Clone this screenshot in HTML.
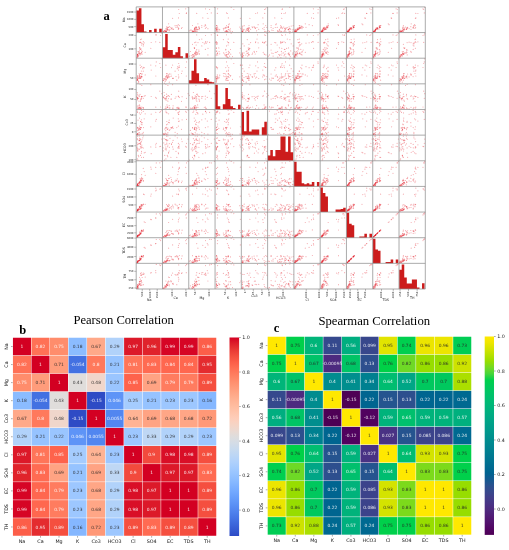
<!DOCTYPE html>
<html lang="en"><head><meta charset="utf-8"><title>Correlation figure</title>
<style>html,body{margin:0;padding:0;background:#fff;width:509px;height:550px;overflow:hidden}svg{display:block}</style>
</head><body>
<svg width="509" height="550" viewBox="0 0 509 550">
<rect width="509" height="550" fill="#fff"/>
<g id="scatter">
<g stroke="#e2121e" stroke-opacity="0.34" stroke-width="1.2" stroke-linecap="round" fill="none">
<path d="M169.2 30.8h0M195.6 30.8h0M219.1 30.8h0M256.6 30.8h0M277.6 30.8h0M296.5 30.8h0M322.1 30.8h0M349.0 30.8h0M375.2 30.8h0M403.5 30.8h0M138.0 51.6h0M195.6 51.6h0M219.1 51.6h0M256.6 51.6h0M277.6 51.6h0M296.5 51.6h0M322.1 51.6h0M349.0 51.6h0M375.2 51.6h0M403.5 51.6h0M138.0 77.2h0M169.2 77.2h0M219.1 77.2h0M256.6 77.2h0M277.6 77.2h0M296.5 77.2h0M322.1 77.2h0M349.0 77.2h0M375.2 77.2h0M403.5 77.2h0M138.0 105.6h0M169.2 105.6h0M195.6 105.6h0M256.6 105.6h0M277.6 105.6h0M296.5 105.6h0M322.1 105.6h0M349.0 105.6h0M375.2 105.6h0M403.5 105.6h0M138.0 120.2h0M169.2 120.2h0M195.6 120.2h0M219.1 120.2h0M277.6 120.2h0M296.5 120.2h0M322.1 120.2h0M349.0 120.2h0M375.2 120.2h0M403.5 120.2h0M138.0 151.0h0M169.2 151.0h0M195.6 151.0h0M219.1 151.0h0M256.6 151.0h0M296.5 151.0h0M322.1 151.0h0M349.0 151.0h0M375.2 151.0h0M403.5 151.0h0M138.0 183.8h0M169.2 183.8h0M195.6 183.8h0M219.1 183.8h0M256.6 183.8h0M277.6 183.8h0M322.1 183.8h0M349.0 183.8h0M375.2 183.8h0M403.5 183.8h0M138.0 210.2h0M169.2 210.2h0M195.6 210.2h0M219.1 210.2h0M256.6 210.2h0M277.6 210.2h0M296.5 210.2h0M349.0 210.2h0M375.2 210.2h0M403.5 210.2h0M138.0 235.3h0M169.2 235.3h0M195.6 235.3h0M219.1 235.3h0M256.6 235.3h0M277.6 235.3h0M296.5 235.3h0M322.1 235.3h0M375.2 235.3h0M403.5 235.3h0M138.0 260.9h0M169.2 260.9h0M195.6 260.9h0M219.1 260.9h0M256.6 260.9h0M277.6 260.9h0M296.5 260.9h0M322.1 260.9h0M349.0 260.9h0M403.5 260.9h0M138.0 284.6h0M169.2 284.6h0M195.6 284.6h0M219.1 284.6h0M256.6 284.6h0M277.6 284.6h0M296.5 284.6h0M322.1 284.6h0M349.0 284.6h0M375.2 284.6h0"/>
<path d="M176.8 25.5h0M192.5 25.5h0M216.6 25.5h0M249.0 25.5h0M271.1 25.5h0M299.9 25.5h0M338.5 25.5h0M354.3 25.5h0M380.6 25.5h0M403.4 25.5h0M143.5 44.3h0M192.5 44.3h0M216.6 44.3h0M249.0 44.3h0M271.1 44.3h0M299.9 44.3h0M338.5 44.3h0M354.3 44.3h0M380.6 44.3h0M403.4 44.3h0M143.5 80.2h0M176.8 80.2h0M216.6 80.2h0M249.0 80.2h0M271.1 80.2h0M299.9 80.2h0M338.5 80.2h0M354.3 80.2h0M380.6 80.2h0M403.4 80.2h0M143.5 107.9h0M176.8 107.9h0M192.5 107.9h0M249.0 107.9h0M271.1 107.9h0M299.9 107.9h0M338.5 107.9h0M354.3 107.9h0M380.6 107.9h0M403.4 107.9h0M143.5 127.6h0M176.8 127.6h0M192.5 127.6h0M216.6 127.6h0M271.1 127.6h0M299.9 127.6h0M338.5 127.6h0M354.3 127.6h0M380.6 127.6h0M403.4 127.6h0M143.5 157.4h0M176.8 157.4h0M192.5 157.4h0M216.6 157.4h0M249.0 157.4h0M299.9 157.4h0M338.5 157.4h0M354.3 157.4h0M380.6 157.4h0M403.4 157.4h0M143.5 180.6h0M176.8 180.6h0M192.5 180.6h0M216.6 180.6h0M249.0 180.6h0M271.1 180.6h0M338.5 180.6h0M354.3 180.6h0M380.6 180.6h0M403.4 180.6h0M143.5 194.2h0M176.8 194.2h0M192.5 194.2h0M216.6 194.2h0M249.0 194.2h0M271.1 194.2h0M299.9 194.2h0M354.3 194.2h0M380.6 194.2h0M403.4 194.2h0M143.5 230.0h0M176.8 230.0h0M192.5 230.0h0M216.6 230.0h0M249.0 230.0h0M271.1 230.0h0M299.9 230.0h0M338.5 230.0h0M380.6 230.0h0M403.4 230.0h0M143.5 255.7h0M176.8 255.7h0M192.5 255.7h0M216.6 255.7h0M249.0 255.7h0M271.1 255.7h0M299.9 255.7h0M338.5 255.7h0M354.3 255.7h0M403.4 255.7h0M143.5 284.7h0M176.8 284.7h0M192.5 284.7h0M216.6 284.7h0M249.0 284.7h0M271.1 284.7h0M299.9 284.7h0M338.5 284.7h0M354.3 284.7h0M380.6 284.7h0"/>
<path d="M178.5 17.9h0M202.8 17.9h0M228.4 17.9h0M262.8 17.9h0M274.8 17.9h0M311.5 17.9h0M338.6 17.9h0M364.9 17.9h0M391.2 17.9h0M415.9 17.9h0M151.2 42.5h0M202.8 42.5h0M228.4 42.5h0M262.8 42.5h0M274.8 42.5h0M311.5 42.5h0M338.6 42.5h0M364.9 42.5h0M391.2 42.5h0M415.9 42.5h0M151.2 70.1h0M178.5 70.1h0M228.4 70.1h0M262.8 70.1h0M274.8 70.1h0M311.5 70.1h0M338.6 70.1h0M364.9 70.1h0M391.2 70.1h0M415.9 70.1h0M151.2 96.5h0M178.5 96.5h0M202.8 96.5h0M262.8 96.5h0M274.8 96.5h0M311.5 96.5h0M338.6 96.5h0M364.9 96.5h0M391.2 96.5h0M415.9 96.5h0M151.2 114.2h0M178.5 114.2h0M202.8 114.2h0M228.4 114.2h0M274.8 114.2h0M311.5 114.2h0M338.6 114.2h0M364.9 114.2h0M391.2 114.2h0M415.9 114.2h0M151.2 153.7h0M178.5 153.7h0M202.8 153.7h0M228.4 153.7h0M262.8 153.7h0M311.5 153.7h0M338.6 153.7h0M364.9 153.7h0M391.2 153.7h0M415.9 153.7h0M151.2 169.2h0M178.5 169.2h0M202.8 169.2h0M228.4 169.2h0M262.8 169.2h0M274.8 169.2h0M338.6 169.2h0M364.9 169.2h0M391.2 169.2h0M415.9 169.2h0M151.2 194.1h0M178.5 194.1h0M202.8 194.1h0M228.4 194.1h0M262.8 194.1h0M274.8 194.1h0M311.5 194.1h0M364.9 194.1h0M391.2 194.1h0M415.9 194.1h0M151.2 219.7h0M178.5 219.7h0M202.8 219.7h0M228.4 219.7h0M262.8 219.7h0M274.8 219.7h0M311.5 219.7h0M338.6 219.7h0M391.2 219.7h0M415.9 219.7h0M151.2 245.3h0M178.5 245.3h0M202.8 245.3h0M228.4 245.3h0M262.8 245.3h0M274.8 245.3h0M311.5 245.3h0M338.6 245.3h0M364.9 245.3h0M415.9 245.3h0M151.2 272.5h0M178.5 272.5h0M202.8 272.5h0M228.4 272.5h0M262.8 272.5h0M274.8 272.5h0M311.5 272.5h0M338.6 272.5h0M364.9 272.5h0M391.2 272.5h0"/>
<path d="M173.2 29.3h0M194.2 29.3h0M216.4 29.3h0M258.7 29.3h0M279.4 29.3h0M298.0 29.3h0M324.6 29.3h0M350.5 29.3h0M376.8 29.3h0M403.7 29.3h0M139.5 47.8h0M194.2 47.8h0M216.4 47.8h0M258.7 47.8h0M279.4 47.8h0M298.0 47.8h0M324.6 47.8h0M350.5 47.8h0M376.8 47.8h0M403.7 47.8h0M139.5 78.5h0M173.2 78.5h0M216.4 78.5h0M258.7 78.5h0M279.4 78.5h0M298.0 78.5h0M324.6 78.5h0M350.5 78.5h0M376.8 78.5h0M403.7 78.5h0M139.5 108.1h0M173.2 108.1h0M194.2 108.1h0M258.7 108.1h0M279.4 108.1h0M298.0 108.1h0M324.6 108.1h0M350.5 108.1h0M376.8 108.1h0M403.7 108.1h0M139.5 118.1h0M173.2 118.1h0M194.2 118.1h0M216.4 118.1h0M279.4 118.1h0M298.0 118.1h0M324.6 118.1h0M350.5 118.1h0M376.8 118.1h0M403.7 118.1h0M139.5 149.2h0M173.2 149.2h0M194.2 149.2h0M216.4 149.2h0M258.7 149.2h0M298.0 149.2h0M324.6 149.2h0M350.5 149.2h0M376.8 149.2h0M403.7 149.2h0M139.5 182.4h0M173.2 182.4h0M194.2 182.4h0M216.4 182.4h0M258.7 182.4h0M279.4 182.4h0M324.6 182.4h0M350.5 182.4h0M376.8 182.4h0M403.7 182.4h0M139.5 207.8h0M173.2 207.8h0M194.2 207.8h0M216.4 207.8h0M258.7 207.8h0M279.4 207.8h0M298.0 207.8h0M350.5 207.8h0M376.8 207.8h0M403.7 207.8h0M139.5 233.8h0M173.2 233.8h0M194.2 233.8h0M216.4 233.8h0M258.7 233.8h0M279.4 233.8h0M298.0 233.8h0M324.6 233.8h0M376.8 233.8h0M403.7 233.8h0M139.5 259.4h0M173.2 259.4h0M194.2 259.4h0M216.4 259.4h0M258.7 259.4h0M279.4 259.4h0M298.0 259.4h0M324.6 259.4h0M350.5 259.4h0M403.7 259.4h0M139.5 284.4h0M173.2 284.4h0M194.2 284.4h0M216.4 284.4h0M258.7 284.4h0M279.4 284.4h0M298.0 284.4h0M324.6 284.4h0M350.5 284.4h0M376.8 284.4h0"/>
<path d="M166.5 26.8h0M196.1 26.8h0M228.1 26.8h0M252.1 26.8h0M289.1 26.8h0M301.2 26.8h0M327.9 26.8h0M353.1 26.8h0M379.4 26.8h0M403.2 26.8h0M142.0 54.3h0M196.1 54.3h0M228.1 54.3h0M252.1 54.3h0M289.1 54.3h0M301.2 54.3h0M327.9 54.3h0M353.1 54.3h0M379.4 54.3h0M403.2 54.3h0M142.0 76.7h0M166.5 76.7h0M228.1 76.7h0M252.1 76.7h0M289.1 76.7h0M301.2 76.7h0M327.9 76.7h0M353.1 76.7h0M379.4 76.7h0M403.2 76.7h0M142.0 96.7h0M166.5 96.7h0M196.1 96.7h0M252.1 96.7h0M289.1 96.7h0M301.2 96.7h0M327.9 96.7h0M353.1 96.7h0M379.4 96.7h0M403.2 96.7h0M142.0 124.7h0M166.5 124.7h0M196.1 124.7h0M228.1 124.7h0M289.1 124.7h0M301.2 124.7h0M327.9 124.7h0M353.1 124.7h0M379.4 124.7h0M403.2 124.7h0M142.0 139.8h0M166.5 139.8h0M196.1 139.8h0M228.1 139.8h0M252.1 139.8h0M301.2 139.8h0M327.9 139.8h0M353.1 139.8h0M379.4 139.8h0M403.2 139.8h0M142.0 179.3h0M166.5 179.3h0M196.1 179.3h0M228.1 179.3h0M252.1 179.3h0M289.1 179.3h0M327.9 179.3h0M353.1 179.3h0M379.4 179.3h0M403.2 179.3h0M142.0 204.6h0M166.5 204.6h0M196.1 204.6h0M228.1 204.6h0M252.1 204.6h0M289.1 204.6h0M301.2 204.6h0M353.1 204.6h0M379.4 204.6h0M403.2 204.6h0M142.0 231.2h0M166.5 231.2h0M196.1 231.2h0M228.1 231.2h0M252.1 231.2h0M289.1 231.2h0M301.2 231.2h0M327.9 231.2h0M379.4 231.2h0M403.2 231.2h0M142.0 256.9h0M166.5 256.9h0M196.1 256.9h0M228.1 256.9h0M252.1 256.9h0M289.1 256.9h0M301.2 256.9h0M327.9 256.9h0M353.1 256.9h0M403.2 256.9h0M142.0 284.9h0M166.5 284.9h0M196.1 284.9h0M228.1 284.9h0M252.1 284.9h0M289.1 284.9h0M301.2 284.9h0M327.9 284.9h0M353.1 284.9h0M379.4 284.9h0"/>
<path d="M168.5 27.5h0M196.7 27.5h0M226.2 27.5h0M254.4 27.5h0M275.3 27.5h0M301.9 27.5h0M325.8 27.5h0M351.6 27.5h0M377.9 27.5h0M407.0 27.5h0M141.4 52.3h0M196.7 52.3h0M226.2 52.3h0M254.4 52.3h0M275.3 52.3h0M301.9 52.3h0M325.8 52.3h0M351.6 52.3h0M377.9 52.3h0M407.0 52.3h0M141.4 76.1h0M168.5 76.1h0M226.2 76.1h0M254.4 76.1h0M275.3 76.1h0M301.9 76.1h0M325.8 76.1h0M351.6 76.1h0M377.9 76.1h0M407.0 76.1h0M141.4 98.6h0M168.5 98.6h0M196.7 98.6h0M254.4 98.6h0M275.3 98.6h0M301.9 98.6h0M325.8 98.6h0M351.6 98.6h0M377.9 98.6h0M407.0 98.6h0M141.4 122.4h0M168.5 122.4h0M196.7 122.4h0M226.2 122.4h0M275.3 122.4h0M301.9 122.4h0M325.8 122.4h0M351.6 122.4h0M377.9 122.4h0M407.0 122.4h0M141.4 153.2h0M168.5 153.2h0M196.7 153.2h0M226.2 153.2h0M254.4 153.2h0M301.9 153.2h0M325.8 153.2h0M351.6 153.2h0M377.9 153.2h0M407.0 153.2h0M141.4 178.6h0M168.5 178.6h0M196.7 178.6h0M226.2 178.6h0M254.4 178.6h0M275.3 178.6h0M325.8 178.6h0M351.6 178.6h0M377.9 178.6h0M407.0 178.6h0M141.4 206.5h0M168.5 206.5h0M196.7 206.5h0M226.2 206.5h0M254.4 206.5h0M275.3 206.5h0M301.9 206.5h0M351.6 206.5h0M377.9 206.5h0M407.0 206.5h0M141.4 232.6h0M168.5 232.6h0M196.7 232.6h0M226.2 232.6h0M254.4 232.6h0M275.3 232.6h0M301.9 232.6h0M325.8 232.6h0M377.9 232.6h0M407.0 232.6h0M141.4 258.3h0M168.5 258.3h0M196.7 258.3h0M226.2 258.3h0M254.4 258.3h0M275.3 258.3h0M301.9 258.3h0M325.8 258.3h0M351.6 258.3h0M407.0 258.3h0M141.4 281.2h0M168.5 281.2h0M196.7 281.2h0M226.2 281.2h0M254.4 281.2h0M275.3 281.2h0M301.9 281.2h0M325.8 281.2h0M351.6 281.2h0M377.9 281.2h0"/>
<path d="M181.5 28.4h0M199.4 28.4h0M223.4 28.4h0M247.3 28.4h0M289.9 28.4h0M297.8 28.4h0M325.7 28.4h0M351.2 28.4h0M377.5 28.4h0M415.0 28.4h0M140.5 39.6h0M199.4 39.6h0M223.4 39.6h0M247.3 39.6h0M289.9 39.6h0M297.8 39.6h0M325.7 39.6h0M351.2 39.6h0M377.5 39.6h0M415.0 39.6h0M140.5 73.5h0M181.5 73.5h0M223.4 73.5h0M247.3 73.5h0M289.9 73.5h0M297.8 73.5h0M325.7 73.5h0M351.2 73.5h0M377.5 73.5h0M415.0 73.5h0M140.5 101.3h0M181.5 101.3h0M199.4 101.3h0M247.3 101.3h0M289.9 101.3h0M297.8 101.3h0M325.7 101.3h0M351.2 101.3h0M377.5 101.3h0M415.0 101.3h0M140.5 129.3h0M181.5 129.3h0M199.4 129.3h0M223.4 129.3h0M289.9 129.3h0M297.8 129.3h0M325.7 129.3h0M351.2 129.3h0M377.5 129.3h0M415.0 129.3h0M140.5 139.0h0M181.5 139.0h0M199.4 139.0h0M223.4 139.0h0M247.3 139.0h0M297.8 139.0h0M325.7 139.0h0M351.2 139.0h0M377.5 139.0h0M415.0 139.0h0M140.5 182.6h0M181.5 182.6h0M199.4 182.6h0M223.4 182.6h0M247.3 182.6h0M289.9 182.6h0M325.7 182.6h0M351.2 182.6h0M377.5 182.6h0M415.0 182.6h0M140.5 206.7h0M181.5 206.7h0M199.4 206.7h0M223.4 206.7h0M247.3 206.7h0M289.9 206.7h0M297.8 206.7h0M351.2 206.7h0M377.5 206.7h0M415.0 206.7h0M140.5 233.0h0M181.5 233.0h0M199.4 233.0h0M223.4 233.0h0M247.3 233.0h0M289.9 233.0h0M297.8 233.0h0M325.7 233.0h0M377.5 233.0h0M415.0 233.0h0M140.5 258.7h0M181.5 258.7h0M199.4 258.7h0M223.4 258.7h0M247.3 258.7h0M289.9 258.7h0M297.8 258.7h0M325.7 258.7h0M351.2 258.7h0M415.0 258.7h0M140.5 273.4h0M181.5 273.4h0M199.4 273.4h0M223.4 273.4h0M247.3 273.4h0M289.9 273.4h0M297.8 273.4h0M325.7 273.4h0M351.2 273.4h0M377.5 273.4h0"/>
<path d="M169.4 26.7h0M198.9 26.7h0M228.4 26.7h0M254.1 26.7h0M281.4 26.7h0M302.2 26.7h0M327.2 26.7h0M353.9 26.7h0M380.1 26.7h0M410.8 26.7h0M142.2 51.4h0M198.9 51.4h0M228.4 51.4h0M254.1 51.4h0M281.4 51.4h0M302.2 51.4h0M327.2 51.4h0M353.9 51.4h0M380.1 51.4h0M410.8 51.4h0M142.2 73.9h0M169.4 73.9h0M228.4 73.9h0M254.1 73.9h0M281.4 73.9h0M302.2 73.9h0M327.2 73.9h0M353.9 73.9h0M380.1 73.9h0M410.8 73.9h0M142.2 96.5h0M169.4 96.5h0M198.9 96.5h0M254.1 96.5h0M281.4 96.5h0M302.2 96.5h0M327.2 96.5h0M353.9 96.5h0M380.1 96.5h0M410.8 96.5h0M142.2 122.7h0M169.4 122.7h0M198.9 122.7h0M228.4 122.7h0M281.4 122.7h0M302.2 122.7h0M327.2 122.7h0M353.9 122.7h0M380.1 122.7h0M410.8 122.7h0M142.2 147.3h0M169.4 147.3h0M198.9 147.3h0M228.4 147.3h0M254.1 147.3h0M302.2 147.3h0M327.2 147.3h0M353.9 147.3h0M380.1 147.3h0M410.8 147.3h0M142.2 178.3h0M169.4 178.3h0M198.9 178.3h0M228.4 178.3h0M254.1 178.3h0M281.4 178.3h0M327.2 178.3h0M353.9 178.3h0M380.1 178.3h0M410.8 178.3h0M142.2 205.2h0M169.4 205.2h0M198.9 205.2h0M228.4 205.2h0M254.1 205.2h0M281.4 205.2h0M302.2 205.2h0M353.9 205.2h0M380.1 205.2h0M410.8 205.2h0M142.2 230.5h0M169.4 230.5h0M198.9 230.5h0M228.4 230.5h0M254.1 230.5h0M281.4 230.5h0M302.2 230.5h0M327.2 230.5h0M380.1 230.5h0M410.8 230.5h0M142.2 256.1h0M169.4 256.1h0M198.9 256.1h0M228.4 256.1h0M254.1 256.1h0M281.4 256.1h0M302.2 256.1h0M327.2 256.1h0M353.9 256.1h0M410.8 256.1h0M142.2 277.5h0M169.4 277.5h0M198.9 277.5h0M228.4 277.5h0M254.1 277.5h0M281.4 277.5h0M302.2 277.5h0M327.2 277.5h0M353.9 277.5h0M380.1 277.5h0"/>
<path d="M178.7 9.5h0M209.6 9.5h0M233.8 9.5h0M264.6 9.5h0M282.1 9.5h0M318.1 9.5h0M343.7 9.5h0M371.1 9.5h0M397.4 9.5h0M423.7 9.5h0M159.8 42.4h0M209.6 42.4h0M233.8 42.4h0M264.6 42.4h0M282.1 42.4h0M318.1 42.4h0M343.7 42.4h0M371.1 42.4h0M397.4 42.4h0M423.7 42.4h0M159.8 63.5h0M178.7 63.5h0M233.8 63.5h0M264.6 63.5h0M282.1 63.5h0M318.1 63.5h0M343.7 63.5h0M371.1 63.5h0M397.4 63.5h0M423.7 63.5h0M159.8 91.2h0M178.7 91.2h0M209.6 91.2h0M264.6 91.2h0M282.1 91.2h0M318.1 91.2h0M343.7 91.2h0M371.1 91.2h0M397.4 91.2h0M423.7 91.2h0M159.8 112.4h0M178.7 112.4h0M209.6 112.4h0M233.8 112.4h0M282.1 112.4h0M318.1 112.4h0M343.7 112.4h0M371.1 112.4h0M397.4 112.4h0M423.7 112.4h0M159.8 146.6h0M178.7 146.6h0M209.6 146.6h0M233.8 146.6h0M264.6 146.6h0M318.1 146.6h0M343.7 146.6h0M371.1 146.6h0M397.4 146.6h0M423.7 146.6h0M159.8 162.8h0M178.7 162.8h0M209.6 162.8h0M233.8 162.8h0M264.6 162.8h0M282.1 162.8h0M343.7 162.8h0M371.1 162.8h0M397.4 162.8h0M423.7 162.8h0M159.8 189.1h0M178.7 189.1h0M209.6 189.1h0M233.8 189.1h0M264.6 189.1h0M282.1 189.1h0M318.1 189.1h0M371.1 189.1h0M397.4 189.1h0M423.7 189.1h0M159.8 213.6h0M178.7 213.6h0M209.6 213.6h0M233.8 213.6h0M264.6 213.6h0M282.1 213.6h0M318.1 213.6h0M343.7 213.6h0M397.4 213.6h0M423.7 213.6h0M159.8 239.3h0M178.7 239.3h0M209.6 239.3h0M233.8 239.3h0M264.6 239.3h0M282.1 239.3h0M318.1 239.3h0M343.7 239.3h0M371.1 239.3h0M423.7 239.3h0M159.8 264.9h0M178.7 264.9h0M209.6 264.9h0M233.8 264.9h0M264.6 264.9h0M282.1 264.9h0M318.1 264.9h0M343.7 264.9h0M371.1 264.9h0M397.4 264.9h0"/>
<path d="M178.4 29.3h0M198.0 29.3h0M217.3 29.3h0M250.6 29.3h0M285.4 29.3h0M298.8 29.3h0M324.8 29.3h0M351.5 29.3h0M377.8 29.3h0M411.0 29.3h0M139.5 42.6h0M198.0 42.6h0M217.3 42.6h0M250.6 42.6h0M285.4 42.6h0M298.8 42.6h0M324.8 42.6h0M351.5 42.6h0M377.8 42.6h0M411.0 42.6h0M139.5 74.8h0M178.4 74.8h0M217.3 74.8h0M250.6 74.8h0M285.4 74.8h0M298.8 74.8h0M324.8 74.8h0M351.5 74.8h0M377.8 74.8h0M411.0 74.8h0M139.5 107.3h0M178.4 107.3h0M198.0 107.3h0M250.6 107.3h0M285.4 107.3h0M298.8 107.3h0M324.8 107.3h0M351.5 107.3h0M377.8 107.3h0M411.0 107.3h0M139.5 126.1h0M178.4 126.1h0M198.0 126.1h0M217.3 126.1h0M285.4 126.1h0M298.8 126.1h0M324.8 126.1h0M351.5 126.1h0M377.8 126.1h0M411.0 126.1h0M139.5 143.4h0M178.4 143.4h0M198.0 143.4h0M217.3 143.4h0M250.6 143.4h0M298.8 143.4h0M324.8 143.4h0M351.5 143.4h0M377.8 143.4h0M411.0 143.4h0M139.5 181.6h0M178.4 181.6h0M198.0 181.6h0M217.3 181.6h0M250.6 181.6h0M285.4 181.6h0M324.8 181.6h0M351.5 181.6h0M377.8 181.6h0M411.0 181.6h0M139.5 207.5h0M178.4 207.5h0M198.0 207.5h0M217.3 207.5h0M250.6 207.5h0M285.4 207.5h0M298.8 207.5h0M351.5 207.5h0M377.8 207.5h0M411.0 207.5h0M139.5 232.8h0M178.4 232.8h0M198.0 232.8h0M217.3 232.8h0M250.6 232.8h0M285.4 232.8h0M298.8 232.8h0M324.8 232.8h0M377.8 232.8h0M411.0 232.8h0M139.5 258.4h0M178.4 258.4h0M198.0 258.4h0M217.3 258.4h0M250.6 258.4h0M285.4 258.4h0M298.8 258.4h0M324.8 258.4h0M351.5 258.4h0M411.0 258.4h0M139.5 277.3h0M178.4 277.3h0M198.0 277.3h0M217.3 277.3h0M250.6 277.3h0M285.4 277.3h0M298.8 277.3h0M324.8 277.3h0M351.5 277.3h0M377.8 277.3h0"/>
<path d="M173.1 29.2h0M194.6 29.2h0M218.8 29.2h0M248.3 29.2h0M288.5 29.2h0M296.7 29.2h0M326.1 29.2h0M349.8 29.2h0M376.1 29.2h0M404.8 29.2h0M139.7 47.9h0M194.6 47.9h0M218.8 47.9h0M248.3 47.9h0M288.5 47.9h0M296.7 47.9h0M326.1 47.9h0M349.8 47.9h0M376.1 47.9h0M404.8 47.9h0M139.7 78.2h0M173.1 78.2h0M218.8 78.2h0M248.3 78.2h0M288.5 78.2h0M296.7 78.2h0M326.1 78.2h0M349.8 78.2h0M376.1 78.2h0M404.8 78.2h0M139.7 105.8h0M173.1 105.8h0M194.6 105.8h0M248.3 105.8h0M288.5 105.8h0M296.7 105.8h0M326.1 105.8h0M349.8 105.8h0M376.1 105.8h0M404.8 105.8h0M139.7 128.4h0M173.1 128.4h0M194.6 128.4h0M218.8 128.4h0M288.5 128.4h0M296.7 128.4h0M326.1 128.4h0M349.8 128.4h0M376.1 128.4h0M404.8 128.4h0M139.7 140.4h0M173.1 140.4h0M194.6 140.4h0M218.8 140.4h0M248.3 140.4h0M296.7 140.4h0M326.1 140.4h0M349.8 140.4h0M376.1 140.4h0M404.8 140.4h0M139.7 183.7h0M173.1 183.7h0M194.6 183.7h0M218.8 183.7h0M248.3 183.7h0M288.5 183.7h0M326.1 183.7h0M349.8 183.7h0M376.1 183.7h0M404.8 183.7h0M139.7 206.3h0M173.1 206.3h0M194.6 206.3h0M218.8 206.3h0M248.3 206.3h0M288.5 206.3h0M296.7 206.3h0M349.8 206.3h0M376.1 206.3h0M404.8 206.3h0M139.7 234.4h0M173.1 234.4h0M194.6 234.4h0M218.8 234.4h0M248.3 234.4h0M288.5 234.4h0M296.7 234.4h0M326.1 234.4h0M376.1 234.4h0M404.8 234.4h0M139.7 260.1h0M173.1 260.1h0M194.6 260.1h0M218.8 260.1h0M248.3 260.1h0M288.5 260.1h0M296.7 260.1h0M326.1 260.1h0M349.8 260.1h0M404.8 260.1h0M139.7 283.3h0M173.1 283.3h0M194.6 283.3h0M218.8 283.3h0M248.3 283.3h0M288.5 283.3h0M296.7 283.3h0M326.1 283.3h0M349.8 283.3h0M376.1 283.3h0"/>
<path d="M169.3 30.1h0M190.4 30.1h0M216.4 30.1h0M246.2 30.1h0M285.3 30.1h0M294.9 30.1h0M324.1 30.1h0M349.2 30.1h0M375.5 30.1h0M402.3 30.1h0M138.7 51.5h0M190.4 51.5h0M216.4 51.5h0M246.2 51.5h0M285.3 51.5h0M294.9 51.5h0M324.1 51.5h0M349.2 51.5h0M375.5 51.5h0M402.3 51.5h0M138.7 82.2h0M169.3 82.2h0M216.4 82.2h0M246.2 82.2h0M285.3 82.2h0M294.9 82.2h0M324.1 82.2h0M349.2 82.2h0M375.5 82.2h0M402.3 82.2h0M138.7 108.1h0M169.3 108.1h0M190.4 108.1h0M246.2 108.1h0M285.3 108.1h0M294.9 108.1h0M324.1 108.1h0M349.2 108.1h0M375.5 108.1h0M402.3 108.1h0M138.7 130.4h0M169.3 130.4h0M190.4 130.4h0M216.4 130.4h0M285.3 130.4h0M294.9 130.4h0M324.1 130.4h0M349.2 130.4h0M375.5 130.4h0M402.3 130.4h0M138.7 143.6h0M169.3 143.6h0M190.4 143.6h0M216.4 143.6h0M246.2 143.6h0M294.9 143.6h0M324.1 143.6h0M349.2 143.6h0M375.5 143.6h0M402.3 143.6h0M138.7 185.5h0M169.3 185.5h0M190.4 185.5h0M216.4 185.5h0M246.2 185.5h0M285.3 185.5h0M324.1 185.5h0M349.2 185.5h0M375.5 185.5h0M402.3 185.5h0M138.7 208.3h0M169.3 208.3h0M190.4 208.3h0M216.4 208.3h0M246.2 208.3h0M285.3 208.3h0M294.9 208.3h0M349.2 208.3h0M375.5 208.3h0M402.3 208.3h0M138.7 235.0h0M169.3 235.0h0M190.4 235.0h0M216.4 235.0h0M246.2 235.0h0M285.3 235.0h0M294.9 235.0h0M324.1 235.0h0M375.5 235.0h0M402.3 235.0h0M138.7 260.6h0M169.3 260.6h0M190.4 260.6h0M216.4 260.6h0M246.2 260.6h0M285.3 260.6h0M294.9 260.6h0M324.1 260.6h0M349.2 260.6h0M402.3 260.6h0M138.7 285.8h0M169.3 285.8h0M190.4 285.8h0M216.4 285.8h0M246.2 285.8h0M285.3 285.8h0M294.9 285.8h0M324.1 285.8h0M349.2 285.8h0M375.5 285.8h0"/>
<path d="M172.5 28.0h0M194.5 28.0h0M216.4 28.0h0M249.3 28.0h0M286.6 28.0h0M298.1 28.0h0M327.3 28.0h0M350.8 28.0h0M377.0 28.0h0M404.5 28.0h0M140.8 48.4h0M194.5 48.4h0M216.4 48.4h0M249.3 48.4h0M286.6 48.4h0M298.1 48.4h0M327.3 48.4h0M350.8 48.4h0M377.0 48.4h0M404.5 48.4h0M140.8 78.3h0M172.5 78.3h0M216.4 78.3h0M249.3 78.3h0M286.6 78.3h0M298.1 78.3h0M327.3 78.3h0M350.8 78.3h0M377.0 78.3h0M404.5 78.3h0M140.8 108.2h0M172.5 108.2h0M194.5 108.2h0M249.3 108.2h0M286.6 108.2h0M298.1 108.2h0M327.3 108.2h0M350.8 108.2h0M377.0 108.2h0M404.5 108.2h0M140.8 127.3h0M172.5 127.3h0M194.5 127.3h0M216.4 127.3h0M286.6 127.3h0M298.1 127.3h0M327.3 127.3h0M350.8 127.3h0M377.0 127.3h0M404.5 127.3h0M140.8 142.3h0M172.5 142.3h0M194.5 142.3h0M216.4 142.3h0M249.3 142.3h0M298.1 142.3h0M327.3 142.3h0M350.8 142.3h0M377.0 142.3h0M404.5 142.3h0M140.8 182.3h0M172.5 182.3h0M194.5 182.3h0M216.4 182.3h0M249.3 182.3h0M286.6 182.3h0M327.3 182.3h0M350.8 182.3h0M377.0 182.3h0M404.5 182.3h0M140.8 205.1h0M172.5 205.1h0M194.5 205.1h0M216.4 205.1h0M249.3 205.1h0M286.6 205.1h0M298.1 205.1h0M350.8 205.1h0M377.0 205.1h0M404.5 205.1h0M140.8 233.5h0M172.5 233.5h0M194.5 233.5h0M216.4 233.5h0M249.3 233.5h0M286.6 233.5h0M298.1 233.5h0M327.3 233.5h0M377.0 233.5h0M404.5 233.5h0M140.8 259.2h0M172.5 259.2h0M194.5 259.2h0M216.4 259.2h0M249.3 259.2h0M286.6 259.2h0M298.1 259.2h0M327.3 259.2h0M350.8 259.2h0M404.5 259.2h0M140.8 283.6h0M172.5 283.6h0M194.5 283.6h0M216.4 283.6h0M249.3 283.6h0M286.6 283.6h0M298.1 283.6h0M327.3 283.6h0M350.8 283.6h0M377.0 283.6h0"/>
<path d="M167.7 27.6h0M195.6 27.6h0M217.6 27.6h0M252.6 27.6h0M282.0 27.6h0M299.8 27.6h0M326.5 27.6h0M351.0 27.6h0M377.3 27.6h0M402.8 27.6h0M141.2 53.1h0M195.6 53.1h0M217.6 53.1h0M252.6 53.1h0M282.0 53.1h0M299.8 53.1h0M326.5 53.1h0M351.0 53.1h0M377.3 53.1h0M402.8 53.1h0M141.2 77.2h0M167.7 77.2h0M217.6 77.2h0M252.6 77.2h0M282.0 77.2h0M299.8 77.2h0M326.5 77.2h0M351.0 77.2h0M377.3 77.2h0M402.8 77.2h0M141.2 107.0h0M167.7 107.0h0M195.6 107.0h0M252.6 107.0h0M282.0 107.0h0M299.8 107.0h0M326.5 107.0h0M351.0 107.0h0M377.3 107.0h0M402.8 107.0h0M141.2 124.1h0M167.7 124.1h0M195.6 124.1h0M217.6 124.1h0M282.0 124.1h0M299.8 124.1h0M326.5 124.1h0M351.0 124.1h0M377.3 124.1h0M402.8 124.1h0M141.2 146.7h0M167.7 146.7h0M195.6 146.7h0M217.6 146.7h0M252.6 146.7h0M299.8 146.7h0M326.5 146.7h0M351.0 146.7h0M377.3 146.7h0M402.8 146.7h0M141.2 180.7h0M167.7 180.7h0M195.6 180.7h0M217.6 180.7h0M252.6 180.7h0M282.0 180.7h0M326.5 180.7h0M351.0 180.7h0M377.3 180.7h0M402.8 180.7h0M141.2 205.8h0M167.7 205.8h0M195.6 205.8h0M217.6 205.8h0M252.6 205.8h0M282.0 205.8h0M299.8 205.8h0M351.0 205.8h0M377.3 205.8h0M402.8 205.8h0M141.2 233.3h0M167.7 233.3h0M195.6 233.3h0M217.6 233.3h0M252.6 233.3h0M282.0 233.3h0M299.8 233.3h0M326.5 233.3h0M377.3 233.3h0M402.8 233.3h0M141.2 258.9h0M167.7 258.9h0M195.6 258.9h0M217.6 258.9h0M252.6 258.9h0M282.0 258.9h0M299.8 258.9h0M326.5 258.9h0M351.0 258.9h0M402.8 258.9h0M141.2 285.4h0M167.7 285.4h0M195.6 285.4h0M217.6 285.4h0M252.6 285.4h0M282.0 285.4h0M299.8 285.4h0M326.5 285.4h0M351.0 285.4h0M377.3 285.4h0"/>
<path d="M178.8 28.6h0M195.8 28.6h0M215.7 28.6h0M262.7 28.6h0M282.4 28.6h0M299.6 28.6h0M324.7 28.6h0M351.1 28.6h0M377.4 28.6h0M409.1 28.6h0M140.3 42.2h0M195.8 42.2h0M215.7 42.2h0M262.7 42.2h0M282.4 42.2h0M299.6 42.2h0M324.7 42.2h0M351.1 42.2h0M377.4 42.2h0M409.1 42.2h0M140.3 76.9h0M178.8 76.9h0M215.7 76.9h0M262.7 76.9h0M282.4 76.9h0M299.6 76.9h0M324.7 76.9h0M351.1 76.9h0M377.4 76.9h0M409.1 76.9h0M140.3 108.9h0M178.8 108.9h0M195.8 108.9h0M262.7 108.9h0M282.4 108.9h0M299.6 108.9h0M324.7 108.9h0M351.1 108.9h0M377.4 108.9h0M409.1 108.9h0M140.3 114.3h0M178.8 114.3h0M195.8 114.3h0M215.7 114.3h0M282.4 114.3h0M299.6 114.3h0M324.7 114.3h0M351.1 114.3h0M377.4 114.3h0M409.1 114.3h0M140.3 146.3h0M178.8 146.3h0M195.8 146.3h0M215.7 146.3h0M262.7 146.3h0M299.6 146.3h0M324.7 146.3h0M351.1 146.3h0M377.4 146.3h0M409.1 146.3h0M140.3 180.9h0M178.8 180.9h0M195.8 180.9h0M215.7 180.9h0M262.7 180.9h0M282.4 180.9h0M324.7 180.9h0M351.1 180.9h0M377.4 180.9h0M409.1 180.9h0M140.3 207.7h0M178.8 207.7h0M195.8 207.7h0M215.7 207.7h0M262.7 207.7h0M282.4 207.7h0M299.6 207.7h0M351.1 207.7h0M377.4 207.7h0M409.1 207.7h0M140.3 233.2h0M178.8 233.2h0M195.8 233.2h0M215.7 233.2h0M262.7 233.2h0M282.4 233.2h0M299.6 233.2h0M324.7 233.2h0M377.4 233.2h0M409.1 233.2h0M140.3 258.8h0M178.8 258.8h0M195.8 258.8h0M215.7 258.8h0M262.7 258.8h0M282.4 258.8h0M299.6 258.8h0M324.7 258.8h0M351.1 258.8h0M409.1 258.8h0M140.3 279.2h0M178.8 279.2h0M195.8 279.2h0M215.7 279.2h0M262.7 279.2h0M282.4 279.2h0M299.6 279.2h0M324.7 279.2h0M351.1 279.2h0M377.4 279.2h0"/>
<path d="M186.3 13.4h0M196.7 13.4h0M217.4 13.4h0M264.7 13.4h0M281.5 13.4h0M307.3 13.4h0M344.6 13.4h0M366.7 13.4h0M393.0 13.4h0M415.8 13.4h0M155.8 34.9h0M196.7 34.9h0M217.4 34.9h0M264.7 34.9h0M281.5 34.9h0M307.3 34.9h0M344.6 34.9h0M366.7 34.9h0M393.0 34.9h0M415.8 34.9h0M155.8 76.0h0M186.3 76.0h0M217.4 76.0h0M264.7 76.0h0M281.5 76.0h0M307.3 76.0h0M344.6 76.0h0M366.7 76.0h0M393.0 76.0h0M415.8 76.0h0M155.8 107.2h0M186.3 107.2h0M196.7 107.2h0M264.7 107.2h0M281.5 107.2h0M307.3 107.2h0M344.6 107.2h0M366.7 107.2h0M393.0 107.2h0M415.8 107.2h0M155.8 112.3h0M186.3 112.3h0M196.7 112.3h0M217.4 112.3h0M281.5 112.3h0M307.3 112.3h0M344.6 112.3h0M366.7 112.3h0M393.0 112.3h0M415.8 112.3h0M155.8 147.2h0M186.3 147.2h0M196.7 147.2h0M217.4 147.2h0M264.7 147.2h0M307.3 147.2h0M344.6 147.2h0M366.7 147.2h0M393.0 147.2h0M415.8 147.2h0M155.8 173.3h0M186.3 173.3h0M196.7 173.3h0M217.4 173.3h0M264.7 173.3h0M281.5 173.3h0M344.6 173.3h0M366.7 173.3h0M393.0 173.3h0M415.8 173.3h0M155.8 188.2h0M186.3 188.2h0M196.7 188.2h0M217.4 188.2h0M264.7 188.2h0M281.5 188.2h0M307.3 188.2h0M366.7 188.2h0M393.0 188.2h0M415.8 188.2h0M155.8 217.9h0M186.3 217.9h0M196.7 217.9h0M217.4 217.9h0M264.7 217.9h0M281.5 217.9h0M307.3 217.9h0M344.6 217.9h0M393.0 217.9h0M415.8 217.9h0M155.8 243.6h0M186.3 243.6h0M196.7 243.6h0M217.4 243.6h0M264.7 243.6h0M281.5 243.6h0M307.3 243.6h0M344.6 243.6h0M366.7 243.6h0M415.8 243.6h0M155.8 272.7h0M186.3 272.7h0M196.7 272.7h0M217.4 272.7h0M264.7 272.7h0M281.5 272.7h0M307.3 272.7h0M344.6 272.7h0M366.7 272.7h0M393.0 272.7h0"/>
<path d="M165.0 31.3h0M192.9 31.3h0M225.8 31.3h0M242.8 31.3h0M284.0 31.3h0M294.9 31.3h0M322.0 31.3h0M347.6 31.3h0M373.9 31.3h0M401.3 31.3h0M137.5 55.8h0M192.9 55.8h0M225.8 55.8h0M242.8 55.8h0M284.0 55.8h0M294.9 55.8h0M322.0 55.8h0M347.6 55.8h0M373.9 55.8h0M401.3 55.8h0M137.5 79.8h0M165.0 79.8h0M225.8 79.8h0M242.8 79.8h0M284.0 79.8h0M294.9 79.8h0M322.0 79.8h0M347.6 79.8h0M373.9 79.8h0M401.3 79.8h0M137.5 99.0h0M165.0 99.0h0M192.9 99.0h0M242.8 99.0h0M284.0 99.0h0M294.9 99.0h0M322.0 99.0h0M347.6 99.0h0M373.9 99.0h0M401.3 99.0h0M137.5 133.7h0M165.0 133.7h0M192.9 133.7h0M225.8 133.7h0M284.0 133.7h0M294.9 133.7h0M322.0 133.7h0M347.6 133.7h0M373.9 133.7h0M401.3 133.7h0M137.5 144.8h0M165.0 144.8h0M192.9 144.8h0M225.8 144.8h0M242.8 144.8h0M294.9 144.8h0M322.0 144.8h0M347.6 144.8h0M373.9 144.8h0M401.3 144.8h0M137.5 185.4h0M165.0 185.4h0M192.9 185.4h0M225.8 185.4h0M242.8 185.4h0M284.0 185.4h0M322.0 185.4h0M347.6 185.4h0M373.9 185.4h0M401.3 185.4h0M137.5 210.3h0M165.0 210.3h0M192.9 210.3h0M225.8 210.3h0M242.8 210.3h0M284.0 210.3h0M294.9 210.3h0M347.6 210.3h0M373.9 210.3h0M401.3 210.3h0M137.5 236.6h0M165.0 236.6h0M192.9 236.6h0M225.8 236.6h0M242.8 236.6h0M284.0 236.6h0M294.9 236.6h0M322.0 236.6h0M373.9 236.6h0M401.3 236.6h0M137.5 262.3h0M165.0 262.3h0M192.9 262.3h0M225.8 262.3h0M242.8 262.3h0M284.0 262.3h0M294.9 262.3h0M322.0 262.3h0M347.6 262.3h0M401.3 262.3h0M137.5 286.7h0M165.0 286.7h0M192.9 286.7h0M225.8 286.7h0M242.8 286.7h0M284.0 286.7h0M294.9 286.7h0M322.0 286.7h0M347.6 286.7h0M373.9 286.7h0"/>
<path d="M165.7 31.4h0M196.1 31.4h0M225.0 31.4h0M245.8 31.4h0M289.2 31.4h0M295.8 31.4h0M321.5 31.4h0M347.8 31.4h0M374.0 31.4h0M401.9 31.4h0M137.4 55.0h0M196.1 55.0h0M225.0 55.0h0M245.8 55.0h0M289.2 55.0h0M295.8 55.0h0M321.5 55.0h0M347.8 55.0h0M374.0 55.0h0M401.9 55.0h0M137.4 76.6h0M165.7 76.6h0M225.0 76.6h0M245.8 76.6h0M289.2 76.6h0M295.8 76.6h0M321.5 76.6h0M347.8 76.6h0M374.0 76.6h0M401.9 76.6h0M137.4 99.8h0M165.7 99.8h0M196.1 99.8h0M245.8 99.8h0M289.2 99.8h0M295.8 99.8h0M321.5 99.8h0M347.8 99.8h0M374.0 99.8h0M401.9 99.8h0M137.4 130.7h0M165.7 130.7h0M196.1 130.7h0M225.0 130.7h0M289.2 130.7h0M295.8 130.7h0M321.5 130.7h0M347.8 130.7h0M374.0 130.7h0M401.9 130.7h0M137.4 139.7h0M165.7 139.7h0M196.1 139.7h0M225.0 139.7h0M245.8 139.7h0M295.8 139.7h0M321.5 139.7h0M347.8 139.7h0M374.0 139.7h0M401.9 139.7h0M137.4 184.5h0M165.7 184.5h0M196.1 184.5h0M225.0 184.5h0M245.8 184.5h0M289.2 184.5h0M321.5 184.5h0M347.8 184.5h0M374.0 184.5h0M401.9 184.5h0M137.4 210.7h0M165.7 210.7h0M196.1 210.7h0M225.0 210.7h0M245.8 210.7h0M289.2 210.7h0M295.8 210.7h0M347.8 210.7h0M374.0 210.7h0M401.9 210.7h0M137.4 236.4h0M165.7 236.4h0M196.1 236.4h0M225.0 236.4h0M245.8 236.4h0M289.2 236.4h0M295.8 236.4h0M321.5 236.4h0M374.0 236.4h0M401.9 236.4h0M137.4 262.1h0M165.7 262.1h0M196.1 262.1h0M225.0 262.1h0M245.8 262.1h0M289.2 262.1h0M295.8 262.1h0M321.5 262.1h0M347.8 262.1h0M401.9 262.1h0M137.4 286.1h0M165.7 286.1h0M196.1 286.1h0M225.0 286.1h0M245.8 286.1h0M289.2 286.1h0M295.8 286.1h0M321.5 286.1h0M347.8 286.1h0M374.0 286.1h0"/>
<path d="M165.9 31.4h0M193.7 31.4h0M217.7 31.4h0M265.9 31.4h0M269.5 31.4h0M296.1 31.4h0M322.6 31.4h0M348.6 31.4h0M374.8 31.4h0M400.6 31.4h0M137.4 54.9h0M193.7 54.9h0M217.7 54.9h0M265.9 54.9h0M269.5 54.9h0M296.1 54.9h0M322.6 54.9h0M348.6 54.9h0M374.8 54.9h0M400.6 54.9h0M137.4 79.0h0M165.9 79.0h0M217.7 79.0h0M265.9 79.0h0M269.5 79.0h0M296.1 79.0h0M322.6 79.0h0M348.6 79.0h0M374.8 79.0h0M400.6 79.0h0M137.4 106.9h0M165.9 106.9h0M193.7 106.9h0M265.9 106.9h0M269.5 106.9h0M296.1 106.9h0M322.6 106.9h0M348.6 106.9h0M374.8 106.9h0M400.6 106.9h0M137.4 111.1h0M165.9 111.1h0M193.7 111.1h0M217.7 111.1h0M269.5 111.1h0M296.1 111.1h0M322.6 111.1h0M348.6 111.1h0M374.8 111.1h0M400.6 111.1h0M137.4 158.9h0M165.9 158.9h0M193.7 158.9h0M217.7 158.9h0M265.9 158.9h0M296.1 158.9h0M322.6 158.9h0M348.6 158.9h0M374.8 158.9h0M400.6 158.9h0M137.4 184.3h0M165.9 184.3h0M193.7 184.3h0M217.7 184.3h0M265.9 184.3h0M269.5 184.3h0M322.6 184.3h0M348.6 184.3h0M374.8 184.3h0M400.6 184.3h0M137.4 209.7h0M165.9 209.7h0M193.7 209.7h0M217.7 209.7h0M265.9 209.7h0M269.5 209.7h0M296.1 209.7h0M348.6 209.7h0M374.8 209.7h0M400.6 209.7h0M137.4 235.7h0M165.9 235.7h0M193.7 235.7h0M217.7 235.7h0M265.9 235.7h0M269.5 235.7h0M296.1 235.7h0M322.6 235.7h0M374.8 235.7h0M400.6 235.7h0M137.4 261.3h0M165.9 261.3h0M193.7 261.3h0M217.7 261.3h0M265.9 261.3h0M269.5 261.3h0M296.1 261.3h0M322.6 261.3h0M348.6 261.3h0M400.6 261.3h0M137.4 287.5h0M165.9 287.5h0M193.7 287.5h0M217.7 287.5h0M265.9 287.5h0M269.5 287.5h0M296.1 287.5h0M322.6 287.5h0M348.6 287.5h0M374.8 287.5h0"/>
<path d="M185.7 8.8h0M205.5 8.8h0M217.6 8.8h0M265.7 8.8h0M282.4 8.8h0M313.4 8.8h0M344.1 8.8h0M369.8 8.8h0M396.1 8.8h0M423.0 8.8h0M160.6 35.5h0M205.5 35.5h0M217.6 35.5h0M265.7 35.5h0M282.4 35.5h0M313.4 35.5h0M344.1 35.5h0M369.8 35.5h0M396.1 35.5h0M423.0 35.5h0M160.6 67.5h0M185.7 67.5h0M217.6 67.5h0M265.7 67.5h0M282.4 67.5h0M313.4 67.5h0M344.1 67.5h0M369.8 67.5h0M396.1 67.5h0M423.0 67.5h0M160.6 107.0h0M185.7 107.0h0M205.5 107.0h0M265.7 107.0h0M282.4 107.0h0M313.4 107.0h0M344.1 107.0h0M369.8 107.0h0M396.1 107.0h0M423.0 107.0h0M160.6 111.3h0M185.7 111.3h0M205.5 111.3h0M217.6 111.3h0M282.4 111.3h0M313.4 111.3h0M344.1 111.3h0M369.8 111.3h0M396.1 111.3h0M423.0 111.3h0M160.6 146.3h0M185.7 146.3h0M205.5 146.3h0M217.6 146.3h0M265.7 146.3h0M313.4 146.3h0M344.1 146.3h0M369.8 146.3h0M396.1 146.3h0M423.0 146.3h0M160.6 167.3h0M185.7 167.3h0M205.5 167.3h0M217.6 167.3h0M265.7 167.3h0M282.4 167.3h0M344.1 167.3h0M369.8 167.3h0M396.1 167.3h0M423.0 167.3h0M160.6 188.8h0M185.7 188.8h0M205.5 188.8h0M217.6 188.8h0M265.7 188.8h0M282.4 188.8h0M313.4 188.8h0M369.8 188.8h0M396.1 188.8h0M423.0 188.8h0M160.6 214.9h0M185.7 214.9h0M205.5 214.9h0M217.6 214.9h0M265.7 214.9h0M282.4 214.9h0M313.4 214.9h0M344.1 214.9h0M396.1 214.9h0M423.0 214.9h0M160.6 240.6h0M185.7 240.6h0M205.5 240.6h0M217.6 240.6h0M265.7 240.6h0M282.4 240.6h0M313.4 240.6h0M344.1 240.6h0M369.8 240.6h0M423.0 240.6h0M160.6 265.6h0M185.7 265.6h0M205.5 265.6h0M217.6 265.6h0M265.7 265.6h0M282.4 265.6h0M313.4 265.6h0M344.1 265.6h0M369.8 265.6h0M396.1 265.6h0"/>
<path d="M167.3 28.3h0M194.6 28.3h0M217.1 28.3h0M247.2 28.3h0M273.1 28.3h0M299.6 28.3h0M323.8 28.3h0M350.7 28.3h0M377.0 28.3h0M402.5 28.3h0M140.5 53.5h0M194.6 53.5h0M217.1 53.5h0M247.2 53.5h0M273.1 53.5h0M299.6 53.5h0M323.8 53.5h0M350.7 53.5h0M377.0 53.5h0M402.5 53.5h0M140.5 78.1h0M167.3 78.1h0M217.1 78.1h0M247.2 78.1h0M273.1 78.1h0M299.6 78.1h0M323.8 78.1h0M350.7 78.1h0M377.0 78.1h0M402.5 78.1h0M140.5 107.4h0M167.3 107.4h0M194.6 107.4h0M247.2 107.4h0M273.1 107.4h0M299.6 107.4h0M323.8 107.4h0M350.7 107.4h0M377.0 107.4h0M402.5 107.4h0M140.5 129.4h0M167.3 129.4h0M194.6 129.4h0M217.1 129.4h0M273.1 129.4h0M299.6 129.4h0M323.8 129.4h0M350.7 129.4h0M377.0 129.4h0M402.5 129.4h0M140.5 155.4h0M167.3 155.4h0M194.6 155.4h0M217.1 155.4h0M247.2 155.4h0M299.6 155.4h0M323.8 155.4h0M350.7 155.4h0M377.0 155.4h0M402.5 155.4h0M140.5 180.8h0M167.3 180.8h0M194.6 180.8h0M217.1 180.8h0M247.2 180.8h0M273.1 180.8h0M323.8 180.8h0M350.7 180.8h0M377.0 180.8h0M402.5 180.8h0M140.5 208.5h0M167.3 208.5h0M194.6 208.5h0M217.1 208.5h0M247.2 208.5h0M273.1 208.5h0M299.6 208.5h0M350.7 208.5h0M377.0 208.5h0M402.5 208.5h0M140.5 233.6h0M167.3 233.6h0M194.6 233.6h0M217.1 233.6h0M247.2 233.6h0M273.1 233.6h0M299.6 233.6h0M323.8 233.6h0M377.0 233.6h0M402.5 233.6h0M140.5 259.2h0M167.3 259.2h0M194.6 259.2h0M217.1 259.2h0M247.2 259.2h0M273.1 259.2h0M299.6 259.2h0M323.8 259.2h0M350.7 259.2h0M402.5 259.2h0M140.5 285.6h0M167.3 285.6h0M194.6 285.6h0M217.1 285.6h0M247.2 285.6h0M273.1 285.6h0M299.6 285.6h0M323.8 285.6h0M350.7 285.6h0M377.0 285.6h0"/>
<path d="M164.7 30.5h0M194.2 30.5h0M226.4 30.5h0M247.6 30.5h0M273.1 30.5h0M297.0 30.5h0M322.7 30.5h0M348.9 30.5h0M375.2 30.5h0M402.3 30.5h0M138.3 56.1h0M194.2 56.1h0M226.4 56.1h0M247.6 56.1h0M273.1 56.1h0M297.0 56.1h0M322.7 56.1h0M348.9 56.1h0M375.2 56.1h0M402.3 56.1h0M138.3 78.5h0M164.7 78.5h0M226.4 78.5h0M247.6 78.5h0M273.1 78.5h0M297.0 78.5h0M322.7 78.5h0M348.9 78.5h0M375.2 78.5h0M402.3 78.5h0M138.3 98.4h0M164.7 98.4h0M194.2 98.4h0M247.6 98.4h0M273.1 98.4h0M297.0 98.4h0M322.7 98.4h0M348.9 98.4h0M375.2 98.4h0M402.3 98.4h0M138.3 129.0h0M164.7 129.0h0M194.2 129.0h0M226.4 129.0h0M273.1 129.0h0M297.0 129.0h0M322.7 129.0h0M348.9 129.0h0M375.2 129.0h0M402.3 129.0h0M138.3 155.4h0M164.7 155.4h0M194.2 155.4h0M226.4 155.4h0M247.6 155.4h0M297.0 155.4h0M322.7 155.4h0M348.9 155.4h0M375.2 155.4h0M402.3 155.4h0M138.3 183.4h0M164.7 183.4h0M194.2 183.4h0M226.4 183.4h0M247.6 183.4h0M273.1 183.4h0M322.7 183.4h0M348.9 183.4h0M375.2 183.4h0M402.3 183.4h0M138.3 209.6h0M164.7 209.6h0M194.2 209.6h0M226.4 209.6h0M247.6 209.6h0M273.1 209.6h0M297.0 209.6h0M348.9 209.6h0M375.2 209.6h0M402.3 209.6h0M138.3 235.3h0M164.7 235.3h0M194.2 235.3h0M226.4 235.3h0M247.6 235.3h0M273.1 235.3h0M297.0 235.3h0M322.7 235.3h0M375.2 235.3h0M402.3 235.3h0M138.3 261.0h0M164.7 261.0h0M194.2 261.0h0M226.4 261.0h0M247.6 261.0h0M273.1 261.0h0M297.0 261.0h0M322.7 261.0h0M348.9 261.0h0M402.3 261.0h0M138.3 285.8h0M164.7 285.8h0M194.2 285.8h0M226.4 285.8h0M247.6 285.8h0M273.1 285.8h0M297.0 285.8h0M322.7 285.8h0M348.9 285.8h0M375.2 285.8h0"/>
<path d="M164.5 30.8h0M189.4 30.8h0M229.6 30.8h0M242.0 30.8h0M268.3 30.8h0M295.0 30.8h0M322.2 30.8h0M348.7 30.8h0M374.9 30.8h0M400.0 30.8h0M138.0 56.2h0M189.4 56.2h0M229.6 56.2h0M242.0 56.2h0M268.3 56.2h0M295.0 56.2h0M322.2 56.2h0M348.7 56.2h0M374.9 56.2h0M400.0 56.2h0M138.0 83.2h0M164.5 83.2h0M229.6 83.2h0M242.0 83.2h0M268.3 83.2h0M295.0 83.2h0M322.2 83.2h0M348.7 83.2h0M374.9 83.2h0M400.0 83.2h0M138.0 95.3h0M164.5 95.3h0M189.4 95.3h0M242.0 95.3h0M268.3 95.3h0M295.0 95.3h0M322.2 95.3h0M348.7 95.3h0M374.9 95.3h0M400.0 95.3h0M138.0 134.4h0M164.5 134.4h0M189.4 134.4h0M229.6 134.4h0M268.3 134.4h0M295.0 134.4h0M322.2 134.4h0M348.7 134.4h0M374.9 134.4h0M400.0 134.4h0M138.0 160.1h0M164.5 160.1h0M189.4 160.1h0M229.6 160.1h0M242.0 160.1h0M295.0 160.1h0M322.2 160.1h0M348.7 160.1h0M374.9 160.1h0M400.0 160.1h0M138.0 185.3h0M164.5 185.3h0M189.4 185.3h0M229.6 185.3h0M242.0 185.3h0M268.3 185.3h0M322.2 185.3h0M348.7 185.3h0M374.9 185.3h0M400.0 185.3h0M138.0 210.1h0M164.5 210.1h0M189.4 210.1h0M229.6 210.1h0M242.0 210.1h0M268.3 210.1h0M295.0 210.1h0M348.7 210.1h0M374.9 210.1h0M400.0 210.1h0M138.0 235.6h0M164.5 235.6h0M189.4 235.6h0M229.6 235.6h0M242.0 235.6h0M268.3 235.6h0M295.0 235.6h0M322.2 235.6h0M374.9 235.6h0M400.0 235.6h0M138.0 261.2h0M164.5 261.2h0M189.4 261.2h0M229.6 261.2h0M242.0 261.2h0M268.3 261.2h0M295.0 261.2h0M322.2 261.2h0M348.7 261.2h0M400.0 261.2h0M138.0 288.1h0M164.5 288.1h0M189.4 288.1h0M229.6 288.1h0M242.0 288.1h0M268.3 288.1h0M295.0 288.1h0M322.2 288.1h0M348.7 288.1h0M374.9 288.1h0"/>
<path d="M167.9 29.8h0M196.8 29.8h0M223.6 29.8h0M248.4 29.8h0M288.9 29.8h0M297.5 29.8h0M323.4 29.8h0M349.3 29.8h0M375.6 29.8h0M404.4 29.8h0M139.0 52.9h0M196.8 52.9h0M223.6 52.9h0M248.4 52.9h0M288.9 52.9h0M297.5 52.9h0M323.4 52.9h0M349.3 52.9h0M375.6 52.9h0M404.4 52.9h0M139.0 76.0h0M167.9 76.0h0M223.6 76.0h0M248.4 76.0h0M288.9 76.0h0M297.5 76.0h0M323.4 76.0h0M349.3 76.0h0M375.6 76.0h0M404.4 76.0h0M139.0 101.2h0M167.9 101.2h0M196.8 101.2h0M248.4 101.2h0M288.9 101.2h0M297.5 101.2h0M323.4 101.2h0M349.3 101.2h0M375.6 101.2h0M404.4 101.2h0M139.0 128.2h0M167.9 128.2h0M196.8 128.2h0M223.6 128.2h0M288.9 128.2h0M297.5 128.2h0M323.4 128.2h0M349.3 128.2h0M375.6 128.2h0M404.4 128.2h0M139.0 140.0h0M167.9 140.0h0M196.8 140.0h0M223.6 140.0h0M248.4 140.0h0M297.5 140.0h0M323.4 140.0h0M349.3 140.0h0M375.6 140.0h0M404.4 140.0h0M139.0 182.9h0M167.9 182.9h0M196.8 182.9h0M223.6 182.9h0M248.4 182.9h0M288.9 182.9h0M323.4 182.9h0M349.3 182.9h0M375.6 182.9h0M404.4 182.9h0M139.0 208.9h0M167.9 208.9h0M196.8 208.9h0M223.6 208.9h0M248.4 208.9h0M288.9 208.9h0M297.5 208.9h0M349.3 208.9h0M375.6 208.9h0M404.4 208.9h0M139.0 234.9h0M167.9 234.9h0M196.8 234.9h0M223.6 234.9h0M248.4 234.9h0M288.9 234.9h0M297.5 234.9h0M323.4 234.9h0M375.6 234.9h0M404.4 234.9h0M139.0 260.6h0M167.9 260.6h0M196.8 260.6h0M223.6 260.6h0M248.4 260.6h0M288.9 260.6h0M297.5 260.6h0M323.4 260.6h0M349.3 260.6h0M404.4 260.6h0M139.0 283.7h0M167.9 283.7h0M196.8 283.7h0M223.6 283.7h0M248.4 283.7h0M288.9 283.7h0M297.5 283.7h0M323.4 283.7h0M349.3 283.7h0M375.6 283.7h0"/>
<path d="M175.1 25.7h0M201.8 25.7h0M226.5 25.7h0M244.2 25.7h0M293.2 25.7h0M299.3 25.7h0M328.2 25.7h0M353.3 25.7h0M379.6 25.7h0M413.9 25.7h0M143.3 45.9h0M201.8 45.9h0M226.5 45.9h0M244.2 45.9h0M293.2 45.9h0M299.3 45.9h0M328.2 45.9h0M353.3 45.9h0M379.6 45.9h0M413.9 45.9h0M143.3 71.2h0M175.1 71.2h0M226.5 71.2h0M244.2 71.2h0M293.2 71.2h0M299.3 71.2h0M328.2 71.2h0M353.3 71.2h0M379.6 71.2h0M413.9 71.2h0M143.3 98.3h0M175.1 98.3h0M201.8 98.3h0M244.2 98.3h0M293.2 98.3h0M299.3 98.3h0M328.2 98.3h0M353.3 98.3h0M379.6 98.3h0M413.9 98.3h0M143.3 132.3h0M175.1 132.3h0M201.8 132.3h0M226.5 132.3h0M293.2 132.3h0M299.3 132.3h0M328.2 132.3h0M353.3 132.3h0M379.6 132.3h0M413.9 132.3h0M143.3 135.8h0M175.1 135.8h0M201.8 135.8h0M226.5 135.8h0M244.2 135.8h0M299.3 135.8h0M328.2 135.8h0M353.3 135.8h0M379.6 135.8h0M413.9 135.8h0M143.3 181.2h0M175.1 181.2h0M201.8 181.2h0M226.5 181.2h0M244.2 181.2h0M293.2 181.2h0M328.2 181.2h0M353.3 181.2h0M379.6 181.2h0M413.9 181.2h0M143.3 204.2h0M175.1 204.2h0M201.8 204.2h0M226.5 204.2h0M244.2 204.2h0M293.2 204.2h0M299.3 204.2h0M353.3 204.2h0M379.6 204.2h0M413.9 204.2h0M143.3 231.0h0M175.1 231.0h0M201.8 231.0h0M226.5 231.0h0M244.2 231.0h0M293.2 231.0h0M299.3 231.0h0M328.2 231.0h0M379.6 231.0h0M413.9 231.0h0M143.3 256.7h0M175.1 256.7h0M201.8 256.7h0M226.5 256.7h0M244.2 256.7h0M293.2 256.7h0M299.3 256.7h0M328.2 256.7h0M353.3 256.7h0M413.9 256.7h0M143.3 274.5h0M175.1 274.5h0M201.8 274.5h0M226.5 274.5h0M244.2 274.5h0M293.2 274.5h0M299.3 274.5h0M328.2 274.5h0M353.3 274.5h0M379.6 274.5h0"/>
<path d="M167.0 29.7h0M199.1 29.7h0M228.3 29.7h0M242.2 29.7h0M288.1 29.7h0M298.0 29.7h0M322.8 29.7h0M349.4 29.7h0M375.7 29.7h0M404.0 29.7h0M139.1 53.8h0M199.1 53.8h0M228.3 53.8h0M242.2 53.8h0M288.1 53.8h0M298.0 53.8h0M322.8 53.8h0M349.4 53.8h0M375.7 53.8h0M404.0 53.8h0M139.1 73.7h0M167.0 73.7h0M228.3 73.7h0M242.2 73.7h0M288.1 73.7h0M298.0 73.7h0M322.8 73.7h0M349.4 73.7h0M375.7 73.7h0M404.0 73.7h0M139.1 96.6h0M167.0 96.6h0M199.1 96.6h0M242.2 96.6h0M288.1 96.6h0M298.0 96.6h0M322.8 96.6h0M349.4 96.6h0M375.7 96.6h0M404.0 96.6h0M139.1 134.3h0M167.0 134.3h0M199.1 134.3h0M228.3 134.3h0M288.1 134.3h0M298.0 134.3h0M322.8 134.3h0M349.4 134.3h0M375.7 134.3h0M404.0 134.3h0M139.1 140.8h0M167.0 140.8h0M199.1 140.8h0M228.3 140.8h0M242.2 140.8h0M298.0 140.8h0M322.8 140.8h0M349.4 140.8h0M375.7 140.8h0M404.0 140.8h0M139.1 182.4h0M167.0 182.4h0M199.1 182.4h0M228.3 182.4h0M242.2 182.4h0M288.1 182.4h0M322.8 182.4h0M349.4 182.4h0M375.7 182.4h0M404.0 182.4h0M139.1 209.5h0M167.0 209.5h0M199.1 209.5h0M228.3 209.5h0M242.2 209.5h0M288.1 209.5h0M298.0 209.5h0M349.4 209.5h0M375.7 209.5h0M404.0 209.5h0M139.1 234.8h0M167.0 234.8h0M199.1 234.8h0M228.3 234.8h0M242.2 234.8h0M288.1 234.8h0M298.0 234.8h0M322.8 234.8h0M375.7 234.8h0M404.0 234.8h0M139.1 260.5h0M167.0 260.5h0M199.1 260.5h0M228.3 260.5h0M242.2 260.5h0M288.1 260.5h0M298.0 260.5h0M322.8 260.5h0M349.4 260.5h0M404.0 260.5h0M139.1 284.1h0M167.0 284.1h0M199.1 284.1h0M228.3 284.1h0M242.2 284.1h0M288.1 284.1h0M298.0 284.1h0M322.8 284.1h0M349.4 284.1h0M375.7 284.1h0"/>
<path d="M167.0 29.5h0M197.6 29.5h0M219.7 29.5h0M264.1 29.5h0M288.4 29.5h0M297.6 29.5h0M323.0 29.5h0M349.3 29.5h0M375.6 29.5h0M403.5 29.5h0M139.4 53.8h0M197.6 53.8h0M219.7 53.8h0M264.1 53.8h0M288.4 53.8h0M297.6 53.8h0M323.0 53.8h0M349.3 53.8h0M375.6 53.8h0M403.5 53.8h0M139.4 75.2h0M167.0 75.2h0M219.7 75.2h0M264.1 75.2h0M288.4 75.2h0M297.6 75.2h0M323.0 75.2h0M349.3 75.2h0M375.6 75.2h0M403.5 75.2h0M139.4 104.9h0M167.0 104.9h0M197.6 104.9h0M264.1 104.9h0M288.4 104.9h0M297.6 104.9h0M323.0 104.9h0M349.3 104.9h0M375.6 104.9h0M403.5 104.9h0M139.4 112.9h0M167.0 112.9h0M197.6 112.9h0M219.7 112.9h0M288.4 112.9h0M297.6 112.9h0M323.0 112.9h0M349.3 112.9h0M375.6 112.9h0M403.5 112.9h0M139.4 140.5h0M167.0 140.5h0M197.6 140.5h0M219.7 140.5h0M264.1 140.5h0M297.6 140.5h0M323.0 140.5h0M349.3 140.5h0M375.6 140.5h0M403.5 140.5h0M139.4 182.8h0M167.0 182.8h0M197.6 182.8h0M219.7 182.8h0M264.1 182.8h0M288.4 182.8h0M323.0 182.8h0M349.3 182.8h0M375.6 182.8h0M403.5 182.8h0M139.4 209.3h0M167.0 209.3h0M197.6 209.3h0M219.7 209.3h0M264.1 209.3h0M288.4 209.3h0M297.6 209.3h0M349.3 209.3h0M375.6 209.3h0M403.5 209.3h0M139.4 235.0h0M167.0 235.0h0M197.6 235.0h0M219.7 235.0h0M264.1 235.0h0M288.4 235.0h0M297.6 235.0h0M323.0 235.0h0M375.6 235.0h0M403.5 235.0h0M139.4 260.6h0M167.0 260.6h0M197.6 260.6h0M219.7 260.6h0M264.1 260.6h0M288.4 260.6h0M297.6 260.6h0M323.0 260.6h0M349.3 260.6h0M403.5 260.6h0M139.4 284.6h0M167.0 284.6h0M197.6 284.6h0M219.7 284.6h0M264.1 284.6h0M288.4 284.6h0M297.6 284.6h0M323.0 284.6h0M349.3 284.6h0M375.6 284.6h0"/>
<path d="M170.0 29.3h0M196.2 29.3h0M216.7 29.3h0M247.0 29.3h0M290.7 29.3h0M297.8 29.3h0M325.1 29.3h0M349.6 29.3h0M375.8 29.3h0M406.5 29.3h0M139.5 50.9h0M196.2 50.9h0M216.7 50.9h0M247.0 50.9h0M290.7 50.9h0M297.8 50.9h0M325.1 50.9h0M349.6 50.9h0M375.8 50.9h0M406.5 50.9h0M139.5 76.5h0M170.0 76.5h0M216.7 76.5h0M247.0 76.5h0M290.7 76.5h0M297.8 76.5h0M325.1 76.5h0M349.6 76.5h0M375.8 76.5h0M406.5 76.5h0M139.5 107.9h0M170.0 107.9h0M196.2 107.9h0M247.0 107.9h0M290.7 107.9h0M297.8 107.9h0M325.1 107.9h0M349.6 107.9h0M375.8 107.9h0M406.5 107.9h0M139.5 129.6h0M170.0 129.6h0M196.2 129.6h0M216.7 129.6h0M290.7 129.6h0M297.8 129.6h0M325.1 129.6h0M349.6 129.6h0M375.8 129.6h0M406.5 129.6h0M139.5 138.3h0M170.0 138.3h0M196.2 138.3h0M216.7 138.3h0M247.0 138.3h0M297.8 138.3h0M325.1 138.3h0M349.6 138.3h0M375.8 138.3h0M406.5 138.3h0M139.5 182.6h0M170.0 182.6h0M196.2 182.6h0M216.7 182.6h0M247.0 182.6h0M290.7 182.6h0M325.1 182.6h0M349.6 182.6h0M375.8 182.6h0M406.5 182.6h0M139.5 207.3h0M170.0 207.3h0M196.2 207.3h0M216.7 207.3h0M247.0 207.3h0M290.7 207.3h0M297.8 207.3h0M349.6 207.3h0M375.8 207.3h0M406.5 207.3h0M139.5 234.7h0M170.0 234.7h0M196.2 234.7h0M216.7 234.7h0M247.0 234.7h0M290.7 234.7h0M297.8 234.7h0M325.1 234.7h0M375.8 234.7h0M406.5 234.7h0M139.5 260.3h0M170.0 260.3h0M196.2 260.3h0M216.7 260.3h0M247.0 260.3h0M290.7 260.3h0M297.8 260.3h0M325.1 260.3h0M349.6 260.3h0M406.5 260.3h0M139.5 281.7h0M170.0 281.7h0M196.2 281.7h0M216.7 281.7h0M247.0 281.7h0M290.7 281.7h0M297.8 281.7h0M325.1 281.7h0M349.6 281.7h0M375.8 281.7h0"/>
<path d="M178.3 24.7h0M205.3 24.7h0M228.7 24.7h0M258.1 24.7h0M275.8 24.7h0M309.1 24.7h0M338.1 24.7h0M362.8 24.7h0M389.1 24.7h0M414.6 24.7h0M144.2 42.8h0M205.3 42.8h0M228.7 42.8h0M258.1 42.8h0M275.8 42.8h0M309.1 42.8h0M338.1 42.8h0M362.8 42.8h0M389.1 42.8h0M414.6 42.8h0M144.2 67.7h0M178.3 67.7h0M228.7 67.7h0M258.1 67.7h0M275.8 67.7h0M309.1 67.7h0M338.1 67.7h0M362.8 67.7h0M389.1 67.7h0M414.6 67.7h0M144.2 96.2h0M178.3 96.2h0M205.3 96.2h0M258.1 96.2h0M275.8 96.2h0M309.1 96.2h0M338.1 96.2h0M362.8 96.2h0M389.1 96.2h0M414.6 96.2h0M144.2 118.8h0M178.3 118.8h0M205.3 118.8h0M228.7 118.8h0M275.8 118.8h0M309.1 118.8h0M338.1 118.8h0M362.8 118.8h0M389.1 118.8h0M414.6 118.8h0M144.2 152.8h0M178.3 152.8h0M205.3 152.8h0M228.7 152.8h0M258.1 152.8h0M309.1 152.8h0M338.1 152.8h0M362.8 152.8h0M389.1 152.8h0M414.6 152.8h0M144.2 171.6h0M178.3 171.6h0M205.3 171.6h0M228.7 171.6h0M258.1 171.6h0M275.8 171.6h0M338.1 171.6h0M362.8 171.6h0M389.1 171.6h0M414.6 171.6h0M144.2 194.6h0M178.3 194.6h0M205.3 194.6h0M228.7 194.6h0M258.1 194.6h0M275.8 194.6h0M309.1 194.6h0M362.8 194.6h0M389.1 194.6h0M414.6 194.6h0M144.2 221.8h0M178.3 221.8h0M205.3 221.8h0M228.7 221.8h0M258.1 221.8h0M275.8 221.8h0M309.1 221.8h0M338.1 221.8h0M389.1 221.8h0M414.6 221.8h0M144.2 247.4h0M178.3 247.4h0M205.3 247.4h0M228.7 247.4h0M258.1 247.4h0M275.8 247.4h0M309.1 247.4h0M338.1 247.4h0M362.8 247.4h0M414.6 247.4h0M144.2 273.8h0M178.3 273.8h0M205.3 273.8h0M228.7 273.8h0M258.1 273.8h0M275.8 273.8h0M309.1 273.8h0M338.1 273.8h0M362.8 273.8h0M389.1 273.8h0"/>
<path d="M163.1 31.9h0M192.3 31.9h0M228.2 31.9h0M242.2 31.9h0M280.9 31.9h0M294.8 31.9h0M321.3 31.9h0M347.1 31.9h0M373.4 31.9h0M399.7 31.9h0M136.8 57.6h0M192.3 57.6h0M228.2 57.6h0M242.2 57.6h0M280.9 57.6h0M294.8 57.6h0M321.3 57.6h0M347.1 57.6h0M373.4 57.6h0M399.7 57.6h0M136.8 80.4h0M163.1 80.4h0M228.2 80.4h0M242.2 80.4h0M280.9 80.4h0M294.8 80.4h0M321.3 80.4h0M347.1 80.4h0M373.4 80.4h0M399.7 80.4h0M136.8 96.7h0M163.1 96.7h0M192.3 96.7h0M242.2 96.7h0M280.9 96.7h0M294.8 96.7h0M321.3 96.7h0M347.1 96.7h0M373.4 96.7h0M399.7 96.7h0M136.8 134.3h0M163.1 134.3h0M192.3 134.3h0M228.2 134.3h0M280.9 134.3h0M294.8 134.3h0M321.3 134.3h0M347.1 134.3h0M373.4 134.3h0M399.7 134.3h0M136.8 147.8h0M163.1 147.8h0M192.3 147.8h0M228.2 147.8h0M242.2 147.8h0M294.8 147.8h0M321.3 147.8h0M347.1 147.8h0M373.4 147.8h0M399.7 147.8h0M136.8 185.5h0M163.1 185.5h0M192.3 185.5h0M228.2 185.5h0M242.2 185.5h0M280.9 185.5h0M321.3 185.5h0M347.1 185.5h0M373.4 185.5h0M399.7 185.5h0M136.8 211.0h0M163.1 211.0h0M192.3 211.0h0M228.2 211.0h0M242.2 211.0h0M280.9 211.0h0M294.8 211.0h0M347.1 211.0h0M373.4 211.0h0M399.7 211.0h0M136.8 237.1h0M163.1 237.1h0M192.3 237.1h0M228.2 237.1h0M242.2 237.1h0M280.9 237.1h0M294.8 237.1h0M321.3 237.1h0M373.4 237.1h0M399.7 237.1h0M136.8 262.7h0M163.1 262.7h0M192.3 262.7h0M228.2 262.7h0M242.2 262.7h0M280.9 262.7h0M294.8 262.7h0M321.3 262.7h0M347.1 262.7h0M399.7 262.7h0M136.8 288.4h0M163.1 288.4h0M192.3 288.4h0M228.2 288.4h0M242.2 288.4h0M280.9 288.4h0M294.8 288.4h0M321.3 288.4h0M347.1 288.4h0M373.4 288.4h0"/>
<path d="M167.9 29.4h0M195.2 29.4h0M229.0 29.4h0M244.0 29.4h0M293.0 29.4h0M295.6 29.4h0M325.7 29.4h0M349.3 29.4h0M375.6 29.4h0M406.4 29.4h0M139.4 52.9h0M195.2 52.9h0M229.0 52.9h0M244.0 52.9h0M293.0 52.9h0M295.6 52.9h0M325.7 52.9h0M349.3 52.9h0M375.6 52.9h0M406.4 52.9h0M139.4 77.5h0M167.9 77.5h0M229.0 77.5h0M244.0 77.5h0M293.0 77.5h0M295.6 77.5h0M325.7 77.5h0M349.3 77.5h0M375.6 77.5h0M406.4 77.5h0M139.4 95.8h0M167.9 95.8h0M195.2 95.8h0M244.0 95.8h0M293.0 95.8h0M295.6 95.8h0M325.7 95.8h0M349.3 95.8h0M375.6 95.8h0M406.4 95.8h0M139.4 132.6h0M167.9 132.6h0M195.2 132.6h0M229.0 132.6h0M293.0 132.6h0M295.6 132.6h0M325.7 132.6h0M349.3 132.6h0M375.6 132.6h0M406.4 132.6h0M139.4 136.0h0M167.9 136.0h0M195.2 136.0h0M229.0 136.0h0M244.0 136.0h0M295.6 136.0h0M325.7 136.0h0M349.3 136.0h0M375.6 136.0h0M406.4 136.0h0M139.4 184.8h0M167.9 184.8h0M195.2 184.8h0M229.0 184.8h0M244.0 184.8h0M293.0 184.8h0M325.7 184.8h0M349.3 184.8h0M375.6 184.8h0M406.4 184.8h0M139.4 206.7h0M167.9 206.7h0M195.2 206.7h0M229.0 206.7h0M244.0 206.7h0M293.0 206.7h0M295.6 206.7h0M349.3 206.7h0M375.6 206.7h0M406.4 206.7h0M139.4 235.0h0M167.9 235.0h0M195.2 235.0h0M229.0 235.0h0M244.0 235.0h0M293.0 235.0h0M295.6 235.0h0M325.7 235.0h0M375.6 235.0h0M406.4 235.0h0M139.4 260.6h0M167.9 260.6h0M195.2 260.6h0M229.0 260.6h0M244.0 260.6h0M293.0 260.6h0M295.6 260.6h0M325.7 260.6h0M349.3 260.6h0M406.4 260.6h0M139.4 281.8h0M167.9 281.8h0M195.2 281.8h0M229.0 281.8h0M244.0 281.8h0M293.0 281.8h0M295.6 281.8h0M325.7 281.8h0M349.3 281.8h0M375.6 281.8h0"/>
<path d="M176.0 27.4h0M196.2 27.4h0M228.1 27.4h0M266.8 27.4h0M277.2 27.4h0M300.3 27.4h0M327.4 27.4h0M353.6 27.4h0M379.8 27.4h0M413.1 27.4h0M141.5 45.0h0M196.2 45.0h0M228.1 45.0h0M266.8 45.0h0M277.2 45.0h0M300.3 45.0h0M327.4 45.0h0M353.6 45.0h0M379.8 45.0h0M413.1 45.0h0M141.5 76.6h0M176.0 76.6h0M228.1 76.6h0M266.8 76.6h0M277.2 76.6h0M300.3 76.6h0M327.4 76.6h0M353.6 76.6h0M379.8 76.6h0M413.1 76.6h0M141.5 96.8h0M176.0 96.8h0M196.2 96.8h0M266.8 96.8h0M277.2 96.8h0M300.3 96.8h0M327.4 96.8h0M353.6 96.8h0M379.8 96.8h0M413.1 96.8h0M141.5 110.3h0M176.0 110.3h0M196.2 110.3h0M228.1 110.3h0M277.2 110.3h0M300.3 110.3h0M327.4 110.3h0M353.6 110.3h0M379.8 110.3h0M413.1 110.3h0M141.5 151.4h0M176.0 151.4h0M196.2 151.4h0M228.1 151.4h0M266.8 151.4h0M300.3 151.4h0M327.4 151.4h0M353.6 151.4h0M379.8 151.4h0M413.1 151.4h0M141.5 180.2h0M176.0 180.2h0M196.2 180.2h0M228.1 180.2h0M266.8 180.2h0M277.2 180.2h0M327.4 180.2h0M353.6 180.2h0M379.8 180.2h0M413.1 180.2h0M141.5 205.0h0M176.0 205.0h0M196.2 205.0h0M228.1 205.0h0M266.8 205.0h0M277.2 205.0h0M300.3 205.0h0M353.6 205.0h0M379.8 205.0h0M413.1 205.0h0M141.5 230.8h0M176.0 230.8h0M196.2 230.8h0M228.1 230.8h0M266.8 230.8h0M277.2 230.8h0M300.3 230.8h0M327.4 230.8h0M379.8 230.8h0M413.1 230.8h0M141.5 256.4h0M176.0 256.4h0M196.2 256.4h0M228.1 256.4h0M266.8 256.4h0M277.2 256.4h0M300.3 256.4h0M327.4 256.4h0M353.6 256.4h0M413.1 256.4h0M141.5 275.2h0M176.0 275.2h0M196.2 275.2h0M228.1 275.2h0M266.8 275.2h0M277.2 275.2h0M300.3 275.2h0M327.4 275.2h0M353.6 275.2h0M379.8 275.2h0"/>
<path d="M166.6 31.2h0M197.3 31.2h0M230.7 31.2h0M242.4 31.2h0M292.8 31.2h0M296.0 31.2h0M322.6 31.2h0M348.6 31.2h0M374.9 31.2h0M403.4 31.2h0M137.6 54.2h0M197.3 54.2h0M230.7 54.2h0M242.4 54.2h0M292.8 54.2h0M296.0 54.2h0M322.6 54.2h0M348.6 54.2h0M374.9 54.2h0M403.4 54.2h0M137.6 75.5h0M166.6 75.5h0M230.7 75.5h0M242.4 75.5h0M292.8 75.5h0M296.0 75.5h0M322.6 75.5h0M348.6 75.5h0M374.9 75.5h0M403.4 75.5h0M137.6 94.2h0M166.6 94.2h0M197.3 94.2h0M242.4 94.2h0M292.8 94.2h0M296.0 94.2h0M322.6 94.2h0M348.6 94.2h0M374.9 94.2h0M403.4 94.2h0M137.6 134.1h0M166.6 134.1h0M197.3 134.1h0M230.7 134.1h0M292.8 134.1h0M296.0 134.1h0M322.6 134.1h0M348.6 134.1h0M374.9 134.1h0M403.4 134.1h0M137.6 136.2h0M166.6 136.2h0M197.3 136.2h0M230.7 136.2h0M242.4 136.2h0M296.0 136.2h0M322.6 136.2h0M348.6 136.2h0M374.9 136.2h0M403.4 136.2h0M137.6 184.4h0M166.6 184.4h0M197.3 184.4h0M230.7 184.4h0M242.4 184.4h0M292.8 184.4h0M322.6 184.4h0M348.6 184.4h0M374.9 184.4h0M403.4 184.4h0M137.6 209.7h0M166.6 209.7h0M197.3 209.7h0M230.7 209.7h0M242.4 209.7h0M292.8 209.7h0M296.0 209.7h0M348.6 209.7h0M374.9 209.7h0M403.4 209.7h0M137.6 235.6h0M166.6 235.6h0M197.3 235.6h0M230.7 235.6h0M242.4 235.6h0M292.8 235.6h0M296.0 235.6h0M322.6 235.6h0M374.9 235.6h0M403.4 235.6h0M137.6 261.3h0M166.6 261.3h0M197.3 261.3h0M230.7 261.3h0M242.4 261.3h0M292.8 261.3h0M296.0 261.3h0M322.6 261.3h0M348.6 261.3h0M403.4 261.3h0M137.6 284.7h0M166.6 284.7h0M197.3 284.7h0M230.7 284.7h0M242.4 284.7h0M292.8 284.7h0M296.0 284.7h0M322.6 284.7h0M348.6 284.7h0M374.9 284.7h0"/>
<path d="M168.6 23.8h0M197.9 23.8h0M229.3 23.8h0M263.2 23.8h0M276.3 23.8h0M305.3 23.8h0M328.2 23.8h0M362.0 23.8h0M388.3 23.8h0M411.2 23.8h0M145.2 52.3h0M197.9 52.3h0M229.3 52.3h0M263.2 52.3h0M276.3 52.3h0M305.3 52.3h0M328.2 52.3h0M362.0 52.3h0M388.3 52.3h0M411.2 52.3h0M145.2 74.9h0M168.6 74.9h0M229.3 74.9h0M263.2 74.9h0M276.3 74.9h0M305.3 74.9h0M328.2 74.9h0M362.0 74.9h0M388.3 74.9h0M411.2 74.9h0M145.2 95.6h0M168.6 95.6h0M197.9 95.6h0M263.2 95.6h0M276.3 95.6h0M305.3 95.6h0M328.2 95.6h0M362.0 95.6h0M388.3 95.6h0M411.2 95.6h0M145.2 113.8h0M168.6 113.8h0M197.9 113.8h0M229.3 113.8h0M276.3 113.8h0M305.3 113.8h0M328.2 113.8h0M362.0 113.8h0M388.3 113.8h0M411.2 113.8h0M145.2 152.3h0M168.6 152.3h0M197.9 152.3h0M229.3 152.3h0M263.2 152.3h0M305.3 152.3h0M328.2 152.3h0M362.0 152.3h0M388.3 152.3h0M411.2 152.3h0M145.2 175.3h0M168.6 175.3h0M197.9 175.3h0M229.3 175.3h0M263.2 175.3h0M276.3 175.3h0M328.2 175.3h0M362.0 175.3h0M388.3 175.3h0M411.2 175.3h0M145.2 204.3h0M168.6 204.3h0M197.9 204.3h0M229.3 204.3h0M263.2 204.3h0M276.3 204.3h0M305.3 204.3h0M362.0 204.3h0M388.3 204.3h0M411.2 204.3h0M145.2 222.5h0M168.6 222.5h0M197.9 222.5h0M229.3 222.5h0M263.2 222.5h0M276.3 222.5h0M305.3 222.5h0M328.2 222.5h0M388.3 222.5h0M411.2 222.5h0M145.2 248.2h0M168.6 248.2h0M197.9 248.2h0M229.3 248.2h0M263.2 248.2h0M276.3 248.2h0M305.3 248.2h0M328.2 248.2h0M362.0 248.2h0M411.2 248.2h0M145.2 277.1h0M168.6 277.1h0M197.9 277.1h0M229.3 277.1h0M263.2 277.1h0M276.3 277.1h0M305.3 277.1h0M328.2 277.1h0M362.0 277.1h0M388.3 277.1h0"/>
<path d="M165.2 30.2h0M191.3 30.2h0M216.2 30.2h0M243.6 30.2h0M279.6 30.2h0M295.0 30.2h0M322.6 30.2h0M347.9 30.2h0M374.2 30.2h0M400.1 30.2h0M138.6 55.6h0M191.3 55.6h0M216.2 55.6h0M243.6 55.6h0M279.6 55.6h0M295.0 55.6h0M322.6 55.6h0M347.9 55.6h0M374.2 55.6h0M400.1 55.6h0M138.6 81.4h0M165.2 81.4h0M216.2 81.4h0M243.6 81.4h0M279.6 81.4h0M295.0 81.4h0M322.6 81.4h0M347.9 81.4h0M374.2 81.4h0M400.1 81.4h0M138.6 108.4h0M165.2 108.4h0M191.3 108.4h0M243.6 108.4h0M279.6 108.4h0M295.0 108.4h0M322.6 108.4h0M347.9 108.4h0M374.2 108.4h0M400.1 108.4h0M138.6 133.0h0M165.2 133.0h0M191.3 133.0h0M216.2 133.0h0M279.6 133.0h0M295.0 133.0h0M322.6 133.0h0M347.9 133.0h0M374.2 133.0h0M400.1 133.0h0M138.6 149.1h0M165.2 149.1h0M191.3 149.1h0M216.2 149.1h0M243.6 149.1h0M295.0 149.1h0M322.6 149.1h0M347.9 149.1h0M374.2 149.1h0M400.1 149.1h0M138.6 185.3h0M165.2 185.3h0M191.3 185.3h0M216.2 185.3h0M243.6 185.3h0M279.6 185.3h0M322.6 185.3h0M347.9 185.3h0M374.2 185.3h0M400.1 185.3h0M138.6 209.7h0M165.2 209.7h0M191.3 209.7h0M216.2 209.7h0M243.6 209.7h0M279.6 209.7h0M295.0 209.7h0M347.9 209.7h0M374.2 209.7h0M400.1 209.7h0M138.6 236.3h0M165.2 236.3h0M191.3 236.3h0M216.2 236.3h0M243.6 236.3h0M279.6 236.3h0M295.0 236.3h0M322.6 236.3h0M374.2 236.3h0M400.1 236.3h0M138.6 261.9h0M165.2 261.9h0M191.3 261.9h0M216.2 261.9h0M243.6 261.9h0M279.6 261.9h0M295.0 261.9h0M322.6 261.9h0M347.9 261.9h0M400.1 261.9h0M138.6 287.9h0M165.2 287.9h0M191.3 287.9h0M216.2 287.9h0M243.6 287.9h0M279.6 287.9h0M295.0 287.9h0M322.6 287.9h0M347.9 287.9h0M374.2 287.9h0"/>
<path d="M167.9 27.1h0M195.9 27.1h0M239.8 27.1h0M242.5 27.1h0M283.7 27.1h0M299.9 27.1h0M326.7 27.1h0M353.6 27.1h0M379.9 27.1h0M405.5 27.1h0M141.8 52.9h0M195.9 52.9h0M239.8 52.9h0M242.5 52.9h0M283.7 52.9h0M299.9 52.9h0M326.7 52.9h0M353.6 52.9h0M379.9 52.9h0M405.5 52.9h0M141.8 76.8h0M167.9 76.8h0M239.8 76.8h0M242.5 76.8h0M283.7 76.8h0M299.9 76.8h0M326.7 76.8h0M353.6 76.8h0M379.9 76.8h0M405.5 76.8h0M141.8 85.4h0M167.9 85.4h0M195.9 85.4h0M242.5 85.4h0M283.7 85.4h0M299.9 85.4h0M326.7 85.4h0M353.6 85.4h0M379.9 85.4h0M405.5 85.4h0M141.8 134.0h0M167.9 134.0h0M195.9 134.0h0M239.8 134.0h0M283.7 134.0h0M299.9 134.0h0M326.7 134.0h0M353.6 134.0h0M379.9 134.0h0M405.5 134.0h0M141.8 145.1h0M167.9 145.1h0M195.9 145.1h0M239.8 145.1h0M242.5 145.1h0M299.9 145.1h0M326.7 145.1h0M353.6 145.1h0M379.9 145.1h0M405.5 145.1h0M141.8 180.5h0M167.9 180.5h0M195.9 180.5h0M239.8 180.5h0M242.5 180.5h0M283.7 180.5h0M326.7 180.5h0M353.6 180.5h0M379.9 180.5h0M405.5 180.5h0M141.8 205.7h0M167.9 205.7h0M195.9 205.7h0M239.8 205.7h0M242.5 205.7h0M283.7 205.7h0M299.9 205.7h0M353.6 205.7h0M379.9 205.7h0M405.5 205.7h0M141.8 230.7h0M167.9 230.7h0M195.9 230.7h0M239.8 230.7h0M242.5 230.7h0M283.7 230.7h0M299.9 230.7h0M326.7 230.7h0M379.9 230.7h0M405.5 230.7h0M141.8 256.4h0M167.9 256.4h0M195.9 256.4h0M239.8 256.4h0M242.5 256.4h0M283.7 256.4h0M299.9 256.4h0M326.7 256.4h0M353.6 256.4h0M405.5 256.4h0M141.8 282.6h0M167.9 282.6h0M195.9 282.6h0M239.8 282.6h0M242.5 282.6h0M283.7 282.6h0M299.9 282.6h0M326.7 282.6h0M353.6 282.6h0M379.9 282.6h0"/>
<path d="M179.4 25.6h0M205.6 25.6h0M216.5 25.6h0M265.7 25.6h0M280.7 25.6h0M312.4 25.6h0M328.0 25.6h0M354.5 25.6h0M380.8 25.6h0M415.3 25.6h0M143.3 41.7h0M205.6 41.7h0M216.5 41.7h0M265.7 41.7h0M280.7 41.7h0M312.4 41.7h0M328.0 41.7h0M354.5 41.7h0M380.8 41.7h0M415.3 41.7h0M143.3 67.4h0M179.4 67.4h0M216.5 67.4h0M265.7 67.4h0M280.7 67.4h0M312.4 67.4h0M328.0 67.4h0M354.5 67.4h0M380.8 67.4h0M415.3 67.4h0M143.3 108.1h0M179.4 108.1h0M205.6 108.1h0M265.7 108.1h0M280.7 108.1h0M312.4 108.1h0M328.0 108.1h0M354.5 108.1h0M380.8 108.1h0M415.3 108.1h0M143.3 111.3h0M179.4 111.3h0M205.6 111.3h0M216.5 111.3h0M280.7 111.3h0M312.4 111.3h0M328.0 111.3h0M354.5 111.3h0M380.8 111.3h0M415.3 111.3h0M143.3 148.0h0M179.4 148.0h0M205.6 148.0h0M216.5 148.0h0M265.7 148.0h0M312.4 148.0h0M328.0 148.0h0M354.5 148.0h0M380.8 148.0h0M415.3 148.0h0M143.3 168.4h0M179.4 168.4h0M205.6 168.4h0M216.5 168.4h0M265.7 168.4h0M280.7 168.4h0M328.0 168.4h0M354.5 168.4h0M380.8 168.4h0M415.3 168.4h0M143.3 204.4h0M179.4 204.4h0M205.6 204.4h0M216.5 204.4h0M265.7 204.4h0M280.7 204.4h0M312.4 204.4h0M354.5 204.4h0M380.8 204.4h0M415.3 204.4h0M143.3 229.9h0M179.4 229.9h0M205.6 229.9h0M216.5 229.9h0M265.7 229.9h0M280.7 229.9h0M312.4 229.9h0M328.0 229.9h0M380.8 229.9h0M415.3 229.9h0M143.3 255.5h0M179.4 255.5h0M205.6 255.5h0M216.5 255.5h0M265.7 255.5h0M280.7 255.5h0M312.4 255.5h0M328.0 255.5h0M354.5 255.5h0M415.3 255.5h0M143.3 273.1h0M179.4 273.1h0M205.6 273.1h0M216.5 273.1h0M265.7 273.1h0M280.7 273.1h0M312.4 273.1h0M328.0 273.1h0M354.5 273.1h0M380.8 273.1h0"/>
<path d="M165.9 28.7h0M207.9 28.7h0M240.7 28.7h0M242.3 28.7h0M289.6 28.7h0M302.0 28.7h0M324.2 28.7h0M351.8 28.7h0M378.1 28.7h0M407.2 28.7h0M140.1 54.9h0M207.9 54.9h0M240.7 54.9h0M242.3 54.9h0M289.6 54.9h0M302.0 54.9h0M324.2 54.9h0M351.8 54.9h0M378.1 54.9h0M407.2 54.9h0M140.1 65.2h0M165.9 65.2h0M240.7 65.2h0M242.3 65.2h0M289.6 65.2h0M302.0 65.2h0M324.2 65.2h0M351.8 65.2h0M378.1 65.2h0M407.2 65.2h0M140.1 84.5h0M165.9 84.5h0M207.9 84.5h0M242.3 84.5h0M289.6 84.5h0M302.0 84.5h0M324.2 84.5h0M351.8 84.5h0M378.1 84.5h0M407.2 84.5h0M140.1 134.2h0M165.9 134.2h0M207.9 134.2h0M240.7 134.2h0M289.6 134.2h0M302.0 134.2h0M324.2 134.2h0M351.8 134.2h0M378.1 134.2h0M407.2 134.2h0M140.1 139.3h0M165.9 139.3h0M207.9 139.3h0M240.7 139.3h0M242.3 139.3h0M302.0 139.3h0M324.2 139.3h0M351.8 139.3h0M378.1 139.3h0M407.2 139.3h0M140.1 178.5h0M165.9 178.5h0M207.9 178.5h0M240.7 178.5h0M242.3 178.5h0M289.6 178.5h0M324.2 178.5h0M351.8 178.5h0M378.1 178.5h0M407.2 178.5h0M140.1 208.1h0M165.9 208.1h0M207.9 208.1h0M240.7 208.1h0M242.3 208.1h0M289.6 208.1h0M302.0 208.1h0M351.8 208.1h0M378.1 208.1h0M407.2 208.1h0M140.1 232.5h0M165.9 232.5h0M207.9 232.5h0M240.7 232.5h0M242.3 232.5h0M289.6 232.5h0M302.0 232.5h0M324.2 232.5h0M378.1 232.5h0M407.2 232.5h0M140.1 258.1h0M165.9 258.1h0M207.9 258.1h0M240.7 258.1h0M242.3 258.1h0M289.6 258.1h0M302.0 258.1h0M324.2 258.1h0M351.8 258.1h0M407.2 258.1h0M140.1 281.0h0M165.9 281.0h0M207.9 281.0h0M240.7 281.0h0M242.3 281.0h0M289.6 281.0h0M302.0 281.0h0M324.2 281.0h0M351.8 281.0h0M378.1 281.0h0"/>
<path d="M177.8 27.3h0M206.3 27.3h0M216.3 27.3h0M264.2 27.3h0M280.9 27.3h0M306.0 27.3h0M324.1 27.3h0M353.3 27.3h0M379.6 27.3h0M413.3 27.3h0M141.6 43.2h0M206.3 43.2h0M216.3 43.2h0M264.2 43.2h0M280.9 43.2h0M306.0 43.2h0M324.1 43.2h0M353.3 43.2h0M379.6 43.2h0M413.3 43.2h0M141.6 66.7h0M177.8 66.7h0M216.3 66.7h0M264.2 66.7h0M280.9 66.7h0M306.0 66.7h0M324.1 66.7h0M353.3 66.7h0M379.6 66.7h0M413.3 66.7h0M141.6 108.3h0M177.8 108.3h0M206.3 108.3h0M264.2 108.3h0M280.9 108.3h0M306.0 108.3h0M324.1 108.3h0M353.3 108.3h0M379.6 108.3h0M413.3 108.3h0M141.6 112.8h0M177.8 112.8h0M206.3 112.8h0M216.3 112.8h0M280.9 112.8h0M306.0 112.8h0M324.1 112.8h0M353.3 112.8h0M379.6 112.8h0M413.3 112.8h0M141.6 147.8h0M177.8 147.8h0M206.3 147.8h0M216.3 147.8h0M264.2 147.8h0M306.0 147.8h0M324.1 147.8h0M353.3 147.8h0M379.6 147.8h0M413.3 147.8h0M141.6 174.6h0M177.8 174.6h0M206.3 174.6h0M216.3 174.6h0M264.2 174.6h0M280.9 174.6h0M324.1 174.6h0M353.3 174.6h0M379.6 174.6h0M413.3 174.6h0M141.6 208.2h0M177.8 208.2h0M206.3 208.2h0M216.3 208.2h0M264.2 208.2h0M280.9 208.2h0M306.0 208.2h0M353.3 208.2h0M379.6 208.2h0M413.3 208.2h0M141.6 231.1h0M177.8 231.1h0M206.3 231.1h0M216.3 231.1h0M264.2 231.1h0M280.9 231.1h0M306.0 231.1h0M324.1 231.1h0M379.6 231.1h0M413.3 231.1h0M141.6 256.7h0M177.8 256.7h0M206.3 256.7h0M216.3 256.7h0M264.2 256.7h0M280.9 256.7h0M306.0 256.7h0M324.1 256.7h0M353.3 256.7h0M413.3 256.7h0M141.6 275.0h0M177.8 275.0h0M206.3 275.0h0M216.3 275.0h0M264.2 275.0h0M280.9 275.0h0M306.0 275.0h0M324.1 275.0h0M353.3 275.0h0M379.6 275.0h0"/>
<path d="M178.5 28.2h0M194.7 28.2h0M216.0 28.2h0M255.5 28.2h0M280.8 28.2h0M298.2 28.2h0M323.5 28.2h0M350.3 28.2h0M376.6 28.2h0M407.1 28.2h0M140.6 42.6h0M194.7 42.6h0M216.0 42.6h0M255.5 42.6h0M280.8 42.6h0M298.2 42.6h0M323.5 42.6h0M350.3 42.6h0M376.6 42.6h0M407.1 42.6h0M140.6 78.0h0M178.5 78.0h0M216.0 78.0h0M255.5 78.0h0M280.8 78.0h0M298.2 78.0h0M323.5 78.0h0M350.3 78.0h0M376.6 78.0h0M407.1 78.0h0M140.6 108.6h0M178.5 108.6h0M194.7 108.6h0M255.5 108.6h0M280.8 108.6h0M298.2 108.6h0M323.5 108.6h0M350.3 108.6h0M376.6 108.6h0M407.1 108.6h0M140.6 121.3h0M178.5 121.3h0M194.7 121.3h0M216.0 121.3h0M280.8 121.3h0M298.2 121.3h0M323.5 121.3h0M350.3 121.3h0M376.6 121.3h0M407.1 121.3h0M140.6 147.9h0M178.5 147.9h0M194.7 147.9h0M216.0 147.9h0M255.5 147.9h0M298.2 147.9h0M323.5 147.9h0M350.3 147.9h0M376.6 147.9h0M407.1 147.9h0M140.6 182.2h0M178.5 182.2h0M194.7 182.2h0M216.0 182.2h0M255.5 182.2h0M280.8 182.2h0M323.5 182.2h0M350.3 182.2h0M376.6 182.2h0M407.1 182.2h0M140.6 208.8h0M178.5 208.8h0M194.7 208.8h0M216.0 208.8h0M255.5 208.8h0M280.8 208.8h0M298.2 208.8h0M350.3 208.8h0M376.6 208.8h0M407.1 208.8h0M140.6 233.9h0M178.5 233.9h0M194.7 233.9h0M216.0 233.9h0M255.5 233.9h0M280.8 233.9h0M298.2 233.9h0M323.5 233.9h0M376.6 233.9h0M407.1 233.9h0M140.6 259.6h0M178.5 259.6h0M194.7 259.6h0M216.0 259.6h0M255.5 259.6h0M280.8 259.6h0M298.2 259.6h0M323.5 259.6h0M350.3 259.6h0M407.1 259.6h0M140.6 281.1h0M178.5 281.1h0M194.7 281.1h0M216.0 281.1h0M255.5 281.1h0M280.8 281.1h0M298.2 281.1h0M323.5 281.1h0M350.3 281.1h0M376.6 281.1h0"/>
<path d="M171.4 28.8h0M196.7 28.8h0M230.5 28.8h0M248.5 28.8h0M285.0 28.8h0M298.7 28.8h0M325.8 28.8h0M353.1 28.8h0M379.3 28.8h0M406.5 28.8h0M140.0 49.5h0M196.7 49.5h0M230.5 49.5h0M248.5 49.5h0M285.0 49.5h0M298.7 49.5h0M325.8 49.5h0M353.1 49.5h0M379.3 49.5h0M406.5 49.5h0M140.0 76.1h0M171.4 76.1h0M230.5 76.1h0M248.5 76.1h0M285.0 76.1h0M298.7 76.1h0M325.8 76.1h0M353.1 76.1h0M379.3 76.1h0M406.5 76.1h0M140.0 94.4h0M171.4 94.4h0M196.7 94.4h0M248.5 94.4h0M285.0 94.4h0M298.7 94.4h0M325.8 94.4h0M353.1 94.4h0M379.3 94.4h0M406.5 94.4h0M140.0 128.1h0M171.4 128.1h0M196.7 128.1h0M230.5 128.1h0M285.0 128.1h0M298.7 128.1h0M325.8 128.1h0M353.1 128.1h0M379.3 128.1h0M406.5 128.1h0M140.0 143.8h0M171.4 143.8h0M196.7 143.8h0M230.5 143.8h0M248.5 143.8h0M298.7 143.8h0M325.8 143.8h0M353.1 143.8h0M379.3 143.8h0M406.5 143.8h0M140.0 181.7h0M171.4 181.7h0M196.7 181.7h0M230.5 181.7h0M248.5 181.7h0M285.0 181.7h0M325.8 181.7h0M353.1 181.7h0M379.3 181.7h0M406.5 181.7h0M140.0 206.6h0M171.4 206.6h0M196.7 206.6h0M230.5 206.6h0M248.5 206.6h0M285.0 206.6h0M298.7 206.6h0M353.1 206.6h0M379.3 206.6h0M406.5 206.6h0M140.0 231.3h0M171.4 231.3h0M196.7 231.3h0M230.5 231.3h0M248.5 231.3h0M285.0 231.3h0M298.7 231.3h0M325.8 231.3h0M379.3 231.3h0M406.5 231.3h0M140.0 256.9h0M171.4 256.9h0M196.7 256.9h0M230.5 256.9h0M248.5 256.9h0M285.0 256.9h0M298.7 256.9h0M325.8 256.9h0M353.1 256.9h0M406.5 256.9h0M140.0 281.7h0M171.4 281.7h0M196.7 281.7h0M230.5 281.7h0M248.5 281.7h0M285.0 281.7h0M298.7 281.7h0M325.8 281.7h0M353.1 281.7h0M379.3 281.7h0"/>
<path d="M172.6 18.3h0M208.0 18.3h0M240.4 18.3h0M249.9 18.3h0M281.8 18.3h0M313.6 18.3h0M336.5 18.3h0M365.3 18.3h0M391.6 18.3h0M415.4 18.3h0M150.8 48.3h0M208.0 48.3h0M240.4 48.3h0M249.9 48.3h0M281.8 48.3h0M313.6 48.3h0M336.5 48.3h0M365.3 48.3h0M391.6 48.3h0M415.4 48.3h0M150.8 65.1h0M172.6 65.1h0M240.4 65.1h0M249.9 65.1h0M281.8 65.1h0M313.6 65.1h0M336.5 65.1h0M365.3 65.1h0M391.6 65.1h0M415.4 65.1h0M150.8 84.7h0M172.6 84.7h0M208.0 84.7h0M249.9 84.7h0M281.8 84.7h0M313.6 84.7h0M336.5 84.7h0M365.3 84.7h0M391.6 84.7h0M415.4 84.7h0M150.8 126.8h0M172.6 126.8h0M208.0 126.8h0M240.4 126.8h0M281.8 126.8h0M313.6 126.8h0M336.5 126.8h0M365.3 126.8h0M391.6 126.8h0M415.4 126.8h0M150.8 146.9h0M172.6 146.9h0M208.0 146.9h0M240.4 146.9h0M249.9 146.9h0M313.6 146.9h0M336.5 146.9h0M365.3 146.9h0M391.6 146.9h0M415.4 146.9h0M150.8 167.2h0M172.6 167.2h0M208.0 167.2h0M240.4 167.2h0M249.9 167.2h0M281.8 167.2h0M336.5 167.2h0M365.3 167.2h0M391.6 167.2h0M415.4 167.2h0M150.8 196.1h0M172.6 196.1h0M208.0 196.1h0M240.4 196.1h0M249.9 196.1h0M281.8 196.1h0M313.6 196.1h0M365.3 196.1h0M391.6 196.1h0M415.4 196.1h0M150.8 219.3h0M172.6 219.3h0M208.0 219.3h0M240.4 219.3h0M249.9 219.3h0M281.8 219.3h0M313.6 219.3h0M336.5 219.3h0M391.6 219.3h0M415.4 219.3h0M150.8 244.9h0M172.6 244.9h0M208.0 244.9h0M240.4 244.9h0M249.9 244.9h0M281.8 244.9h0M313.6 244.9h0M336.5 244.9h0M365.3 244.9h0M415.4 244.9h0M150.8 273.1h0M172.6 273.1h0M208.0 273.1h0M240.4 273.1h0M249.9 273.1h0M281.8 273.1h0M313.6 273.1h0M336.5 273.1h0M365.3 273.1h0M391.6 273.1h0"/>
<path d="M167.7 30.1h0M194.7 30.1h0M217.4 30.1h0M247.1 30.1h0M271.8 30.1h0M296.8 30.1h0M322.1 30.1h0M349.1 30.1h0M375.3 30.1h0M402.6 30.1h0M138.7 53.1h0M194.7 53.1h0M217.4 53.1h0M247.1 53.1h0M271.8 53.1h0M296.8 53.1h0M322.1 53.1h0M349.1 53.1h0M375.3 53.1h0M402.6 53.1h0M138.7 78.1h0M167.7 78.1h0M217.4 78.1h0M247.1 78.1h0M271.8 78.1h0M296.8 78.1h0M322.1 78.1h0M349.1 78.1h0M375.3 78.1h0M402.6 78.1h0M138.7 107.2h0M167.7 107.2h0M194.7 107.2h0M247.1 107.2h0M271.8 107.2h0M296.8 107.2h0M322.1 107.2h0M349.1 107.2h0M375.3 107.2h0M402.6 107.2h0M138.7 129.5h0M167.7 129.5h0M194.7 129.5h0M217.4 129.5h0M271.8 129.5h0M296.8 129.5h0M322.1 129.5h0M349.1 129.5h0M375.3 129.5h0M402.6 129.5h0M138.7 156.7h0M167.7 156.7h0M194.7 156.7h0M217.4 156.7h0M247.1 156.7h0M296.8 156.7h0M322.1 156.7h0M349.1 156.7h0M375.3 156.7h0M402.6 156.7h0M138.7 183.5h0M167.7 183.5h0M194.7 183.5h0M217.4 183.5h0M247.1 183.5h0M271.8 183.5h0M322.1 183.5h0M349.1 183.5h0M375.3 183.5h0M402.6 183.5h0M138.7 210.2h0M167.7 210.2h0M194.7 210.2h0M217.4 210.2h0M247.1 210.2h0M271.8 210.2h0M296.8 210.2h0M349.1 210.2h0M375.3 210.2h0M402.6 210.2h0M138.7 235.2h0M167.7 235.2h0M194.7 235.2h0M217.4 235.2h0M247.1 235.2h0M271.8 235.2h0M296.8 235.2h0M322.1 235.2h0M375.3 235.2h0M402.6 235.2h0M138.7 260.8h0M167.7 260.8h0M194.7 260.8h0M217.4 260.8h0M247.1 260.8h0M271.8 260.8h0M296.8 260.8h0M322.1 260.8h0M349.1 260.8h0M402.6 260.8h0M138.7 285.5h0M167.7 285.5h0M194.7 285.5h0M217.4 285.5h0M247.1 285.5h0M271.8 285.5h0M296.8 285.5h0M322.1 285.5h0M349.1 285.5h0M375.3 285.5h0"/>
<path d="M166.8 28.2h0M199.4 28.2h0M224.7 28.2h0M255.2 28.2h0M285.7 28.2h0M300.1 28.2h0M323.1 28.2h0M349.7 28.2h0M376.0 28.2h0M403.8 28.2h0M140.6 54.0h0M199.4 54.0h0M224.7 54.0h0M255.2 54.0h0M285.7 54.0h0M300.1 54.0h0M323.1 54.0h0M349.7 54.0h0M376.0 54.0h0M403.8 54.0h0M140.6 73.5h0M166.8 73.5h0M224.7 73.5h0M255.2 73.5h0M285.7 73.5h0M300.1 73.5h0M323.1 73.5h0M349.7 73.5h0M376.0 73.5h0M403.8 73.5h0M140.6 100.1h0M166.8 100.1h0M199.4 100.1h0M255.2 100.1h0M285.7 100.1h0M300.1 100.1h0M323.1 100.1h0M349.7 100.1h0M376.0 100.1h0M403.8 100.1h0M140.6 121.5h0M166.8 121.5h0M199.4 121.5h0M224.7 121.5h0M285.7 121.5h0M300.1 121.5h0M323.1 121.5h0M349.7 121.5h0M376.0 121.5h0M403.8 121.5h0M140.6 143.2h0M166.8 143.2h0M199.4 143.2h0M224.7 143.2h0M255.2 143.2h0M300.1 143.2h0M323.1 143.2h0M349.7 143.2h0M376.0 143.2h0M403.8 143.2h0M140.6 180.4h0M166.8 180.4h0M199.4 180.4h0M224.7 180.4h0M255.2 180.4h0M285.7 180.4h0M323.1 180.4h0M349.7 180.4h0M376.0 180.4h0M403.8 180.4h0M140.6 209.2h0M166.8 209.2h0M199.4 209.2h0M224.7 209.2h0M255.2 209.2h0M285.7 209.2h0M300.1 209.2h0M349.7 209.2h0M376.0 209.2h0M403.8 209.2h0M140.6 234.5h0M166.8 234.5h0M199.4 234.5h0M224.7 234.5h0M255.2 234.5h0M285.7 234.5h0M300.1 234.5h0M323.1 234.5h0M376.0 234.5h0M403.8 234.5h0M140.6 260.2h0M166.8 260.2h0M199.4 260.2h0M224.7 260.2h0M255.2 260.2h0M285.7 260.2h0M300.1 260.2h0M323.1 260.2h0M349.7 260.2h0M403.8 260.2h0M140.6 284.3h0M166.8 284.3h0M199.4 284.3h0M224.7 284.3h0M255.2 284.3h0M285.7 284.3h0M300.1 284.3h0M323.1 284.3h0M349.7 284.3h0M376.0 284.3h0"/>
<path d="M163.5 31.2h0M192.3 31.2h0M227.2 31.2h0M242.8 31.2h0M277.8 31.2h0M295.0 31.2h0M321.9 31.2h0M347.6 31.2h0M373.9 31.2h0M399.8 31.2h0M137.6 57.2h0M192.3 57.2h0M227.2 57.2h0M242.8 57.2h0M277.8 57.2h0M295.0 57.2h0M321.9 57.2h0M347.6 57.2h0M373.9 57.2h0M399.8 57.2h0M137.6 80.4h0M163.5 80.4h0M227.2 80.4h0M242.8 80.4h0M277.8 80.4h0M295.0 80.4h0M321.9 80.4h0M347.6 80.4h0M373.9 80.4h0M399.8 80.4h0M137.6 97.6h0M163.5 97.6h0M192.3 97.6h0M242.8 97.6h0M277.8 97.6h0M295.0 97.6h0M321.9 97.6h0M347.6 97.6h0M373.9 97.6h0M399.8 97.6h0M137.6 133.7h0M163.5 133.7h0M192.3 133.7h0M227.2 133.7h0M277.8 133.7h0M295.0 133.7h0M321.9 133.7h0M347.6 133.7h0M373.9 133.7h0M399.8 133.7h0M137.6 150.8h0M163.5 150.8h0M192.3 150.8h0M227.2 150.8h0M242.8 150.8h0M295.0 150.8h0M321.9 150.8h0M347.6 150.8h0M373.9 150.8h0M399.8 150.8h0M137.6 185.3h0M163.5 185.3h0M192.3 185.3h0M227.2 185.3h0M242.8 185.3h0M277.8 185.3h0M321.9 185.3h0M347.6 185.3h0M373.9 185.3h0M399.8 185.3h0M137.6 210.4h0M163.5 210.4h0M192.3 210.4h0M227.2 210.4h0M242.8 210.4h0M277.8 210.4h0M295.0 210.4h0M347.6 210.4h0M373.9 210.4h0M399.8 210.4h0M137.6 236.6h0M163.5 236.6h0M192.3 236.6h0M227.2 236.6h0M242.8 236.6h0M277.8 236.6h0M295.0 236.6h0M321.9 236.6h0M373.9 236.6h0M399.8 236.6h0M137.6 262.2h0M163.5 262.2h0M192.3 262.2h0M227.2 262.2h0M242.8 262.2h0M277.8 262.2h0M295.0 262.2h0M321.9 262.2h0M347.6 262.2h0M399.8 262.2h0M137.6 288.3h0M163.5 288.3h0M192.3 288.3h0M227.2 288.3h0M242.8 288.3h0M277.8 288.3h0M295.0 288.3h0M321.9 288.3h0M347.6 288.3h0M373.9 288.3h0"/>
<path d="M177.3 26.1h0M204.3 26.1h0M217.3 26.1h0M242.8 26.1h0M291.2 26.1h0M301.7 26.1h0M326.6 26.1h0M352.9 26.1h0M379.2 26.1h0M413.9 26.1h0M142.8 43.8h0M204.3 43.8h0M217.3 43.8h0M242.8 43.8h0M291.2 43.8h0M301.7 43.8h0M326.6 43.8h0M352.9 43.8h0M379.2 43.8h0M413.9 43.8h0M142.8 68.7h0M177.3 68.7h0M217.3 68.7h0M242.8 68.7h0M291.2 68.7h0M301.7 68.7h0M326.6 68.7h0M352.9 68.7h0M379.2 68.7h0M413.9 68.7h0M142.8 107.3h0M177.3 107.3h0M204.3 107.3h0M242.8 107.3h0M291.2 107.3h0M301.7 107.3h0M326.6 107.3h0M352.9 107.3h0M379.2 107.3h0M413.9 107.3h0M142.8 133.7h0M177.3 133.7h0M204.3 133.7h0M217.3 133.7h0M291.2 133.7h0M301.7 133.7h0M326.6 133.7h0M352.9 133.7h0M379.2 133.7h0M413.9 133.7h0M142.8 137.8h0M177.3 137.8h0M204.3 137.8h0M217.3 137.8h0M242.8 137.8h0M301.7 137.8h0M326.6 137.8h0M352.9 137.8h0M379.2 137.8h0M413.9 137.8h0M142.8 178.8h0M177.3 178.8h0M204.3 178.8h0M217.3 178.8h0M242.8 178.8h0M291.2 178.8h0M326.6 178.8h0M352.9 178.8h0M379.2 178.8h0M413.9 178.8h0M142.8 205.8h0M177.3 205.8h0M204.3 205.8h0M217.3 205.8h0M242.8 205.8h0M291.2 205.8h0M301.7 205.8h0M352.9 205.8h0M379.2 205.8h0M413.9 205.8h0M142.8 231.4h0M177.3 231.4h0M204.3 231.4h0M217.3 231.4h0M242.8 231.4h0M291.2 231.4h0M301.7 231.4h0M326.6 231.4h0M379.2 231.4h0M413.9 231.4h0M142.8 257.0h0M177.3 257.0h0M204.3 257.0h0M217.3 257.0h0M242.8 257.0h0M291.2 257.0h0M301.7 257.0h0M326.6 257.0h0M352.9 257.0h0M413.9 257.0h0M142.8 274.4h0M177.3 274.4h0M204.3 274.4h0M217.3 274.4h0M242.8 274.4h0M291.2 274.4h0M301.7 274.4h0M326.6 274.4h0M352.9 274.4h0M379.2 274.4h0"/>
<path d="M163.8 31.7h0M194.1 31.7h0M227.2 31.7h0M242.0 31.7h0M285.9 31.7h0M294.9 31.7h0M320.8 31.7h0M347.2 31.7h0M373.5 31.7h0M399.9 31.7h0M137.0 56.9h0M194.1 56.9h0M227.2 56.9h0M242.0 56.9h0M285.9 56.9h0M294.9 56.9h0M320.8 56.9h0M347.2 56.9h0M373.5 56.9h0M399.9 56.9h0M137.0 78.6h0M163.8 78.6h0M227.2 78.6h0M242.0 78.6h0M285.9 78.6h0M294.9 78.6h0M320.8 78.6h0M347.2 78.6h0M373.5 78.6h0M399.9 78.6h0M137.0 97.6h0M163.8 97.6h0M194.1 97.6h0M242.0 97.6h0M285.9 97.6h0M294.9 97.6h0M320.8 97.6h0M347.2 97.6h0M373.5 97.6h0M399.9 97.6h0M137.0 134.5h0M163.8 134.5h0M194.1 134.5h0M227.2 134.5h0M285.9 134.5h0M294.9 134.5h0M320.8 134.5h0M347.2 134.5h0M373.5 134.5h0M399.9 134.5h0M137.0 142.9h0M163.8 142.9h0M194.1 142.9h0M227.2 142.9h0M242.0 142.9h0M294.9 142.9h0M320.8 142.9h0M347.2 142.9h0M373.5 142.9h0M399.9 142.9h0M137.0 185.5h0M163.8 185.5h0M194.1 185.5h0M227.2 185.5h0M242.0 185.5h0M285.9 185.5h0M320.8 185.5h0M347.2 185.5h0M373.5 185.5h0M399.9 185.5h0M137.0 211.4h0M163.8 211.4h0M194.1 211.4h0M227.2 211.4h0M242.0 211.4h0M285.9 211.4h0M294.9 211.4h0M347.2 211.4h0M373.5 211.4h0M399.9 211.4h0M137.0 236.9h0M163.8 236.9h0M194.1 236.9h0M227.2 236.9h0M242.0 236.9h0M285.9 236.9h0M294.9 236.9h0M320.8 236.9h0M373.5 236.9h0M399.9 236.9h0M137.0 262.6h0M163.8 262.6h0M194.1 262.6h0M227.2 262.6h0M242.0 262.6h0M285.9 262.6h0M294.9 262.6h0M320.8 262.6h0M347.2 262.6h0M399.9 262.6h0M137.0 288.2h0M163.8 288.2h0M194.1 288.2h0M227.2 288.2h0M242.0 288.2h0M285.9 288.2h0M294.9 288.2h0M320.8 288.2h0M347.2 288.2h0M373.5 288.2h0"/>
<path d="M171.5 28.3h0M205.4 28.3h0M225.8 28.3h0M249.0 28.3h0M284.4 28.3h0M300.8 28.3h0M323.3 28.3h0M350.9 28.3h0M377.2 28.3h0M413.2 28.3h0M140.5 49.4h0M205.4 49.4h0M225.8 49.4h0M249.0 49.4h0M284.4 49.4h0M300.8 49.4h0M323.3 49.4h0M350.9 49.4h0M377.2 49.4h0M413.2 49.4h0M140.5 67.6h0M171.5 67.6h0M225.8 67.6h0M249.0 67.6h0M284.4 67.6h0M300.8 67.6h0M323.3 67.6h0M350.9 67.6h0M377.2 67.6h0M413.2 67.6h0M140.5 99.0h0M171.5 99.0h0M205.4 99.0h0M249.0 99.0h0M284.4 99.0h0M300.8 99.0h0M323.3 99.0h0M350.9 99.0h0M377.2 99.0h0M413.2 99.0h0M140.5 127.6h0M171.5 127.6h0M205.4 127.6h0M225.8 127.6h0M284.4 127.6h0M300.8 127.6h0M323.3 127.6h0M350.9 127.6h0M377.2 127.6h0M413.2 127.6h0M140.5 144.4h0M171.5 144.4h0M205.4 144.4h0M225.8 144.4h0M249.0 144.4h0M300.8 144.4h0M323.3 144.4h0M350.9 144.4h0M377.2 144.4h0M413.2 144.4h0M140.5 179.7h0M171.5 179.7h0M205.4 179.7h0M225.8 179.7h0M249.0 179.7h0M284.4 179.7h0M323.3 179.7h0M350.9 179.7h0M377.2 179.7h0M413.2 179.7h0M140.5 209.0h0M171.5 209.0h0M205.4 209.0h0M225.8 209.0h0M249.0 209.0h0M284.4 209.0h0M300.8 209.0h0M350.9 209.0h0M377.2 209.0h0M413.2 209.0h0M140.5 233.4h0M171.5 233.4h0M205.4 233.4h0M225.8 233.4h0M249.0 233.4h0M284.4 233.4h0M300.8 233.4h0M323.3 233.4h0M377.2 233.4h0M413.2 233.4h0M140.5 259.0h0M171.5 259.0h0M205.4 259.0h0M225.8 259.0h0M249.0 259.0h0M284.4 259.0h0M300.8 259.0h0M323.3 259.0h0M350.9 259.0h0M413.2 259.0h0M140.5 275.2h0M171.5 275.2h0M205.4 275.2h0M225.8 275.2h0M249.0 275.2h0M284.4 275.2h0M300.8 275.2h0M323.3 275.2h0M350.9 275.2h0M377.2 275.2h0"/>
<path d="M170.9 27.4h0M198.9 27.4h0M225.7 27.4h0M248.9 27.4h0M271.1 27.4h0M303.2 27.4h0M324.3 27.4h0M353.6 27.4h0M379.8 27.4h0M407.6 27.4h0M141.5 50.0h0M198.9 50.0h0M225.7 50.0h0M248.9 50.0h0M271.1 50.0h0M303.2 50.0h0M324.3 50.0h0M353.6 50.0h0M379.8 50.0h0M407.6 50.0h0M141.5 74.0h0M170.9 74.0h0M225.7 74.0h0M248.9 74.0h0M271.1 74.0h0M303.2 74.0h0M324.3 74.0h0M353.6 74.0h0M379.8 74.0h0M407.6 74.0h0M141.5 99.1h0M170.9 99.1h0M198.9 99.1h0M248.9 99.1h0M271.1 99.1h0M303.2 99.1h0M324.3 99.1h0M353.6 99.1h0M379.8 99.1h0M407.6 99.1h0M141.5 127.7h0M170.9 127.7h0M198.9 127.7h0M225.7 127.7h0M271.1 127.7h0M303.2 127.7h0M324.3 127.7h0M353.6 127.7h0M379.8 127.7h0M407.6 127.7h0M141.5 157.3h0M170.9 157.3h0M198.9 157.3h0M225.7 157.3h0M248.9 157.3h0M303.2 157.3h0M324.3 157.3h0M353.6 157.3h0M379.8 157.3h0M407.6 157.3h0M141.5 177.3h0M170.9 177.3h0M198.9 177.3h0M225.7 177.3h0M248.9 177.3h0M271.1 177.3h0M324.3 177.3h0M353.6 177.3h0M379.8 177.3h0M407.6 177.3h0M141.5 208.0h0M170.9 208.0h0M198.9 208.0h0M225.7 208.0h0M248.9 208.0h0M271.1 208.0h0M303.2 208.0h0M353.6 208.0h0M379.8 208.0h0M407.6 208.0h0M141.5 230.8h0M170.9 230.8h0M198.9 230.8h0M225.7 230.8h0M248.9 230.8h0M271.1 230.8h0M303.2 230.8h0M324.3 230.8h0M379.8 230.8h0M407.6 230.8h0M141.5 256.4h0M170.9 256.4h0M198.9 256.4h0M225.7 256.4h0M248.9 256.4h0M271.1 256.4h0M303.2 256.4h0M324.3 256.4h0M353.6 256.4h0M407.6 256.4h0M141.5 280.6h0M170.9 280.6h0M198.9 280.6h0M225.7 280.6h0M248.9 280.6h0M271.1 280.6h0M303.2 280.6h0M324.3 280.6h0M353.6 280.6h0M379.8 280.6h0"/>
<path d="M179.3 13.5h0M207.3 13.5h0M227.4 13.5h0M255.7 13.5h0M284.0 13.5h0M313.4 13.5h0M341.9 13.5h0M366.7 13.5h0M393.0 13.5h0M417.9 13.5h0M155.7 41.8h0M207.3 41.8h0M227.4 41.8h0M255.7 41.8h0M284.0 41.8h0M313.4 41.8h0M341.9 41.8h0M366.7 41.8h0M393.0 41.8h0M417.9 41.8h0M155.7 65.8h0M179.3 65.8h0M227.4 65.8h0M255.7 65.8h0M284.0 65.8h0M313.4 65.8h0M341.9 65.8h0M366.7 65.8h0M393.0 65.8h0M417.9 65.8h0M155.7 97.4h0M179.3 97.4h0M207.3 97.4h0M255.7 97.4h0M284.0 97.4h0M313.4 97.4h0M341.9 97.4h0M366.7 97.4h0M393.0 97.4h0M417.9 97.4h0M155.7 121.1h0M179.3 121.1h0M207.3 121.1h0M227.4 121.1h0M284.0 121.1h0M313.4 121.1h0M341.9 121.1h0M366.7 121.1h0M393.0 121.1h0M417.9 121.1h0M155.7 144.8h0M179.3 144.8h0M207.3 144.8h0M227.4 144.8h0M255.7 144.8h0M313.4 144.8h0M341.9 144.8h0M366.7 144.8h0M393.0 144.8h0M417.9 144.8h0M155.7 167.4h0M179.3 167.4h0M207.3 167.4h0M227.4 167.4h0M255.7 167.4h0M284.0 167.4h0M341.9 167.4h0M366.7 167.4h0M393.0 167.4h0M417.9 167.4h0M155.7 190.8h0M179.3 190.8h0M207.3 190.8h0M227.4 190.8h0M255.7 190.8h0M284.0 190.8h0M313.4 190.8h0M366.7 190.8h0M393.0 190.8h0M417.9 190.8h0M155.7 218.0h0M179.3 218.0h0M207.3 218.0h0M227.4 218.0h0M255.7 218.0h0M284.0 218.0h0M313.4 218.0h0M341.9 218.0h0M393.0 218.0h0M417.9 218.0h0M155.7 243.6h0M179.3 243.6h0M207.3 243.6h0M227.4 243.6h0M255.7 243.6h0M284.0 243.6h0M313.4 243.6h0M341.9 243.6h0M366.7 243.6h0M417.9 243.6h0M155.7 270.6h0M179.3 270.6h0M207.3 270.6h0M227.4 270.6h0M255.7 270.6h0M284.0 270.6h0M313.4 270.6h0M341.9 270.6h0M366.7 270.6h0M393.0 270.6h0"/>
<path d="M182.1 27.5h0M201.8 27.5h0M228.2 27.5h0M257.0 27.5h0M287.3 27.5h0M299.3 27.5h0M327.8 27.5h0M354.1 27.5h0M380.4 27.5h0M415.6 27.5h0M141.4 39.1h0M201.8 39.1h0M228.2 39.1h0M257.0 39.1h0M287.3 39.1h0M299.3 39.1h0M327.8 39.1h0M354.1 39.1h0M380.4 39.1h0M415.6 39.1h0M141.4 71.1h0M182.1 71.1h0M228.2 71.1h0M257.0 71.1h0M287.3 71.1h0M299.3 71.1h0M327.8 71.1h0M354.1 71.1h0M380.4 71.1h0M415.6 71.1h0M141.4 96.7h0M182.1 96.7h0M201.8 96.7h0M257.0 96.7h0M287.3 96.7h0M299.3 96.7h0M327.8 96.7h0M354.1 96.7h0M380.4 96.7h0M415.6 96.7h0M141.4 119.8h0M182.1 119.8h0M201.8 119.8h0M228.2 119.8h0M287.3 119.8h0M299.3 119.8h0M327.8 119.8h0M354.1 119.8h0M380.4 119.8h0M415.6 119.8h0M141.4 141.6h0M182.1 141.6h0M201.8 141.6h0M228.2 141.6h0M257.0 141.6h0M299.3 141.6h0M327.8 141.6h0M354.1 141.6h0M380.4 141.6h0M415.6 141.6h0M141.4 181.1h0M182.1 181.1h0M201.8 181.1h0M228.2 181.1h0M257.0 181.1h0M287.3 181.1h0M327.8 181.1h0M354.1 181.1h0M380.4 181.1h0M415.6 181.1h0M141.4 204.7h0M182.1 204.7h0M201.8 204.7h0M228.2 204.7h0M257.0 204.7h0M287.3 204.7h0M299.3 204.7h0M354.1 204.7h0M380.4 204.7h0M415.6 204.7h0M141.4 230.2h0M182.1 230.2h0M201.8 230.2h0M228.2 230.2h0M257.0 230.2h0M287.3 230.2h0M299.3 230.2h0M327.8 230.2h0M380.4 230.2h0M415.6 230.2h0M141.4 255.9h0M182.1 255.9h0M201.8 255.9h0M228.2 255.9h0M257.0 255.9h0M287.3 255.9h0M299.3 255.9h0M327.8 255.9h0M354.1 255.9h0M415.6 255.9h0M141.4 272.8h0M182.1 272.8h0M201.8 272.8h0M228.2 272.8h0M257.0 272.8h0M287.3 272.8h0M299.3 272.8h0M327.8 272.8h0M354.1 272.8h0M380.4 272.8h0"/>
<path d="M166.2 31.3h0M193.0 31.3h0M216.3 31.3h0M264.6 31.3h0M278.7 31.3h0M295.2 31.3h0M322.4 31.3h0M347.3 31.3h0M373.6 31.3h0M401.5 31.3h0M137.5 54.5h0M193.0 54.5h0M216.3 54.5h0M264.6 54.5h0M278.7 54.5h0M295.2 54.5h0M322.4 54.5h0M347.3 54.5h0M373.6 54.5h0M401.5 54.5h0M137.5 79.7h0M166.2 79.7h0M216.3 79.7h0M264.6 79.7h0M278.7 79.7h0M295.2 79.7h0M322.4 79.7h0M347.3 79.7h0M373.6 79.7h0M401.5 79.7h0M137.5 108.3h0M166.2 108.3h0M193.0 108.3h0M264.6 108.3h0M278.7 108.3h0M295.2 108.3h0M322.4 108.3h0M347.3 108.3h0M373.6 108.3h0M401.5 108.3h0M137.5 112.4h0M166.2 112.4h0M193.0 112.4h0M216.3 112.4h0M278.7 112.4h0M295.2 112.4h0M322.4 112.4h0M347.3 112.4h0M373.6 112.4h0M401.5 112.4h0M137.5 149.9h0M166.2 149.9h0M193.0 149.9h0M216.3 149.9h0M264.6 149.9h0M295.2 149.9h0M322.4 149.9h0M347.3 149.9h0M373.6 149.9h0M401.5 149.9h0M137.5 185.1h0M166.2 185.1h0M193.0 185.1h0M216.3 185.1h0M264.6 185.1h0M278.7 185.1h0M322.4 185.1h0M347.3 185.1h0M373.6 185.1h0M401.5 185.1h0M137.5 209.9h0M166.2 209.9h0M193.0 209.9h0M216.3 209.9h0M264.6 209.9h0M278.7 209.9h0M295.2 209.9h0M347.3 209.9h0M373.6 209.9h0M401.5 209.9h0M137.5 236.8h0M166.2 236.8h0M193.0 236.8h0M216.3 236.8h0M264.6 236.8h0M278.7 236.8h0M295.2 236.8h0M322.4 236.8h0M373.6 236.8h0M401.5 236.8h0M137.5 262.5h0M166.2 262.5h0M193.0 262.5h0M216.3 262.5h0M264.6 262.5h0M278.7 262.5h0M295.2 262.5h0M322.4 262.5h0M347.3 262.5h0M401.5 262.5h0M137.5 286.6h0M166.2 286.6h0M193.0 286.6h0M216.3 286.6h0M264.6 286.6h0M278.7 286.6h0M295.2 286.6h0M322.4 286.6h0M347.3 286.6h0M373.6 286.6h0"/>
<path d="M164.1 31.5h0M193.4 31.5h0M232.5 31.5h0M242.2 31.5h0M290.3 31.5h0M294.5 31.5h0M321.5 31.5h0M347.2 31.5h0M373.5 31.5h0M400.5 31.5h0M137.3 56.6h0M193.4 56.6h0M232.5 56.6h0M242.2 56.6h0M290.3 56.6h0M294.5 56.6h0M321.5 56.6h0M347.2 56.6h0M373.5 56.6h0M400.5 56.6h0M137.3 79.3h0M164.1 79.3h0M232.5 79.3h0M242.2 79.3h0M290.3 79.3h0M294.5 79.3h0M321.5 79.3h0M347.2 79.3h0M373.5 79.3h0M400.5 79.3h0M137.3 92.5h0M164.1 92.5h0M193.4 92.5h0M242.2 92.5h0M290.3 92.5h0M294.5 92.5h0M321.5 92.5h0M347.2 92.5h0M373.5 92.5h0M400.5 92.5h0M137.3 134.3h0M164.1 134.3h0M193.4 134.3h0M232.5 134.3h0M290.3 134.3h0M294.5 134.3h0M321.5 134.3h0M347.2 134.3h0M373.5 134.3h0M400.5 134.3h0M137.3 138.7h0M164.1 138.7h0M193.4 138.7h0M232.5 138.7h0M242.2 138.7h0M294.5 138.7h0M321.5 138.7h0M347.2 138.7h0M373.5 138.7h0M400.5 138.7h0M137.3 185.8h0M164.1 185.8h0M193.4 185.8h0M232.5 185.8h0M242.2 185.8h0M290.3 185.8h0M321.5 185.8h0M347.2 185.8h0M373.5 185.8h0M400.5 185.8h0M137.3 210.8h0M164.1 210.8h0M193.4 210.8h0M232.5 210.8h0M242.2 210.8h0M290.3 210.8h0M294.5 210.8h0M347.2 210.8h0M373.5 210.8h0M400.5 210.8h0M137.3 236.9h0M164.1 236.9h0M193.4 236.9h0M232.5 236.9h0M242.2 236.9h0M290.3 236.9h0M294.5 236.9h0M321.5 236.9h0M373.5 236.9h0M400.5 236.9h0M137.3 262.6h0M164.1 262.6h0M193.4 262.6h0M232.5 262.6h0M242.2 262.6h0M290.3 262.6h0M294.5 262.6h0M321.5 262.6h0M347.2 262.6h0M400.5 262.6h0M137.3 287.6h0M164.1 287.6h0M193.4 287.6h0M232.5 287.6h0M242.2 287.6h0M290.3 287.6h0M294.5 287.6h0M321.5 287.6h0M347.2 287.6h0M373.5 287.6h0"/>
<path d="M166.1 31.2h0M195.8 31.2h0M227.0 31.2h0M249.2 31.2h0M280.0 31.2h0M296.7 31.2h0M321.9 31.2h0M348.6 31.2h0M374.9 31.2h0M402.3 31.2h0M137.5 54.7h0M195.8 54.7h0M227.0 54.7h0M249.2 54.7h0M280.0 54.7h0M296.7 54.7h0M321.9 54.7h0M348.6 54.7h0M374.9 54.7h0M402.3 54.7h0M137.5 77.0h0M166.1 77.0h0M227.0 77.0h0M249.2 77.0h0M280.0 77.0h0M296.7 77.0h0M321.9 77.0h0M348.6 77.0h0M374.9 77.0h0M402.3 77.0h0M137.5 97.8h0M166.1 97.8h0M195.8 97.8h0M249.2 97.8h0M280.0 97.8h0M296.7 97.8h0M321.9 97.8h0M348.6 97.8h0M374.9 97.8h0M402.3 97.8h0M137.5 127.4h0M166.1 127.4h0M195.8 127.4h0M227.0 127.4h0M280.0 127.4h0M296.7 127.4h0M321.9 127.4h0M348.6 127.4h0M374.9 127.4h0M402.3 127.4h0M137.5 148.7h0M166.1 148.7h0M195.8 148.7h0M227.0 148.7h0M249.2 148.7h0M296.7 148.7h0M321.9 148.7h0M348.6 148.7h0M374.9 148.7h0M402.3 148.7h0M137.5 183.7h0M166.1 183.7h0M195.8 183.7h0M227.0 183.7h0M249.2 183.7h0M280.0 183.7h0M321.9 183.7h0M348.6 183.7h0M374.9 183.7h0M402.3 183.7h0M137.5 210.4h0M166.1 210.4h0M195.8 210.4h0M227.0 210.4h0M249.2 210.4h0M280.0 210.4h0M296.7 210.4h0M348.6 210.4h0M374.9 210.4h0M402.3 210.4h0M137.5 235.6h0M166.1 235.6h0M195.8 235.6h0M227.0 235.6h0M249.2 235.6h0M280.0 235.6h0M296.7 235.6h0M321.9 235.6h0M374.9 235.6h0M402.3 235.6h0M137.5 261.3h0M166.1 261.3h0M195.8 261.3h0M227.0 261.3h0M249.2 261.3h0M280.0 261.3h0M296.7 261.3h0M321.9 261.3h0M348.6 261.3h0M402.3 261.3h0M137.5 285.8h0M166.1 285.8h0M195.8 285.8h0M227.0 285.8h0M249.2 285.8h0M280.0 285.8h0M296.7 285.8h0M321.9 285.8h0M348.6 285.8h0M374.9 285.8h0"/>
<path d="M186.5 12.9h0M211.3 12.9h0M226.5 12.9h0M257.5 12.9h0M285.5 12.9h0M318.0 12.9h0M342.7 12.9h0M370.9 12.9h0M397.1 12.9h0M424.3 12.9h0M156.3 34.8h0M211.3 34.8h0M226.5 34.8h0M257.5 34.8h0M285.5 34.8h0M318.0 34.8h0M342.7 34.8h0M370.9 34.8h0M397.1 34.8h0M424.3 34.8h0M156.3 61.9h0M186.5 61.9h0M226.5 61.9h0M257.5 61.9h0M285.5 61.9h0M318.0 61.9h0M342.7 61.9h0M370.9 61.9h0M397.1 61.9h0M424.3 61.9h0M156.3 98.3h0M186.5 98.3h0M211.3 98.3h0M257.5 98.3h0M285.5 98.3h0M318.0 98.3h0M342.7 98.3h0M370.9 98.3h0M397.1 98.3h0M424.3 98.3h0M156.3 119.4h0M186.5 119.4h0M211.3 119.4h0M226.5 119.4h0M285.5 119.4h0M318.0 119.4h0M342.7 119.4h0M370.9 119.4h0M397.1 119.4h0M424.3 119.4h0M156.3 143.3h0M186.5 143.3h0M211.3 143.3h0M226.5 143.3h0M257.5 143.3h0M318.0 143.3h0M342.7 143.3h0M370.9 143.3h0M397.1 143.3h0M424.3 143.3h0M156.3 162.9h0M186.5 162.9h0M211.3 162.9h0M226.5 162.9h0M257.5 162.9h0M285.5 162.9h0M342.7 162.9h0M370.9 162.9h0M397.1 162.9h0M424.3 162.9h0M156.3 190.1h0M186.5 190.1h0M211.3 190.1h0M226.5 190.1h0M257.5 190.1h0M285.5 190.1h0M318.0 190.1h0M370.9 190.1h0M397.1 190.1h0M424.3 190.1h0M156.3 213.9h0M186.5 213.9h0M211.3 213.9h0M226.5 213.9h0M257.5 213.9h0M285.5 213.9h0M318.0 213.9h0M342.7 213.9h0M397.1 213.9h0M424.3 213.9h0M156.3 239.5h0M186.5 239.5h0M211.3 239.5h0M226.5 239.5h0M257.5 239.5h0M285.5 239.5h0M318.0 239.5h0M342.7 239.5h0M370.9 239.5h0M424.3 239.5h0M156.3 264.4h0M186.5 264.4h0M211.3 264.4h0M226.5 264.4h0M257.5 264.4h0M285.5 264.4h0M318.0 264.4h0M342.7 264.4h0M370.9 264.4h0M397.1 264.4h0"/>
<path d="M188.1 7.5h0M214.4 7.5h0M231.2 7.5h0M267.0 7.5h0M289.8 7.5h0M319.5 7.5h0M345.8 7.5h0M372.1 7.5h0M398.4 7.5h0M424.7 7.5h0M161.8 33.2h0M214.4 33.2h0M231.2 33.2h0M267.0 33.2h0M289.8 33.2h0M319.5 33.2h0M345.8 33.2h0M372.1 33.2h0M398.4 33.2h0M424.7 33.2h0M161.8 58.8h0M188.1 58.8h0M231.2 58.8h0M267.0 58.8h0M289.8 58.8h0M319.5 58.8h0M345.8 58.8h0M372.1 58.8h0M398.4 58.8h0M424.7 58.8h0M161.8 93.7h0M188.1 93.7h0M214.4 93.7h0M267.0 93.7h0M289.8 93.7h0M319.5 93.7h0M345.8 93.7h0M372.1 93.7h0M398.4 93.7h0M424.7 93.7h0M161.8 110.1h0M188.1 110.1h0M214.4 110.1h0M231.2 110.1h0M289.8 110.1h0M319.5 110.1h0M345.8 110.1h0M372.1 110.1h0M398.4 110.1h0M424.7 110.1h0M161.8 139.1h0M188.1 139.1h0M214.4 139.1h0M231.2 139.1h0M267.0 139.1h0M319.5 139.1h0M345.8 139.1h0M372.1 139.1h0M398.4 139.1h0M424.7 139.1h0M161.8 161.4h0M188.1 161.4h0M214.4 161.4h0M231.2 161.4h0M267.0 161.4h0M289.8 161.4h0M345.8 161.4h0M372.1 161.4h0M398.4 161.4h0M424.7 161.4h0M161.8 187.0h0M188.1 187.0h0M214.4 187.0h0M231.2 187.0h0M267.0 187.0h0M289.8 187.0h0M319.5 187.0h0M372.1 187.0h0M398.4 187.0h0M424.7 187.0h0M161.8 212.7h0M188.1 212.7h0M214.4 212.7h0M231.2 212.7h0M267.0 212.7h0M289.8 212.7h0M319.5 212.7h0M345.8 212.7h0M398.4 212.7h0M424.7 212.7h0M161.8 238.3h0M188.1 238.3h0M214.4 238.3h0M231.2 238.3h0M267.0 238.3h0M289.8 238.3h0M319.5 238.3h0M345.8 238.3h0M372.1 238.3h0M424.7 238.3h0M161.8 264.0h0M188.1 264.0h0M214.4 264.0h0M231.2 264.0h0M267.0 264.0h0M289.8 264.0h0M319.5 264.0h0M345.8 264.0h0M372.1 264.0h0M398.4 264.0h0"/>
<path d="M165.8 31.4h0M194.7 31.4h0M226.3 31.4h0M248.6 31.4h0M281.7 31.4h0M295.8 31.4h0M322.0 31.4h0M348.2 31.4h0M374.5 31.4h0M401.9 31.4h0M137.4 55.0h0M194.7 55.0h0M226.3 55.0h0M248.6 55.0h0M281.7 55.0h0M295.8 55.0h0M322.0 55.0h0M348.2 55.0h0M374.5 55.0h0M401.9 55.0h0M137.4 78.0h0M165.8 78.0h0M226.3 78.0h0M248.6 78.0h0M281.7 78.0h0M295.8 78.0h0M322.0 78.0h0M348.2 78.0h0M374.5 78.0h0M401.9 78.0h0M137.4 98.5h0M165.8 98.5h0M194.7 98.5h0M248.6 98.5h0M281.7 98.5h0M295.8 98.5h0M322.0 98.5h0M348.2 98.5h0M374.5 98.5h0M401.9 98.5h0M137.4 128.1h0M165.8 128.1h0M194.7 128.1h0M226.3 128.1h0M281.7 128.1h0M295.8 128.1h0M322.0 128.1h0M348.2 128.1h0M374.5 128.1h0M401.9 128.1h0M137.4 147.0h0M165.8 147.0h0M194.7 147.0h0M226.3 147.0h0M248.6 147.0h0M295.8 147.0h0M322.0 147.0h0M348.2 147.0h0M374.5 147.0h0M401.9 147.0h0M137.4 184.5h0M165.8 184.5h0M194.7 184.5h0M226.3 184.5h0M248.6 184.5h0M281.7 184.5h0M322.0 184.5h0M348.2 184.5h0M374.5 184.5h0M401.9 184.5h0M137.4 210.3h0M165.8 210.3h0M194.7 210.3h0M226.3 210.3h0M248.6 210.3h0M281.7 210.3h0M295.8 210.3h0M348.2 210.3h0M374.5 210.3h0M401.9 210.3h0M137.4 236.0h0M165.8 236.0h0M194.7 236.0h0M226.3 236.0h0M248.6 236.0h0M281.7 236.0h0M295.8 236.0h0M322.0 236.0h0M374.5 236.0h0M401.9 236.0h0M137.4 261.6h0M165.8 261.6h0M194.7 261.6h0M226.3 261.6h0M248.6 261.6h0M281.7 261.6h0M295.8 261.6h0M322.0 261.6h0M348.2 261.6h0M401.9 261.6h0M137.4 286.2h0M165.8 286.2h0M194.7 286.2h0M226.3 286.2h0M248.6 286.2h0M281.7 286.2h0M295.8 286.2h0M322.0 286.2h0M348.2 286.2h0M374.5 286.2h0"/>
<path d="M166.1 30.8h0M192.7 30.8h0M226.2 30.8h0M248.7 30.8h0M284.5 30.8h0M295.3 30.8h0M323.4 30.8h0M349.0 30.8h0M375.3 30.8h0M401.2 30.8h0M138.0 54.7h0M192.7 54.7h0M226.2 54.7h0M248.7 54.7h0M284.5 54.7h0M295.3 54.7h0M323.4 54.7h0M349.0 54.7h0M375.3 54.7h0M401.2 54.7h0M138.0 80.0h0M166.1 80.0h0M226.2 80.0h0M248.7 80.0h0M284.5 80.0h0M295.3 80.0h0M323.4 80.0h0M349.0 80.0h0M375.3 80.0h0M401.2 80.0h0M138.0 98.6h0M166.1 98.6h0M192.7 98.6h0M248.7 98.6h0M284.5 98.6h0M295.3 98.6h0M323.4 98.6h0M349.0 98.6h0M375.3 98.6h0M401.2 98.6h0M138.0 127.9h0M166.1 127.9h0M192.7 127.9h0M226.2 127.9h0M284.5 127.9h0M295.3 127.9h0M323.4 127.9h0M349.0 127.9h0M375.3 127.9h0M401.2 127.9h0M138.0 144.3h0M166.1 144.3h0M192.7 144.3h0M226.2 144.3h0M248.7 144.3h0M295.3 144.3h0M323.4 144.3h0M349.0 144.3h0M375.3 144.3h0M401.2 144.3h0M138.0 185.1h0M166.1 185.1h0M192.7 185.1h0M226.2 185.1h0M248.7 185.1h0M284.5 185.1h0M323.4 185.1h0M349.0 185.1h0M375.3 185.1h0M401.2 185.1h0M138.0 208.9h0M166.1 208.9h0M192.7 208.9h0M226.2 208.9h0M248.7 208.9h0M284.5 208.9h0M295.3 208.9h0M349.0 208.9h0M375.3 208.9h0M401.2 208.9h0M138.0 235.2h0M166.1 235.2h0M192.7 235.2h0M226.2 235.2h0M248.7 235.2h0M284.5 235.2h0M295.3 235.2h0M323.4 235.2h0M375.3 235.2h0M401.2 235.2h0M138.0 260.9h0M166.1 260.9h0M192.7 260.9h0M226.2 260.9h0M248.7 260.9h0M284.5 260.9h0M295.3 260.9h0M323.4 260.9h0M349.0 260.9h0M401.2 260.9h0M138.0 286.9h0M166.1 286.9h0M192.7 286.9h0M226.2 286.9h0M248.7 286.9h0M284.5 286.9h0M295.3 286.9h0M323.4 286.9h0M349.0 286.9h0M375.3 286.9h0"/>
</g>
<g fill="#cc1c1c">
<path d="M136.36 32.55v-22.06h2.54v22.06zM138.90 32.55v-24.36h2.54v24.36zM141.44 32.55v-8.21h2.54v8.21zM143.97 32.55v-1.03h2.54v1.03zM149.05 32.55v-2.56h2.54v2.56zM154.13 32.55v-3.85h2.54v3.85zM159.21 32.55v-3.85h2.54v3.85z"/>
<path d="M162.64 58.19v-11.03h2.54v11.03zM165.18 58.19v-24.11h2.54v24.11zM167.72 58.19v-8.21h2.54v8.21zM170.26 58.19v-8.21h2.54v8.21zM172.79 58.19v-3.33h2.54v3.33zM175.33 58.19v-5.90h2.54v5.90zM177.87 58.19v-11.28h2.54v11.28zM180.41 58.19v-2.05h2.54v2.05zM185.49 58.19v-4.87h2.54v4.87z"/>
<path d="M188.92 83.84v-3.59h2.54v3.59zM191.46 83.84v-13.08h2.54v13.08zM194.00 83.84v-24.62h2.54v24.62zM196.54 83.84v-10.51h2.54v10.51zM199.08 83.84v-2.56h2.54v2.56zM201.62 83.84v-2.56h2.54v2.56zM204.15 83.84v-5.90h2.54v5.90zM206.69 83.84v-4.36h2.54v4.36zM209.23 83.84v-2.05h2.54v2.05zM211.77 83.84v-1.54h2.54v1.54z"/>
<path d="M215.20 109.48v-24.62h2.54v24.62zM217.74 109.48v-3.33h2.54v3.33zM222.82 109.48v-5.13h2.54v5.13zM225.36 109.48v-21.54h2.54v21.54zM227.90 109.48v-10.51h2.54v10.51zM230.44 109.48v-3.33h2.54v3.33zM232.97 109.48v-1.54h2.54v1.54zM238.05 109.48v-4.62h2.54v4.62z"/>
<path d="M241.48 135.13v-23.08h2.54v23.08zM244.02 135.13v-3.85h2.54v3.85zM246.56 135.13v-24.36h2.54v24.36zM249.10 135.13v-3.59h2.54v3.59zM251.64 135.13v-5.64h2.54v5.64zM254.18 135.13v-5.64h2.54v5.64zM256.72 135.13v-5.64h2.54v5.64zM261.80 135.13v-7.95h2.54v7.95zM264.33 135.13v-13.34h2.54v13.34z"/>
<path d="M267.77 160.77v-5.39h2.54v5.39zM270.31 160.77v-10.77h2.54v10.77zM272.84 160.77v-4.62h2.54v4.62zM275.38 160.77v-10.77h2.54v10.77zM277.92 160.77v-10.77h2.54v10.77zM280.46 160.77v-24.36h2.54v24.36zM283.00 160.77v-24.36h2.54v24.36zM285.54 160.77v-8.98h2.54v8.98zM288.08 160.77v-24.36h2.54v24.36zM290.62 160.77v-8.46h2.54v8.46z"/>
<path d="M294.05 186.42v-24.62h2.54v24.62zM296.59 186.42v-14.62h2.54v14.62zM299.13 186.42v-14.62h2.54v14.62zM301.67 186.42v-3.08h2.54v3.08zM304.20 186.42v-2.05h2.54v2.05zM306.74 186.42v-3.08h2.54v3.08zM309.28 186.42v-1.80h2.54v1.80zM311.82 186.42v-4.36h2.54v4.36zM316.90 186.42v-4.36h2.54v4.36z"/>
<path d="M320.33 212.06v-24.62h2.54v24.62zM322.87 212.06v-18.98h2.54v18.98zM325.41 212.06v-15.64h2.54v15.64zM335.56 212.06v-2.56h2.54v2.56zM338.10 212.06v-2.56h2.54v2.56zM340.64 212.06v-3.08h2.54v3.08zM343.18 212.06v-4.36h2.54v4.36z"/>
<path d="M346.61 237.71v-24.88h2.54v24.88zM349.15 237.71v-13.85h2.54v13.85zM351.69 237.71v-12.57h2.54v12.57zM359.31 237.71v-1.28h2.54v1.28zM361.85 237.71v-1.28h2.54v1.28zM364.38 237.71v-3.85h2.54v3.85zM369.46 237.71v-3.85h2.54v3.85z"/>
<path d="M372.89 263.35v-24.62h2.54v24.62zM375.43 263.35v-13.85h2.54v13.85zM377.97 263.35v-12.57h2.54v12.57zM385.59 263.35v-1.28h2.54v1.28zM388.13 263.35v-1.28h2.54v1.28zM390.67 263.35v-3.85h2.54v3.85zM395.74 263.35v-3.85h2.54v3.85z"/>
<path d="M399.18 289.00v-19.23h2.54v19.23zM401.71 289.00v-24.62h2.54v24.62zM404.25 289.00v-11.54h2.54v11.54zM406.79 289.00v-5.39h2.54v5.39zM409.33 289.00v-5.39h2.54v5.39zM411.87 289.00v-9.49h2.54v9.49zM414.41 289.00v-9.49h2.54v9.49zM416.95 289.00v-1.54h2.54v1.54zM422.03 289.00v-5.64h2.54v5.64z"/>
</g>
<path d="M136.20 6.90V289.00M136.20 6.90H425.30M162.48 6.90V289.00M136.20 32.55H425.30M188.76 6.90V289.00M136.20 58.19H425.30M215.05 6.90V289.00M136.20 83.84H425.30M241.33 6.90V289.00M136.20 109.48H425.30M267.61 6.90V289.00M136.20 135.13H425.30M293.89 6.90V289.00M136.20 160.77H425.30M320.17 6.90V289.00M136.20 186.42H425.30M346.45 6.90V289.00M136.20 212.06H425.30M372.74 6.90V289.00M136.20 237.71H425.30M399.02 6.90V289.00M136.20 263.35H425.30M425.30 6.90V289.00M136.20 289.00H425.30" stroke="#8f8f8f" stroke-width="0.75" fill="none"/>
<g font-family="'DejaVu Sans','Liberation Sans',sans-serif" fill="#222">
<text transform="translate(133.50 27.60) scale(0.1)" font-size="26" text-anchor="end">500</text>
<text transform="translate(133.50 20.29) scale(0.1)" font-size="26" text-anchor="end">1000</text>
<text transform="translate(133.50 12.98) scale(0.1)" font-size="26" text-anchor="end">1500</text>
<text transform="translate(125.00 19.72) rotate(-90) scale(0.1)" font-size="33" text-anchor="middle">Na</text>
<text transform="translate(143.19 291.70) rotate(-90) scale(0.1)" font-size="26" text-anchor="end">500</text>
<text transform="translate(150.69 291.70) rotate(-90) scale(0.1)" font-size="26" text-anchor="end">1000</text>
<text transform="translate(158.18 291.70) rotate(-90) scale(0.1)" font-size="26" text-anchor="end">1500</text>
<text transform="translate(149.34 301.30) scale(0.1)" font-size="33" text-anchor="middle">Na</text>
<text transform="translate(133.50 49.78) scale(0.1)" font-size="26" text-anchor="end">100</text>
<text transform="translate(133.50 36.32) scale(0.1)" font-size="26" text-anchor="end">200</text>
<text transform="translate(126.40 45.37) rotate(-90) scale(0.1)" font-size="33" text-anchor="middle">Ca</text>
<text transform="translate(173.02 291.70) rotate(-90) scale(0.1)" font-size="26" text-anchor="end">100</text>
<text transform="translate(186.82 291.70) rotate(-90) scale(0.1)" font-size="26" text-anchor="end">200</text>
<text transform="translate(175.62 298.80) scale(0.1)" font-size="33" text-anchor="middle">Ca</text>
<text transform="translate(133.50 78.89) scale(0.1)" font-size="26" text-anchor="end">50</text>
<text transform="translate(133.50 65.04) scale(0.1)" font-size="26" text-anchor="end">100</text>
<text transform="translate(126.40 71.01) rotate(-90) scale(0.1)" font-size="33" text-anchor="middle">Mg</text>
<text transform="translate(195.76 291.70) rotate(-90) scale(0.1)" font-size="26" text-anchor="end">50</text>
<text transform="translate(209.95 291.70) rotate(-90) scale(0.1)" font-size="26" text-anchor="end">100</text>
<text transform="translate(201.90 298.80) scale(0.1)" font-size="33" text-anchor="middle">Mg</text>
<text transform="translate(133.50 100.43) scale(0.1)" font-size="26" text-anchor="end">50</text>
<text transform="translate(133.50 90.43) scale(0.1)" font-size="26" text-anchor="end">100</text>
<text transform="translate(126.40 96.66) rotate(-90) scale(0.1)" font-size="33" text-anchor="middle">K</text>
<text transform="translate(226.25 291.70) rotate(-90) scale(0.1)" font-size="26" text-anchor="end">50</text>
<text transform="translate(236.50 291.70) rotate(-90) scale(0.1)" font-size="26" text-anchor="end">100</text>
<text transform="translate(228.19 298.80) scale(0.1)" font-size="33" text-anchor="middle">K</text>
<text transform="translate(133.50 132.74) scale(0.1)" font-size="26" text-anchor="end">0</text>
<text transform="translate(133.50 124.41) scale(0.1)" font-size="26" text-anchor="end">25</text>
<text transform="translate(133.50 116.07) scale(0.1)" font-size="26" text-anchor="end">50</text>
<text transform="translate(128.00 122.30) rotate(-90) scale(0.1)" font-size="33" text-anchor="middle">Co3</text>
<text transform="translate(245.69 291.70) rotate(-90) scale(0.1)" font-size="26" text-anchor="end">0</text>
<text transform="translate(254.24 291.70) rotate(-90) scale(0.1)" font-size="26" text-anchor="end">25</text>
<text transform="translate(262.78 291.70) rotate(-90) scale(0.1)" font-size="26" text-anchor="end">50</text>
<text transform="translate(254.47 297.30) scale(0.1)" font-size="33" text-anchor="middle">Co3</text>
<text transform="translate(133.50 160.70) scale(0.1)" font-size="26" text-anchor="end">100</text>
<text transform="translate(133.50 146.72) scale(0.1)" font-size="26" text-anchor="end">200</text>
<text transform="translate(126.40 147.95) rotate(-90) scale(0.1)" font-size="33" text-anchor="middle">HCO3</text>
<text transform="translate(269.61 291.70) rotate(-90) scale(0.1)" font-size="26" text-anchor="end">100</text>
<text transform="translate(283.93 291.70) rotate(-90) scale(0.1)" font-size="26" text-anchor="end">200</text>
<text transform="translate(280.75 298.80) scale(0.1)" font-size="33" text-anchor="middle">HCO3</text>
<text transform="translate(133.50 175.31) scale(0.1)" font-size="26" text-anchor="end">1000</text>
<text transform="translate(133.50 162.75) scale(0.1)" font-size="26" text-anchor="end">2000</text>
<text transform="translate(125.00 173.60) rotate(-90) scale(0.1)" font-size="33" text-anchor="middle">Cl</text>
<text transform="translate(307.19 291.70) rotate(-90) scale(0.1)" font-size="26" text-anchor="end">1000</text>
<text transform="translate(320.07 291.70) rotate(-90) scale(0.1)" font-size="26" text-anchor="end">2000</text>
<text transform="translate(307.03 301.30) scale(0.1)" font-size="33" text-anchor="middle">Cl</text>
<text transform="translate(133.50 205.83) scale(0.1)" font-size="26" text-anchor="end">500</text>
<text transform="translate(133.50 197.88) scale(0.1)" font-size="26" text-anchor="end">1000</text>
<text transform="translate(133.50 189.93) scale(0.1)" font-size="26" text-anchor="end">1500</text>
<text transform="translate(125.00 199.24) rotate(-90) scale(0.1)" font-size="33" text-anchor="middle">SO4</text>
<text transform="translate(328.48 291.70) rotate(-90) scale(0.1)" font-size="26" text-anchor="end">500</text>
<text transform="translate(336.63 291.70) rotate(-90) scale(0.1)" font-size="26" text-anchor="end">1000</text>
<text transform="translate(344.78 291.70) rotate(-90) scale(0.1)" font-size="26" text-anchor="end">1500</text>
<text transform="translate(333.31 301.30) scale(0.1)" font-size="33" text-anchor="middle">SO4</text>
<text transform="translate(133.50 233.79) scale(0.1)" font-size="26" text-anchor="end">2500</text>
<text transform="translate(133.50 226.61) scale(0.1)" font-size="26" text-anchor="end">5000</text>
<text transform="translate(133.50 218.66) scale(0.1)" font-size="26" text-anchor="end">7500</text>
<text transform="translate(125.00 224.89) rotate(-90) scale(0.1)" font-size="33" text-anchor="middle">EC</text>
<text transform="translate(351.22 291.70) rotate(-90) scale(0.1)" font-size="26" text-anchor="end">2500</text>
<text transform="translate(358.71 291.70) rotate(-90) scale(0.1)" font-size="26" text-anchor="end">5000</text>
<text transform="translate(366.46 291.70) rotate(-90) scale(0.1)" font-size="26" text-anchor="end">7500</text>
<text transform="translate(359.60 301.30) scale(0.1)" font-size="33" text-anchor="middle">EC</text>
<text transform="translate(133.50 257.51) scale(0.1)" font-size="26" text-anchor="end">2000</text>
<text transform="translate(133.50 248.15) scale(0.1)" font-size="26" text-anchor="end">4000</text>
<text transform="translate(133.50 239.04) scale(0.1)" font-size="26" text-anchor="end">6000</text>
<text transform="translate(125.00 250.53) rotate(-90) scale(0.1)" font-size="33" text-anchor="middle">TDS</text>
<text transform="translate(382.46 291.70) rotate(-90) scale(0.1)" font-size="26" text-anchor="end">2000</text>
<text transform="translate(394.19 291.70) rotate(-90) scale(0.1)" font-size="26" text-anchor="end">4000</text>
<text transform="translate(385.88 301.30) scale(0.1)" font-size="33" text-anchor="middle">TDS</text>
<text transform="translate(133.50 288.92) scale(0.1)" font-size="26" text-anchor="end">250</text>
<text transform="translate(133.50 280.72) scale(0.1)" font-size="26" text-anchor="end">500</text>
<text transform="translate(133.50 272.25) scale(0.1)" font-size="26" text-anchor="end">750</text>
<text transform="translate(126.40 276.18) rotate(-90) scale(0.1)" font-size="33" text-anchor="middle">TH</text>
<text transform="translate(401.02 291.70) rotate(-90) scale(0.1)" font-size="26" text-anchor="end">250</text>
<text transform="translate(409.43 291.70) rotate(-90) scale(0.1)" font-size="26" text-anchor="end">500</text>
<text transform="translate(418.10 291.70) rotate(-90) scale(0.1)" font-size="26" text-anchor="end">750</text>
<text transform="translate(412.16 298.80) scale(0.1)" font-size="33" text-anchor="middle">TH</text>
</g>
<path d="M134.20 26.65H136.20M134.20 19.34H136.20M134.20 12.03H136.20M142.24 289.00V291.00M149.74 289.00V291.00M157.23 289.00V291.00M134.20 48.83H136.20M134.20 35.37H136.20M172.07 289.00V291.00M185.87 289.00V291.00M134.20 77.94H136.20M134.20 64.09H136.20M194.81 289.00V291.00M209.00 289.00V291.00M134.20 99.48H136.20M134.20 89.48H136.20M225.30 289.00V291.00M235.55 289.00V291.00M134.20 131.79H136.20M134.20 123.46H136.20M134.20 115.12H136.20M244.74 289.00V291.00M253.29 289.00V291.00M261.83 289.00V291.00M134.20 159.75H136.20M134.20 145.77H136.20M268.66 289.00V291.00M282.98 289.00V291.00M134.20 174.36H136.20M134.20 161.80H136.20M306.24 289.00V291.00M319.12 289.00V291.00M134.20 204.88H136.20M134.20 196.93H136.20M134.20 188.98H136.20M327.53 289.00V291.00M335.68 289.00V291.00M343.83 289.00V291.00M134.20 232.84H136.20M134.20 225.66H136.20M134.20 217.71H136.20M350.27 289.00V291.00M357.76 289.00V291.00M365.51 289.00V291.00M134.20 256.56H136.20M134.20 247.20H136.20M134.20 238.09H136.20M381.51 289.00V291.00M393.24 289.00V291.00M134.20 287.97H136.20M134.20 279.77H136.20M134.20 271.30H136.20M400.07 289.00V291.00M408.48 289.00V291.00M417.15 289.00V291.00" stroke="#555" stroke-width="0.4" fill="none"/>
</g>
<g font-family="'Liberation Serif','DejaVu Serif',serif" fill="#000">
<text x="103.6" y="19.9" font-size="12.5" font-weight="bold">a</text>
<text x="19.3" y="333.8" font-size="12.5" font-weight="bold">b</text>
<text x="273.8" y="331.8" font-size="12.5" font-weight="bold">c</text>
<text x="73.4" y="324.0" font-size="12.6">Pearson Correlation</text>
<text x="318.4" y="325.2" font-size="12.7">Spearman Correlation</text>
</g>
<g id="hb" font-family="'DejaVu Sans','Liberation Sans',sans-serif">
<rect x="12.70" y="337.50" width="203.80" height="198.50" fill="#fff"/>
<rect x="12.94" y="337.74" width="18.05" height="17.57" fill="#d30022"/>
<rect x="31.47" y="337.74" width="18.05" height="17.57" fill="#ff7156"/>
<rect x="49.99" y="337.74" width="18.05" height="17.57" fill="#ff8d6c"/>
<rect x="68.52" y="337.74" width="18.05" height="17.57" fill="#8bbcff"/>
<rect x="87.05" y="337.74" width="18.05" height="17.57" fill="#ffa989"/>
<rect x="105.58" y="337.74" width="18.05" height="17.57" fill="#b1d2fa"/>
<rect x="124.10" y="337.74" width="18.05" height="17.57" fill="#dc1929"/>
<rect x="142.63" y="337.74" width="18.05" height="17.57" fill="#e0232b"/>
<rect x="161.16" y="337.74" width="18.05" height="17.57" fill="#d60525"/>
<rect x="179.69" y="337.74" width="18.05" height="17.57" fill="#d60525"/>
<rect x="198.21" y="337.74" width="18.05" height="17.57" fill="#fc5e49"/>
<rect x="12.94" y="355.79" width="18.05" height="17.57" fill="#ff7156"/>
<rect x="31.47" y="355.79" width="18.05" height="17.57" fill="#d30022"/>
<rect x="49.99" y="355.79" width="18.05" height="17.57" fill="#ff9c7b"/>
<rect x="68.52" y="355.79" width="18.05" height="17.57" fill="#4371e2"/>
<rect x="87.05" y="355.79" width="18.05" height="17.57" fill="#ff795c"/>
<rect x="105.58" y="355.79" width="18.05" height="17.57" fill="#96c3ff"/>
<rect x="124.10" y="355.79" width="18.05" height="17.57" fill="#ff7559"/>
<rect x="142.63" y="355.79" width="18.05" height="17.57" fill="#ff6b52"/>
<rect x="161.16" y="355.79" width="18.05" height="17.57" fill="#ff674f"/>
<rect x="179.69" y="355.79" width="18.05" height="17.57" fill="#ff674f"/>
<rect x="198.21" y="355.79" width="18.05" height="17.57" fill="#e42c2f"/>
<rect x="12.94" y="373.83" width="18.05" height="17.57" fill="#ff8d6c"/>
<rect x="31.47" y="373.83" width="18.05" height="17.57" fill="#ff9c7b"/>
<rect x="49.99" y="373.83" width="18.05" height="17.57" fill="#d30022"/>
<rect x="68.52" y="373.83" width="18.05" height="17.57" fill="#e0dddb"/>
<rect x="87.05" y="373.83" width="18.05" height="17.57" fill="#f0d6cb"/>
<rect x="105.58" y="373.83" width="18.05" height="17.57" fill="#9ac5ff"/>
<rect x="124.10" y="373.83" width="18.05" height="17.57" fill="#fe634c"/>
<rect x="142.63" y="373.83" width="18.05" height="17.57" fill="#ffa383"/>
<rect x="161.16" y="373.83" width="18.05" height="17.57" fill="#ff7c5f"/>
<rect x="179.69" y="373.83" width="18.05" height="17.57" fill="#ff7c5f"/>
<rect x="198.21" y="373.83" width="18.05" height="17.57" fill="#f54f3f"/>
<rect x="12.94" y="391.88" width="18.05" height="17.57" fill="#8bbcff"/>
<rect x="31.47" y="391.88" width="18.05" height="17.57" fill="#4371e2"/>
<rect x="49.99" y="391.88" width="18.05" height="17.57" fill="#e0dddb"/>
<rect x="68.52" y="391.88" width="18.05" height="17.57" fill="#d30022"/>
<rect x="87.05" y="391.88" width="18.05" height="17.57" fill="#2e4bc5"/>
<rect x="105.58" y="391.88" width="18.05" height="17.57" fill="#5e94f7"/>
<rect x="124.10" y="391.88" width="18.05" height="17.57" fill="#a5ccfe"/>
<rect x="142.63" y="391.88" width="18.05" height="17.57" fill="#96c3ff"/>
<rect x="161.16" y="391.88" width="18.05" height="17.57" fill="#9dc7ff"/>
<rect x="179.69" y="391.88" width="18.05" height="17.57" fill="#9dc7ff"/>
<rect x="198.21" y="391.88" width="18.05" height="17.57" fill="#85b7ff"/>
<rect x="12.94" y="409.92" width="18.05" height="17.57" fill="#ffa989"/>
<rect x="31.47" y="409.92" width="18.05" height="17.57" fill="#ff795c"/>
<rect x="49.99" y="409.92" width="18.05" height="17.57" fill="#f0d6cb"/>
<rect x="68.52" y="409.92" width="18.05" height="17.57" fill="#2e4bc5"/>
<rect x="87.05" y="409.92" width="18.05" height="17.57" fill="#d30022"/>
<rect x="105.58" y="409.92" width="18.05" height="17.57" fill="#5286f0"/>
<rect x="124.10" y="409.92" width="18.05" height="17.57" fill="#ffb394"/>
<rect x="142.63" y="409.92" width="18.05" height="17.57" fill="#ffa383"/>
<rect x="161.16" y="409.92" width="18.05" height="17.57" fill="#ffa686"/>
<rect x="179.69" y="409.92" width="18.05" height="17.57" fill="#ffa686"/>
<rect x="198.21" y="409.92" width="18.05" height="17.57" fill="#ff9877"/>
<rect x="12.94" y="427.97" width="18.05" height="17.57" fill="#b1d2fa"/>
<rect x="31.47" y="427.97" width="18.05" height="17.57" fill="#96c3ff"/>
<rect x="49.99" y="427.97" width="18.05" height="17.57" fill="#9ac5ff"/>
<rect x="68.52" y="427.97" width="18.05" height="17.57" fill="#5e94f7"/>
<rect x="87.05" y="427.97" width="18.05" height="17.57" fill="#5286f0"/>
<rect x="105.58" y="427.97" width="18.05" height="17.57" fill="#d30022"/>
<rect x="124.10" y="427.97" width="18.05" height="17.57" fill="#9dc7ff"/>
<rect x="142.63" y="427.97" width="18.05" height="17.57" fill="#bfd7f4"/>
<rect x="161.16" y="427.97" width="18.05" height="17.57" fill="#b1d2fa"/>
<rect x="179.69" y="427.97" width="18.05" height="17.57" fill="#b1d2fa"/>
<rect x="198.21" y="427.97" width="18.05" height="17.57" fill="#9dc7ff"/>
<rect x="12.94" y="446.01" width="18.05" height="17.57" fill="#dc1929"/>
<rect x="31.47" y="446.01" width="18.05" height="17.57" fill="#ff7559"/>
<rect x="49.99" y="446.01" width="18.05" height="17.57" fill="#fe634c"/>
<rect x="68.52" y="446.01" width="18.05" height="17.57" fill="#a5ccfe"/>
<rect x="87.05" y="446.01" width="18.05" height="17.57" fill="#ffb394"/>
<rect x="105.58" y="446.01" width="18.05" height="17.57" fill="#9dc7ff"/>
<rect x="124.10" y="446.01" width="18.05" height="17.57" fill="#d30022"/>
<rect x="142.63" y="446.01" width="18.05" height="17.57" fill="#f24a3d"/>
<rect x="161.16" y="446.01" width="18.05" height="17.57" fill="#d90f27"/>
<rect x="179.69" y="446.01" width="18.05" height="17.57" fill="#d90f27"/>
<rect x="198.21" y="446.01" width="18.05" height="17.57" fill="#f54f3f"/>
<rect x="12.94" y="464.06" width="18.05" height="17.57" fill="#e0232b"/>
<rect x="31.47" y="464.06" width="18.05" height="17.57" fill="#ff6b52"/>
<rect x="49.99" y="464.06" width="18.05" height="17.57" fill="#ffa383"/>
<rect x="68.52" y="464.06" width="18.05" height="17.57" fill="#96c3ff"/>
<rect x="87.05" y="464.06" width="18.05" height="17.57" fill="#ffa383"/>
<rect x="105.58" y="464.06" width="18.05" height="17.57" fill="#bfd7f4"/>
<rect x="124.10" y="464.06" width="18.05" height="17.57" fill="#f24a3d"/>
<rect x="142.63" y="464.06" width="18.05" height="17.57" fill="#d30022"/>
<rect x="161.16" y="464.06" width="18.05" height="17.57" fill="#dc1929"/>
<rect x="179.69" y="464.06" width="18.05" height="17.57" fill="#dc1929"/>
<rect x="198.21" y="464.06" width="18.05" height="17.57" fill="#ff6b52"/>
<rect x="12.94" y="482.10" width="18.05" height="17.57" fill="#d60525"/>
<rect x="31.47" y="482.10" width="18.05" height="17.57" fill="#ff674f"/>
<rect x="49.99" y="482.10" width="18.05" height="17.57" fill="#ff7c5f"/>
<rect x="68.52" y="482.10" width="18.05" height="17.57" fill="#9dc7ff"/>
<rect x="87.05" y="482.10" width="18.05" height="17.57" fill="#ffa686"/>
<rect x="105.58" y="482.10" width="18.05" height="17.57" fill="#b1d2fa"/>
<rect x="124.10" y="482.10" width="18.05" height="17.57" fill="#d90f27"/>
<rect x="142.63" y="482.10" width="18.05" height="17.57" fill="#dc1929"/>
<rect x="161.16" y="482.10" width="18.05" height="17.57" fill="#d30022"/>
<rect x="179.69" y="482.10" width="18.05" height="17.57" fill="#d30022"/>
<rect x="198.21" y="482.10" width="18.05" height="17.57" fill="#f54f3f"/>
<rect x="12.94" y="500.15" width="18.05" height="17.57" fill="#d60525"/>
<rect x="31.47" y="500.15" width="18.05" height="17.57" fill="#ff674f"/>
<rect x="49.99" y="500.15" width="18.05" height="17.57" fill="#ff7c5f"/>
<rect x="68.52" y="500.15" width="18.05" height="17.57" fill="#9dc7ff"/>
<rect x="87.05" y="500.15" width="18.05" height="17.57" fill="#ffa686"/>
<rect x="105.58" y="500.15" width="18.05" height="17.57" fill="#b1d2fa"/>
<rect x="124.10" y="500.15" width="18.05" height="17.57" fill="#d90f27"/>
<rect x="142.63" y="500.15" width="18.05" height="17.57" fill="#dc1929"/>
<rect x="161.16" y="500.15" width="18.05" height="17.57" fill="#d30022"/>
<rect x="179.69" y="500.15" width="18.05" height="17.57" fill="#d30022"/>
<rect x="198.21" y="500.15" width="18.05" height="17.57" fill="#f54f3f"/>
<rect x="12.94" y="518.19" width="18.05" height="17.57" fill="#fc5e49"/>
<rect x="31.47" y="518.19" width="18.05" height="17.57" fill="#e42c2f"/>
<rect x="49.99" y="518.19" width="18.05" height="17.57" fill="#f54f3f"/>
<rect x="68.52" y="518.19" width="18.05" height="17.57" fill="#85b7ff"/>
<rect x="87.05" y="518.19" width="18.05" height="17.57" fill="#ff9877"/>
<rect x="105.58" y="518.19" width="18.05" height="17.57" fill="#9dc7ff"/>
<rect x="124.10" y="518.19" width="18.05" height="17.57" fill="#f54f3f"/>
<rect x="142.63" y="518.19" width="18.05" height="17.57" fill="#ff6b52"/>
<rect x="161.16" y="518.19" width="18.05" height="17.57" fill="#f54f3f"/>
<rect x="179.69" y="518.19" width="18.05" height="17.57" fill="#f54f3f"/>
<rect x="198.21" y="518.19" width="18.05" height="17.57" fill="#d30022"/>
<text transform="translate(21.96 348.12) scale(0.1)" font-size="44" text-anchor="middle" fill="#ffffff" fill-opacity="0.88">1</text>
<text transform="translate(40.49 348.12) scale(0.1)" font-size="44" text-anchor="middle" fill="#ffffff" fill-opacity="0.88">0.82</text>
<text transform="translate(59.02 348.12) scale(0.1)" font-size="44" text-anchor="middle" fill="#ffffff" fill-opacity="0.88">0.75</text>
<text transform="translate(77.55 348.12) scale(0.1)" font-size="44" text-anchor="middle" fill="#262626" fill-opacity="0.88">0.18</text>
<text transform="translate(96.07 348.12) scale(0.1)" font-size="44" text-anchor="middle" fill="#262626" fill-opacity="0.88">0.67</text>
<text transform="translate(114.60 348.12) scale(0.1)" font-size="44" text-anchor="middle" fill="#262626" fill-opacity="0.88">0.29</text>
<text transform="translate(133.13 348.12) scale(0.1)" font-size="44" text-anchor="middle" fill="#ffffff" fill-opacity="0.88">0.97</text>
<text transform="translate(151.65 348.12) scale(0.1)" font-size="44" text-anchor="middle" fill="#ffffff" fill-opacity="0.88">0.96</text>
<text transform="translate(170.18 348.12) scale(0.1)" font-size="44" text-anchor="middle" fill="#ffffff" fill-opacity="0.88">0.99</text>
<text transform="translate(188.71 348.12) scale(0.1)" font-size="44" text-anchor="middle" fill="#ffffff" fill-opacity="0.88">0.99</text>
<text transform="translate(207.24 348.12) scale(0.1)" font-size="44" text-anchor="middle" fill="#ffffff" fill-opacity="0.88">0.86</text>
<text transform="translate(21.96 366.17) scale(0.1)" font-size="44" text-anchor="middle" fill="#ffffff" fill-opacity="0.88">0.82</text>
<text transform="translate(40.49 366.17) scale(0.1)" font-size="44" text-anchor="middle" fill="#ffffff" fill-opacity="0.88">1</text>
<text transform="translate(59.02 366.17) scale(0.1)" font-size="44" text-anchor="middle" fill="#262626" fill-opacity="0.88">0.71</text>
<text transform="translate(77.55 366.17) scale(0.1)" font-size="44" text-anchor="middle" fill="#ffffff" fill-opacity="0.88">-0.054</text>
<text transform="translate(96.07 366.17) scale(0.1)" font-size="44" text-anchor="middle" fill="#ffffff" fill-opacity="0.88">0.8</text>
<text transform="translate(114.60 366.17) scale(0.1)" font-size="44" text-anchor="middle" fill="#262626" fill-opacity="0.88">0.21</text>
<text transform="translate(133.13 366.17) scale(0.1)" font-size="44" text-anchor="middle" fill="#ffffff" fill-opacity="0.88">0.81</text>
<text transform="translate(151.65 366.17) scale(0.1)" font-size="44" text-anchor="middle" fill="#ffffff" fill-opacity="0.88">0.83</text>
<text transform="translate(170.18 366.17) scale(0.1)" font-size="44" text-anchor="middle" fill="#ffffff" fill-opacity="0.88">0.84</text>
<text transform="translate(188.71 366.17) scale(0.1)" font-size="44" text-anchor="middle" fill="#ffffff" fill-opacity="0.88">0.84</text>
<text transform="translate(207.24 366.17) scale(0.1)" font-size="44" text-anchor="middle" fill="#ffffff" fill-opacity="0.88">0.95</text>
<text transform="translate(21.96 384.21) scale(0.1)" font-size="44" text-anchor="middle" fill="#ffffff" fill-opacity="0.88">0.75</text>
<text transform="translate(40.49 384.21) scale(0.1)" font-size="44" text-anchor="middle" fill="#262626" fill-opacity="0.88">0.71</text>
<text transform="translate(59.02 384.21) scale(0.1)" font-size="44" text-anchor="middle" fill="#ffffff" fill-opacity="0.88">1</text>
<text transform="translate(77.55 384.21) scale(0.1)" font-size="44" text-anchor="middle" fill="#262626" fill-opacity="0.88">0.43</text>
<text transform="translate(96.07 384.21) scale(0.1)" font-size="44" text-anchor="middle" fill="#262626" fill-opacity="0.88">0.48</text>
<text transform="translate(114.60 384.21) scale(0.1)" font-size="44" text-anchor="middle" fill="#262626" fill-opacity="0.88">0.22</text>
<text transform="translate(133.13 384.21) scale(0.1)" font-size="44" text-anchor="middle" fill="#ffffff" fill-opacity="0.88">0.85</text>
<text transform="translate(151.65 384.21) scale(0.1)" font-size="44" text-anchor="middle" fill="#262626" fill-opacity="0.88">0.69</text>
<text transform="translate(170.18 384.21) scale(0.1)" font-size="44" text-anchor="middle" fill="#ffffff" fill-opacity="0.88">0.79</text>
<text transform="translate(188.71 384.21) scale(0.1)" font-size="44" text-anchor="middle" fill="#ffffff" fill-opacity="0.88">0.79</text>
<text transform="translate(207.24 384.21) scale(0.1)" font-size="44" text-anchor="middle" fill="#ffffff" fill-opacity="0.88">0.89</text>
<text transform="translate(21.96 402.26) scale(0.1)" font-size="44" text-anchor="middle" fill="#262626" fill-opacity="0.88">0.18</text>
<text transform="translate(40.49 402.26) scale(0.1)" font-size="44" text-anchor="middle" fill="#ffffff" fill-opacity="0.88">-0.054</text>
<text transform="translate(59.02 402.26) scale(0.1)" font-size="44" text-anchor="middle" fill="#262626" fill-opacity="0.88">0.43</text>
<text transform="translate(77.55 402.26) scale(0.1)" font-size="44" text-anchor="middle" fill="#ffffff" fill-opacity="0.88">1</text>
<text transform="translate(96.07 402.26) scale(0.1)" font-size="44" text-anchor="middle" fill="#ffffff" fill-opacity="0.88">-0.15</text>
<text transform="translate(114.60 402.26) scale(0.1)" font-size="44" text-anchor="middle" fill="#ffffff" fill-opacity="0.88">0.046</text>
<text transform="translate(133.13 402.26) scale(0.1)" font-size="44" text-anchor="middle" fill="#262626" fill-opacity="0.88">0.25</text>
<text transform="translate(151.65 402.26) scale(0.1)" font-size="44" text-anchor="middle" fill="#262626" fill-opacity="0.88">0.21</text>
<text transform="translate(170.18 402.26) scale(0.1)" font-size="44" text-anchor="middle" fill="#262626" fill-opacity="0.88">0.23</text>
<text transform="translate(188.71 402.26) scale(0.1)" font-size="44" text-anchor="middle" fill="#262626" fill-opacity="0.88">0.23</text>
<text transform="translate(207.24 402.26) scale(0.1)" font-size="44" text-anchor="middle" fill="#262626" fill-opacity="0.88">0.16</text>
<text transform="translate(21.96 420.30) scale(0.1)" font-size="44" text-anchor="middle" fill="#262626" fill-opacity="0.88">0.67</text>
<text transform="translate(40.49 420.30) scale(0.1)" font-size="44" text-anchor="middle" fill="#ffffff" fill-opacity="0.88">0.8</text>
<text transform="translate(59.02 420.30) scale(0.1)" font-size="44" text-anchor="middle" fill="#262626" fill-opacity="0.88">0.48</text>
<text transform="translate(77.55 420.30) scale(0.1)" font-size="44" text-anchor="middle" fill="#ffffff" fill-opacity="0.88">-0.15</text>
<text transform="translate(96.07 420.30) scale(0.1)" font-size="44" text-anchor="middle" fill="#ffffff" fill-opacity="0.88">1</text>
<text transform="translate(114.60 420.30) scale(0.1)" font-size="44" text-anchor="middle" fill="#ffffff" fill-opacity="0.88">0.0055</text>
<text transform="translate(133.13 420.30) scale(0.1)" font-size="44" text-anchor="middle" fill="#262626" fill-opacity="0.88">0.64</text>
<text transform="translate(151.65 420.30) scale(0.1)" font-size="44" text-anchor="middle" fill="#262626" fill-opacity="0.88">0.69</text>
<text transform="translate(170.18 420.30) scale(0.1)" font-size="44" text-anchor="middle" fill="#262626" fill-opacity="0.88">0.68</text>
<text transform="translate(188.71 420.30) scale(0.1)" font-size="44" text-anchor="middle" fill="#262626" fill-opacity="0.88">0.68</text>
<text transform="translate(207.24 420.30) scale(0.1)" font-size="44" text-anchor="middle" fill="#262626" fill-opacity="0.88">0.72</text>
<text transform="translate(21.96 438.35) scale(0.1)" font-size="44" text-anchor="middle" fill="#262626" fill-opacity="0.88">0.29</text>
<text transform="translate(40.49 438.35) scale(0.1)" font-size="44" text-anchor="middle" fill="#262626" fill-opacity="0.88">0.21</text>
<text transform="translate(59.02 438.35) scale(0.1)" font-size="44" text-anchor="middle" fill="#262626" fill-opacity="0.88">0.22</text>
<text transform="translate(77.55 438.35) scale(0.1)" font-size="44" text-anchor="middle" fill="#ffffff" fill-opacity="0.88">0.046</text>
<text transform="translate(96.07 438.35) scale(0.1)" font-size="44" text-anchor="middle" fill="#ffffff" fill-opacity="0.88">0.0055</text>
<text transform="translate(114.60 438.35) scale(0.1)" font-size="44" text-anchor="middle" fill="#ffffff" fill-opacity="0.88">1</text>
<text transform="translate(133.13 438.35) scale(0.1)" font-size="44" text-anchor="middle" fill="#262626" fill-opacity="0.88">0.23</text>
<text transform="translate(151.65 438.35) scale(0.1)" font-size="44" text-anchor="middle" fill="#262626" fill-opacity="0.88">0.33</text>
<text transform="translate(170.18 438.35) scale(0.1)" font-size="44" text-anchor="middle" fill="#262626" fill-opacity="0.88">0.29</text>
<text transform="translate(188.71 438.35) scale(0.1)" font-size="44" text-anchor="middle" fill="#262626" fill-opacity="0.88">0.29</text>
<text transform="translate(207.24 438.35) scale(0.1)" font-size="44" text-anchor="middle" fill="#262626" fill-opacity="0.88">0.23</text>
<text transform="translate(21.96 456.40) scale(0.1)" font-size="44" text-anchor="middle" fill="#ffffff" fill-opacity="0.88">0.97</text>
<text transform="translate(40.49 456.40) scale(0.1)" font-size="44" text-anchor="middle" fill="#ffffff" fill-opacity="0.88">0.81</text>
<text transform="translate(59.02 456.40) scale(0.1)" font-size="44" text-anchor="middle" fill="#ffffff" fill-opacity="0.88">0.85</text>
<text transform="translate(77.55 456.40) scale(0.1)" font-size="44" text-anchor="middle" fill="#262626" fill-opacity="0.88">0.25</text>
<text transform="translate(96.07 456.40) scale(0.1)" font-size="44" text-anchor="middle" fill="#262626" fill-opacity="0.88">0.64</text>
<text transform="translate(114.60 456.40) scale(0.1)" font-size="44" text-anchor="middle" fill="#262626" fill-opacity="0.88">0.23</text>
<text transform="translate(133.13 456.40) scale(0.1)" font-size="44" text-anchor="middle" fill="#ffffff" fill-opacity="0.88">1</text>
<text transform="translate(151.65 456.40) scale(0.1)" font-size="44" text-anchor="middle" fill="#ffffff" fill-opacity="0.88">0.9</text>
<text transform="translate(170.18 456.40) scale(0.1)" font-size="44" text-anchor="middle" fill="#ffffff" fill-opacity="0.88">0.98</text>
<text transform="translate(188.71 456.40) scale(0.1)" font-size="44" text-anchor="middle" fill="#ffffff" fill-opacity="0.88">0.98</text>
<text transform="translate(207.24 456.40) scale(0.1)" font-size="44" text-anchor="middle" fill="#ffffff" fill-opacity="0.88">0.89</text>
<text transform="translate(21.96 474.44) scale(0.1)" font-size="44" text-anchor="middle" fill="#ffffff" fill-opacity="0.88">0.96</text>
<text transform="translate(40.49 474.44) scale(0.1)" font-size="44" text-anchor="middle" fill="#ffffff" fill-opacity="0.88">0.83</text>
<text transform="translate(59.02 474.44) scale(0.1)" font-size="44" text-anchor="middle" fill="#262626" fill-opacity="0.88">0.69</text>
<text transform="translate(77.55 474.44) scale(0.1)" font-size="44" text-anchor="middle" fill="#262626" fill-opacity="0.88">0.21</text>
<text transform="translate(96.07 474.44) scale(0.1)" font-size="44" text-anchor="middle" fill="#262626" fill-opacity="0.88">0.69</text>
<text transform="translate(114.60 474.44) scale(0.1)" font-size="44" text-anchor="middle" fill="#262626" fill-opacity="0.88">0.33</text>
<text transform="translate(133.13 474.44) scale(0.1)" font-size="44" text-anchor="middle" fill="#ffffff" fill-opacity="0.88">0.9</text>
<text transform="translate(151.65 474.44) scale(0.1)" font-size="44" text-anchor="middle" fill="#ffffff" fill-opacity="0.88">1</text>
<text transform="translate(170.18 474.44) scale(0.1)" font-size="44" text-anchor="middle" fill="#ffffff" fill-opacity="0.88">0.97</text>
<text transform="translate(188.71 474.44) scale(0.1)" font-size="44" text-anchor="middle" fill="#ffffff" fill-opacity="0.88">0.97</text>
<text transform="translate(207.24 474.44) scale(0.1)" font-size="44" text-anchor="middle" fill="#ffffff" fill-opacity="0.88">0.83</text>
<text transform="translate(21.96 492.49) scale(0.1)" font-size="44" text-anchor="middle" fill="#ffffff" fill-opacity="0.88">0.99</text>
<text transform="translate(40.49 492.49) scale(0.1)" font-size="44" text-anchor="middle" fill="#ffffff" fill-opacity="0.88">0.84</text>
<text transform="translate(59.02 492.49) scale(0.1)" font-size="44" text-anchor="middle" fill="#ffffff" fill-opacity="0.88">0.79</text>
<text transform="translate(77.55 492.49) scale(0.1)" font-size="44" text-anchor="middle" fill="#262626" fill-opacity="0.88">0.23</text>
<text transform="translate(96.07 492.49) scale(0.1)" font-size="44" text-anchor="middle" fill="#262626" fill-opacity="0.88">0.68</text>
<text transform="translate(114.60 492.49) scale(0.1)" font-size="44" text-anchor="middle" fill="#262626" fill-opacity="0.88">0.29</text>
<text transform="translate(133.13 492.49) scale(0.1)" font-size="44" text-anchor="middle" fill="#ffffff" fill-opacity="0.88">0.98</text>
<text transform="translate(151.65 492.49) scale(0.1)" font-size="44" text-anchor="middle" fill="#ffffff" fill-opacity="0.88">0.97</text>
<text transform="translate(170.18 492.49) scale(0.1)" font-size="44" text-anchor="middle" fill="#ffffff" fill-opacity="0.88">1</text>
<text transform="translate(188.71 492.49) scale(0.1)" font-size="44" text-anchor="middle" fill="#ffffff" fill-opacity="0.88">1</text>
<text transform="translate(207.24 492.49) scale(0.1)" font-size="44" text-anchor="middle" fill="#ffffff" fill-opacity="0.88">0.89</text>
<text transform="translate(21.96 510.53) scale(0.1)" font-size="44" text-anchor="middle" fill="#ffffff" fill-opacity="0.88">0.99</text>
<text transform="translate(40.49 510.53) scale(0.1)" font-size="44" text-anchor="middle" fill="#ffffff" fill-opacity="0.88">0.84</text>
<text transform="translate(59.02 510.53) scale(0.1)" font-size="44" text-anchor="middle" fill="#ffffff" fill-opacity="0.88">0.79</text>
<text transform="translate(77.55 510.53) scale(0.1)" font-size="44" text-anchor="middle" fill="#262626" fill-opacity="0.88">0.23</text>
<text transform="translate(96.07 510.53) scale(0.1)" font-size="44" text-anchor="middle" fill="#262626" fill-opacity="0.88">0.68</text>
<text transform="translate(114.60 510.53) scale(0.1)" font-size="44" text-anchor="middle" fill="#262626" fill-opacity="0.88">0.29</text>
<text transform="translate(133.13 510.53) scale(0.1)" font-size="44" text-anchor="middle" fill="#ffffff" fill-opacity="0.88">0.98</text>
<text transform="translate(151.65 510.53) scale(0.1)" font-size="44" text-anchor="middle" fill="#ffffff" fill-opacity="0.88">0.97</text>
<text transform="translate(170.18 510.53) scale(0.1)" font-size="44" text-anchor="middle" fill="#ffffff" fill-opacity="0.88">1</text>
<text transform="translate(188.71 510.53) scale(0.1)" font-size="44" text-anchor="middle" fill="#ffffff" fill-opacity="0.88">1</text>
<text transform="translate(207.24 510.53) scale(0.1)" font-size="44" text-anchor="middle" fill="#ffffff" fill-opacity="0.88">0.89</text>
<text transform="translate(21.96 528.58) scale(0.1)" font-size="44" text-anchor="middle" fill="#ffffff" fill-opacity="0.88">0.86</text>
<text transform="translate(40.49 528.58) scale(0.1)" font-size="44" text-anchor="middle" fill="#ffffff" fill-opacity="0.88">0.95</text>
<text transform="translate(59.02 528.58) scale(0.1)" font-size="44" text-anchor="middle" fill="#ffffff" fill-opacity="0.88">0.89</text>
<text transform="translate(77.55 528.58) scale(0.1)" font-size="44" text-anchor="middle" fill="#262626" fill-opacity="0.88">0.16</text>
<text transform="translate(96.07 528.58) scale(0.1)" font-size="44" text-anchor="middle" fill="#262626" fill-opacity="0.88">0.72</text>
<text transform="translate(114.60 528.58) scale(0.1)" font-size="44" text-anchor="middle" fill="#262626" fill-opacity="0.88">0.23</text>
<text transform="translate(133.13 528.58) scale(0.1)" font-size="44" text-anchor="middle" fill="#ffffff" fill-opacity="0.88">0.89</text>
<text transform="translate(151.65 528.58) scale(0.1)" font-size="44" text-anchor="middle" fill="#ffffff" fill-opacity="0.88">0.83</text>
<text transform="translate(170.18 528.58) scale(0.1)" font-size="44" text-anchor="middle" fill="#ffffff" fill-opacity="0.88">0.89</text>
<text transform="translate(188.71 528.58) scale(0.1)" font-size="44" text-anchor="middle" fill="#ffffff" fill-opacity="0.88">0.89</text>
<text transform="translate(207.24 528.58) scale(0.1)" font-size="44" text-anchor="middle" fill="#ffffff" fill-opacity="0.88">1</text>
<text x="21.96" y="543.30" font-size="4.8" text-anchor="middle" fill="#111">Na</text>
<text transform="translate(8.10 346.52) rotate(-90)" font-size="4.8" text-anchor="middle" fill="#111">Na</text>
<text x="40.49" y="543.30" font-size="4.8" text-anchor="middle" fill="#111">Ca</text>
<text transform="translate(8.10 364.57) rotate(-90)" font-size="4.8" text-anchor="middle" fill="#111">Ca</text>
<text x="59.02" y="543.30" font-size="4.8" text-anchor="middle" fill="#111">Mg</text>
<text transform="translate(8.10 382.61) rotate(-90)" font-size="4.8" text-anchor="middle" fill="#111">Mg</text>
<text x="77.55" y="543.30" font-size="4.8" text-anchor="middle" fill="#111">K</text>
<text transform="translate(8.10 400.66) rotate(-90)" font-size="4.8" text-anchor="middle" fill="#111">K</text>
<text x="96.07" y="543.30" font-size="4.8" text-anchor="middle" fill="#111">Co3</text>
<text transform="translate(8.10 418.70) rotate(-90)" font-size="4.8" text-anchor="middle" fill="#111">Co3</text>
<text x="114.60" y="543.30" font-size="4.8" text-anchor="middle" fill="#111">HCO3</text>
<text transform="translate(8.10 436.75) rotate(-90)" font-size="4.8" text-anchor="middle" fill="#111">HCO3</text>
<text x="133.13" y="543.30" font-size="4.8" text-anchor="middle" fill="#111">Cl</text>
<text transform="translate(8.10 454.80) rotate(-90)" font-size="4.8" text-anchor="middle" fill="#111">Cl</text>
<text x="151.65" y="543.30" font-size="4.8" text-anchor="middle" fill="#111">SO4</text>
<text transform="translate(8.10 472.84) rotate(-90)" font-size="4.8" text-anchor="middle" fill="#111">SO4</text>
<text x="170.18" y="543.30" font-size="4.8" text-anchor="middle" fill="#111">EC</text>
<text transform="translate(8.10 490.89) rotate(-90)" font-size="4.8" text-anchor="middle" fill="#111">EC</text>
<text x="188.71" y="543.30" font-size="4.8" text-anchor="middle" fill="#111">TDS</text>
<text transform="translate(8.10 508.93) rotate(-90)" font-size="4.8" text-anchor="middle" fill="#111">TDS</text>
<text x="207.24" y="543.30" font-size="4.8" text-anchor="middle" fill="#111">TH</text>
<text transform="translate(8.10 526.98) rotate(-90)" font-size="4.8" text-anchor="middle" fill="#111">TH</text>
<defs><linearGradient id="hbg" x1="0" y1="0" x2="0" y2="1"><stop offset="0.000" stop-color="#d30022"/><stop offset="0.031" stop-color="#de1e2a"/><stop offset="0.062" stop-color="#e93834"/><stop offset="0.094" stop-color="#f34d3e"/><stop offset="0.125" stop-color="#fc5e49"/><stop offset="0.156" stop-color="#ff6f54"/><stop offset="0.188" stop-color="#ff7e60"/><stop offset="0.219" stop-color="#ff8d6c"/><stop offset="0.250" stop-color="#ff9a79"/><stop offset="0.281" stop-color="#ffa686"/><stop offset="0.312" stop-color="#ffb293"/><stop offset="0.344" stop-color="#ffbc9f"/><stop offset="0.375" stop-color="#ffc5ac"/><stop offset="0.406" stop-color="#fecdb9"/><stop offset="0.438" stop-color="#f6d4c5"/><stop offset="0.469" stop-color="#ebd9d1"/><stop offset="0.500" stop-color="#dedddd"/><stop offset="0.531" stop-color="#d4dce6"/><stop offset="0.562" stop-color="#c8daee"/><stop offset="0.594" stop-color="#bcd6f5"/><stop offset="0.625" stop-color="#b0d1fb"/><stop offset="0.656" stop-color="#a3cbfe"/><stop offset="0.688" stop-color="#96c3ff"/><stop offset="0.719" stop-color="#8abbff"/><stop offset="0.750" stop-color="#7db1ff"/><stop offset="0.781" stop-color="#71a7fe"/><stop offset="0.812" stop-color="#659cfa"/><stop offset="0.844" stop-color="#5a90f5"/><stop offset="0.875" stop-color="#5083ee"/><stop offset="0.906" stop-color="#4676e6"/><stop offset="0.938" stop-color="#3d68dc"/><stop offset="0.969" stop-color="#355ad1"/><stop offset="1.000" stop-color="#2e4bc5"/></linearGradient></defs>
<rect x="229.50" y="337.50" width="9.60" height="198.50" fill="url(#hbg)"/>
<text x="242.30" y="339.20" font-size="4.8" fill="#222">1.0</text>
<text x="242.30" y="373.72" font-size="4.8" fill="#222">0.8</text>
<text x="242.30" y="408.24" font-size="4.8" fill="#222">0.6</text>
<text x="242.30" y="442.77" font-size="4.8" fill="#222">0.4</text>
<text x="242.30" y="477.29" font-size="4.8" fill="#222">0.2</text>
<text x="242.30" y="511.81" font-size="4.8" fill="#222">0.0</text>
<path d="M21.96 536.00v1.7M12.70 346.52h-1.7M40.49 536.00v1.7M12.70 364.57h-1.7M59.02 536.00v1.7M12.70 382.61h-1.7M77.55 536.00v1.7M12.70 400.66h-1.7M96.07 536.00v1.7M12.70 418.70h-1.7M114.60 536.00v1.7M12.70 436.75h-1.7M133.13 536.00v1.7M12.70 454.80h-1.7M151.65 536.00v1.7M12.70 472.84h-1.7M170.18 536.00v1.7M12.70 490.89h-1.7M188.71 536.00v1.7M12.70 508.93h-1.7M207.24 536.00v1.7M12.70 526.98h-1.7M239.10 337.50h1.7M239.10 372.02h1.7M239.10 406.54h1.7M239.10 441.07h1.7M239.10 475.59h1.7M239.10 510.11h1.7" stroke="#333" stroke-width="0.4" fill="none"/>
</g>
<g id="hc" font-family="'DejaVu Sans','Liberation Sans',sans-serif">
<rect x="267.45" y="336.50" width="204.05" height="198.40" fill="#fff"/>
<rect x="267.69" y="336.74" width="18.07" height="17.56" fill="#ffe800"/>
<rect x="286.24" y="336.74" width="18.07" height="17.56" fill="#00d04b"/>
<rect x="304.79" y="336.74" width="18.07" height="17.56" fill="#00b579"/>
<rect x="323.34" y="336.74" width="18.07" height="17.56" fill="#35498d"/>
<rect x="341.89" y="336.74" width="18.07" height="17.56" fill="#00ae80"/>
<rect x="360.44" y="336.74" width="18.07" height="17.56" fill="#38478c"/>
<rect x="378.99" y="336.74" width="18.07" height="17.56" fill="#e2e400"/>
<rect x="397.54" y="336.74" width="18.07" height="17.56" fill="#00cf4f"/>
<rect x="416.09" y="336.74" width="18.07" height="17.56" fill="#ece500"/>
<rect x="434.64" y="336.74" width="18.07" height="17.56" fill="#ece500"/>
<rect x="453.19" y="336.74" width="18.07" height="17.56" fill="#00cd54"/>
<rect x="267.69" y="354.78" width="18.07" height="17.56" fill="#00d04b"/>
<rect x="286.24" y="354.78" width="18.07" height="17.56" fill="#ffe800"/>
<rect x="304.79" y="354.78" width="18.07" height="17.56" fill="#00c368"/>
<rect x="323.34" y="354.78" width="18.07" height="17.56" fill="#4d2a7f"/>
<rect x="341.89" y="354.78" width="18.07" height="17.56" fill="#00c465"/>
<rect x="360.44" y="354.78" width="18.07" height="17.56" fill="#2d4f8e"/>
<rect x="378.99" y="354.78" width="18.07" height="17.56" fill="#00d147"/>
<rect x="397.54" y="354.78" width="18.07" height="17.56" fill="#6ed926"/>
<rect x="416.09" y="354.78" width="18.07" height="17.56" fill="#97dd00"/>
<rect x="434.64" y="354.78" width="18.07" height="17.56" fill="#97dd00"/>
<rect x="453.19" y="354.78" width="18.07" height="17.56" fill="#cde200"/>
<rect x="267.69" y="372.81" width="18.07" height="17.56" fill="#00b579"/>
<rect x="286.24" y="372.81" width="18.07" height="17.56" fill="#00c368"/>
<rect x="304.79" y="372.81" width="18.07" height="17.56" fill="#ffe800"/>
<rect x="323.34" y="372.81" width="18.07" height="17.56" fill="#008c8f"/>
<rect x="341.89" y="372.81" width="18.07" height="17.56" fill="#008e8e"/>
<rect x="360.44" y="372.81" width="18.07" height="17.56" fill="#008090"/>
<rect x="378.99" y="372.81" width="18.07" height="17.56" fill="#00bd70"/>
<rect x="397.54" y="372.81" width="18.07" height="17.56" fill="#00a686"/>
<rect x="416.09" y="372.81" width="18.07" height="17.56" fill="#00c85e"/>
<rect x="434.64" y="372.81" width="18.07" height="17.56" fill="#00c85e"/>
<rect x="453.19" y="372.81" width="18.07" height="17.56" fill="#abdf00"/>
<rect x="267.69" y="390.85" width="18.07" height="17.56" fill="#35498d"/>
<rect x="286.24" y="390.85" width="18.07" height="17.56" fill="#4d2a7f"/>
<rect x="304.79" y="390.85" width="18.07" height="17.56" fill="#008c8f"/>
<rect x="323.34" y="390.85" width="18.07" height="17.56" fill="#ffe800"/>
<rect x="341.89" y="390.85" width="18.07" height="17.56" fill="#4e0055"/>
<rect x="360.44" y="390.85" width="18.07" height="17.56" fill="#006590"/>
<rect x="378.99" y="390.85" width="18.07" height="17.56" fill="#25548f"/>
<rect x="397.54" y="390.85" width="18.07" height="17.56" fill="#2d4f8e"/>
<rect x="416.09" y="390.85" width="18.07" height="17.56" fill="#006590"/>
<rect x="434.64" y="390.85" width="18.07" height="17.56" fill="#006590"/>
<rect x="453.19" y="390.85" width="18.07" height="17.56" fill="#006991"/>
<rect x="267.69" y="408.89" width="18.07" height="17.56" fill="#00ae80"/>
<rect x="286.24" y="408.89" width="18.07" height="17.56" fill="#00c465"/>
<rect x="304.79" y="408.89" width="18.07" height="17.56" fill="#008e8e"/>
<rect x="323.34" y="408.89" width="18.07" height="17.56" fill="#4e0055"/>
<rect x="341.89" y="408.89" width="18.07" height="17.56" fill="#ffe800"/>
<rect x="360.44" y="408.89" width="18.07" height="17.56" fill="#51025f"/>
<rect x="378.99" y="408.89" width="18.07" height="17.56" fill="#00b37b"/>
<rect x="397.54" y="408.89" width="18.07" height="17.56" fill="#00c06d"/>
<rect x="416.09" y="408.89" width="18.07" height="17.56" fill="#00b37b"/>
<rect x="434.64" y="408.89" width="18.07" height="17.56" fill="#00b37b"/>
<rect x="453.19" y="408.89" width="18.07" height="17.56" fill="#00b07e"/>
<rect x="267.69" y="426.92" width="18.07" height="17.56" fill="#38478c"/>
<rect x="286.24" y="426.92" width="18.07" height="17.56" fill="#2d4f8e"/>
<rect x="304.79" y="426.92" width="18.07" height="17.56" fill="#008090"/>
<rect x="323.34" y="426.92" width="18.07" height="17.56" fill="#006590"/>
<rect x="341.89" y="426.92" width="18.07" height="17.56" fill="#51025f"/>
<rect x="360.44" y="426.92" width="18.07" height="17.56" fill="#ffe800"/>
<rect x="378.99" y="426.92" width="18.07" height="17.56" fill="#493284"/>
<rect x="397.54" y="426.92" width="18.07" height="17.56" fill="#25548f"/>
<rect x="416.09" y="426.92" width="18.07" height="17.56" fill="#3c438b"/>
<rect x="434.64" y="426.92" width="18.07" height="17.56" fill="#3c438b"/>
<rect x="453.19" y="426.92" width="18.07" height="17.56" fill="#006991"/>
<rect x="267.69" y="444.96" width="18.07" height="17.56" fill="#e2e400"/>
<rect x="286.24" y="444.96" width="18.07" height="17.56" fill="#00d147"/>
<rect x="304.79" y="444.96" width="18.07" height="17.56" fill="#00bd70"/>
<rect x="323.34" y="444.96" width="18.07" height="17.56" fill="#25548f"/>
<rect x="341.89" y="444.96" width="18.07" height="17.56" fill="#00b37b"/>
<rect x="360.44" y="444.96" width="18.07" height="17.56" fill="#493284"/>
<rect x="378.99" y="444.96" width="18.07" height="17.56" fill="#ffe800"/>
<rect x="397.54" y="444.96" width="18.07" height="17.56" fill="#00bd70"/>
<rect x="416.09" y="444.96" width="18.07" height="17.56" fill="#d4e300"/>
<rect x="434.64" y="444.96" width="18.07" height="17.56" fill="#d4e300"/>
<rect x="453.19" y="444.96" width="18.07" height="17.56" fill="#00d04b"/>
<rect x="267.69" y="462.99" width="18.07" height="17.56" fill="#00cf4f"/>
<rect x="286.24" y="462.99" width="18.07" height="17.56" fill="#6ed926"/>
<rect x="304.79" y="462.99" width="18.07" height="17.56" fill="#00a686"/>
<rect x="323.34" y="462.99" width="18.07" height="17.56" fill="#2d4f8e"/>
<rect x="341.89" y="462.99" width="18.07" height="17.56" fill="#00c06d"/>
<rect x="360.44" y="462.99" width="18.07" height="17.56" fill="#25548f"/>
<rect x="378.99" y="462.99" width="18.07" height="17.56" fill="#00bd70"/>
<rect x="397.54" y="462.99" width="18.07" height="17.56" fill="#ffe800"/>
<rect x="416.09" y="462.99" width="18.07" height="17.56" fill="#7cda1b"/>
<rect x="434.64" y="462.99" width="18.07" height="17.56" fill="#7cda1b"/>
<rect x="453.19" y="462.99" width="18.07" height="17.56" fill="#00d04b"/>
<rect x="267.69" y="481.03" width="18.07" height="17.56" fill="#ece500"/>
<rect x="286.24" y="481.03" width="18.07" height="17.56" fill="#97dd00"/>
<rect x="304.79" y="481.03" width="18.07" height="17.56" fill="#00c85e"/>
<rect x="323.34" y="481.03" width="18.07" height="17.56" fill="#006590"/>
<rect x="341.89" y="481.03" width="18.07" height="17.56" fill="#00b37b"/>
<rect x="360.44" y="481.03" width="18.07" height="17.56" fill="#3c438b"/>
<rect x="378.99" y="481.03" width="18.07" height="17.56" fill="#d4e300"/>
<rect x="397.54" y="481.03" width="18.07" height="17.56" fill="#7cda1b"/>
<rect x="416.09" y="481.03" width="18.07" height="17.56" fill="#ffe800"/>
<rect x="434.64" y="481.03" width="18.07" height="17.56" fill="#ffe800"/>
<rect x="453.19" y="481.03" width="18.07" height="17.56" fill="#97dd00"/>
<rect x="267.69" y="499.07" width="18.07" height="17.56" fill="#ece500"/>
<rect x="286.24" y="499.07" width="18.07" height="17.56" fill="#97dd00"/>
<rect x="304.79" y="499.07" width="18.07" height="17.56" fill="#00c85e"/>
<rect x="323.34" y="499.07" width="18.07" height="17.56" fill="#006590"/>
<rect x="341.89" y="499.07" width="18.07" height="17.56" fill="#00b37b"/>
<rect x="360.44" y="499.07" width="18.07" height="17.56" fill="#3c438b"/>
<rect x="378.99" y="499.07" width="18.07" height="17.56" fill="#d4e300"/>
<rect x="397.54" y="499.07" width="18.07" height="17.56" fill="#7cda1b"/>
<rect x="416.09" y="499.07" width="18.07" height="17.56" fill="#ffe800"/>
<rect x="434.64" y="499.07" width="18.07" height="17.56" fill="#ffe800"/>
<rect x="453.19" y="499.07" width="18.07" height="17.56" fill="#97dd00"/>
<rect x="267.69" y="517.10" width="18.07" height="17.56" fill="#00cd54"/>
<rect x="286.24" y="517.10" width="18.07" height="17.56" fill="#cde200"/>
<rect x="304.79" y="517.10" width="18.07" height="17.56" fill="#abdf00"/>
<rect x="323.34" y="517.10" width="18.07" height="17.56" fill="#006991"/>
<rect x="341.89" y="517.10" width="18.07" height="17.56" fill="#00b07e"/>
<rect x="360.44" y="517.10" width="18.07" height="17.56" fill="#006991"/>
<rect x="378.99" y="517.10" width="18.07" height="17.56" fill="#00d04b"/>
<rect x="397.54" y="517.10" width="18.07" height="17.56" fill="#00d04b"/>
<rect x="416.09" y="517.10" width="18.07" height="17.56" fill="#97dd00"/>
<rect x="434.64" y="517.10" width="18.07" height="17.56" fill="#97dd00"/>
<rect x="453.19" y="517.10" width="18.07" height="17.56" fill="#ffe800"/>
<text transform="translate(276.72 347.12) scale(0.1)" font-size="44" text-anchor="middle" fill="#262626" fill-opacity="0.88">1</text>
<text transform="translate(295.27 347.12) scale(0.1)" font-size="44" text-anchor="middle" fill="#262626" fill-opacity="0.88">0.75</text>
<text transform="translate(313.82 347.12) scale(0.1)" font-size="44" text-anchor="middle" fill="#ffffff" fill-opacity="0.88">0.6</text>
<text transform="translate(332.38 347.12) scale(0.1)" font-size="44" text-anchor="middle" fill="#ffffff" fill-opacity="0.88">0.11</text>
<text transform="translate(350.93 347.12) scale(0.1)" font-size="44" text-anchor="middle" fill="#ffffff" fill-opacity="0.88">0.56</text>
<text transform="translate(369.48 347.12) scale(0.1)" font-size="44" text-anchor="middle" fill="#ffffff" fill-opacity="0.88">0.099</text>
<text transform="translate(388.02 347.12) scale(0.1)" font-size="44" text-anchor="middle" fill="#262626" fill-opacity="0.88">0.95</text>
<text transform="translate(406.57 347.12) scale(0.1)" font-size="44" text-anchor="middle" fill="#262626" fill-opacity="0.88">0.74</text>
<text transform="translate(425.12 347.12) scale(0.1)" font-size="44" text-anchor="middle" fill="#262626" fill-opacity="0.88">0.96</text>
<text transform="translate(443.67 347.12) scale(0.1)" font-size="44" text-anchor="middle" fill="#262626" fill-opacity="0.88">0.96</text>
<text transform="translate(462.23 347.12) scale(0.1)" font-size="44" text-anchor="middle" fill="#262626" fill-opacity="0.88">0.73</text>
<text transform="translate(276.72 365.15) scale(0.1)" font-size="44" text-anchor="middle" fill="#262626" fill-opacity="0.88">0.75</text>
<text transform="translate(295.27 365.15) scale(0.1)" font-size="44" text-anchor="middle" fill="#262626" fill-opacity="0.88">1</text>
<text transform="translate(313.82 365.15) scale(0.1)" font-size="44" text-anchor="middle" fill="#262626" fill-opacity="0.88">0.67</text>
<text transform="translate(332.38 365.15) scale(0.1)" font-size="44" text-anchor="middle" fill="#ffffff" fill-opacity="0.88">-0.00095</text>
<text transform="translate(350.93 365.15) scale(0.1)" font-size="44" text-anchor="middle" fill="#262626" fill-opacity="0.88">0.68</text>
<text transform="translate(369.48 365.15) scale(0.1)" font-size="44" text-anchor="middle" fill="#ffffff" fill-opacity="0.88">0.13</text>
<text transform="translate(388.02 365.15) scale(0.1)" font-size="44" text-anchor="middle" fill="#262626" fill-opacity="0.88">0.76</text>
<text transform="translate(406.57 365.15) scale(0.1)" font-size="44" text-anchor="middle" fill="#262626" fill-opacity="0.88">0.82</text>
<text transform="translate(425.12 365.15) scale(0.1)" font-size="44" text-anchor="middle" fill="#262626" fill-opacity="0.88">0.86</text>
<text transform="translate(443.67 365.15) scale(0.1)" font-size="44" text-anchor="middle" fill="#262626" fill-opacity="0.88">0.86</text>
<text transform="translate(462.23 365.15) scale(0.1)" font-size="44" text-anchor="middle" fill="#262626" fill-opacity="0.88">0.92</text>
<text transform="translate(276.72 383.19) scale(0.1)" font-size="44" text-anchor="middle" fill="#ffffff" fill-opacity="0.88">0.6</text>
<text transform="translate(295.27 383.19) scale(0.1)" font-size="44" text-anchor="middle" fill="#262626" fill-opacity="0.88">0.67</text>
<text transform="translate(313.82 383.19) scale(0.1)" font-size="44" text-anchor="middle" fill="#262626" fill-opacity="0.88">1</text>
<text transform="translate(332.38 383.19) scale(0.1)" font-size="44" text-anchor="middle" fill="#ffffff" fill-opacity="0.88">0.4</text>
<text transform="translate(350.93 383.19) scale(0.1)" font-size="44" text-anchor="middle" fill="#ffffff" fill-opacity="0.88">0.41</text>
<text transform="translate(369.48 383.19) scale(0.1)" font-size="44" text-anchor="middle" fill="#ffffff" fill-opacity="0.88">0.34</text>
<text transform="translate(388.02 383.19) scale(0.1)" font-size="44" text-anchor="middle" fill="#ffffff" fill-opacity="0.88">0.64</text>
<text transform="translate(406.57 383.19) scale(0.1)" font-size="44" text-anchor="middle" fill="#ffffff" fill-opacity="0.88">0.52</text>
<text transform="translate(425.12 383.19) scale(0.1)" font-size="44" text-anchor="middle" fill="#262626" fill-opacity="0.88">0.7</text>
<text transform="translate(443.67 383.19) scale(0.1)" font-size="44" text-anchor="middle" fill="#262626" fill-opacity="0.88">0.7</text>
<text transform="translate(462.23 383.19) scale(0.1)" font-size="44" text-anchor="middle" fill="#262626" fill-opacity="0.88">0.88</text>
<text transform="translate(276.72 401.23) scale(0.1)" font-size="44" text-anchor="middle" fill="#ffffff" fill-opacity="0.88">0.11</text>
<text transform="translate(295.27 401.23) scale(0.1)" font-size="44" text-anchor="middle" fill="#ffffff" fill-opacity="0.88">-0.00095</text>
<text transform="translate(313.82 401.23) scale(0.1)" font-size="44" text-anchor="middle" fill="#ffffff" fill-opacity="0.88">0.4</text>
<text transform="translate(332.38 401.23) scale(0.1)" font-size="44" text-anchor="middle" fill="#262626" fill-opacity="0.88">1</text>
<text transform="translate(350.93 401.23) scale(0.1)" font-size="44" text-anchor="middle" fill="#ffffff" fill-opacity="0.88">-0.15</text>
<text transform="translate(369.48 401.23) scale(0.1)" font-size="44" text-anchor="middle" fill="#ffffff" fill-opacity="0.88">0.22</text>
<text transform="translate(388.02 401.23) scale(0.1)" font-size="44" text-anchor="middle" fill="#ffffff" fill-opacity="0.88">0.15</text>
<text transform="translate(406.57 401.23) scale(0.1)" font-size="44" text-anchor="middle" fill="#ffffff" fill-opacity="0.88">0.13</text>
<text transform="translate(425.12 401.23) scale(0.1)" font-size="44" text-anchor="middle" fill="#ffffff" fill-opacity="0.88">0.22</text>
<text transform="translate(443.67 401.23) scale(0.1)" font-size="44" text-anchor="middle" fill="#ffffff" fill-opacity="0.88">0.22</text>
<text transform="translate(462.23 401.23) scale(0.1)" font-size="44" text-anchor="middle" fill="#ffffff" fill-opacity="0.88">0.24</text>
<text transform="translate(276.72 419.26) scale(0.1)" font-size="44" text-anchor="middle" fill="#ffffff" fill-opacity="0.88">0.56</text>
<text transform="translate(295.27 419.26) scale(0.1)" font-size="44" text-anchor="middle" fill="#262626" fill-opacity="0.88">0.68</text>
<text transform="translate(313.82 419.26) scale(0.1)" font-size="44" text-anchor="middle" fill="#ffffff" fill-opacity="0.88">0.41</text>
<text transform="translate(332.38 419.26) scale(0.1)" font-size="44" text-anchor="middle" fill="#ffffff" fill-opacity="0.88">-0.15</text>
<text transform="translate(350.93 419.26) scale(0.1)" font-size="44" text-anchor="middle" fill="#262626" fill-opacity="0.88">1</text>
<text transform="translate(369.48 419.26) scale(0.1)" font-size="44" text-anchor="middle" fill="#ffffff" fill-opacity="0.88">-0.12</text>
<text transform="translate(388.02 419.26) scale(0.1)" font-size="44" text-anchor="middle" fill="#ffffff" fill-opacity="0.88">0.59</text>
<text transform="translate(406.57 419.26) scale(0.1)" font-size="44" text-anchor="middle" fill="#ffffff" fill-opacity="0.88">0.65</text>
<text transform="translate(425.12 419.26) scale(0.1)" font-size="44" text-anchor="middle" fill="#ffffff" fill-opacity="0.88">0.59</text>
<text transform="translate(443.67 419.26) scale(0.1)" font-size="44" text-anchor="middle" fill="#ffffff" fill-opacity="0.88">0.59</text>
<text transform="translate(462.23 419.26) scale(0.1)" font-size="44" text-anchor="middle" fill="#ffffff" fill-opacity="0.88">0.57</text>
<text transform="translate(276.72 437.30) scale(0.1)" font-size="44" text-anchor="middle" fill="#ffffff" fill-opacity="0.88">0.099</text>
<text transform="translate(295.27 437.30) scale(0.1)" font-size="44" text-anchor="middle" fill="#ffffff" fill-opacity="0.88">0.13</text>
<text transform="translate(313.82 437.30) scale(0.1)" font-size="44" text-anchor="middle" fill="#ffffff" fill-opacity="0.88">0.34</text>
<text transform="translate(332.38 437.30) scale(0.1)" font-size="44" text-anchor="middle" fill="#ffffff" fill-opacity="0.88">0.22</text>
<text transform="translate(350.93 437.30) scale(0.1)" font-size="44" text-anchor="middle" fill="#ffffff" fill-opacity="0.88">-0.12</text>
<text transform="translate(369.48 437.30) scale(0.1)" font-size="44" text-anchor="middle" fill="#262626" fill-opacity="0.88">1</text>
<text transform="translate(388.02 437.30) scale(0.1)" font-size="44" text-anchor="middle" fill="#ffffff" fill-opacity="0.88">0.027</text>
<text transform="translate(406.57 437.30) scale(0.1)" font-size="44" text-anchor="middle" fill="#ffffff" fill-opacity="0.88">0.15</text>
<text transform="translate(425.12 437.30) scale(0.1)" font-size="44" text-anchor="middle" fill="#ffffff" fill-opacity="0.88">0.085</text>
<text transform="translate(443.67 437.30) scale(0.1)" font-size="44" text-anchor="middle" fill="#ffffff" fill-opacity="0.88">0.086</text>
<text transform="translate(462.23 437.30) scale(0.1)" font-size="44" text-anchor="middle" fill="#ffffff" fill-opacity="0.88">0.24</text>
<text transform="translate(276.72 455.34) scale(0.1)" font-size="44" text-anchor="middle" fill="#262626" fill-opacity="0.88">0.95</text>
<text transform="translate(295.27 455.34) scale(0.1)" font-size="44" text-anchor="middle" fill="#262626" fill-opacity="0.88">0.76</text>
<text transform="translate(313.82 455.34) scale(0.1)" font-size="44" text-anchor="middle" fill="#ffffff" fill-opacity="0.88">0.64</text>
<text transform="translate(332.38 455.34) scale(0.1)" font-size="44" text-anchor="middle" fill="#ffffff" fill-opacity="0.88">0.15</text>
<text transform="translate(350.93 455.34) scale(0.1)" font-size="44" text-anchor="middle" fill="#ffffff" fill-opacity="0.88">0.59</text>
<text transform="translate(369.48 455.34) scale(0.1)" font-size="44" text-anchor="middle" fill="#ffffff" fill-opacity="0.88">0.027</text>
<text transform="translate(388.02 455.34) scale(0.1)" font-size="44" text-anchor="middle" fill="#262626" fill-opacity="0.88">1</text>
<text transform="translate(406.57 455.34) scale(0.1)" font-size="44" text-anchor="middle" fill="#ffffff" fill-opacity="0.88">0.64</text>
<text transform="translate(425.12 455.34) scale(0.1)" font-size="44" text-anchor="middle" fill="#262626" fill-opacity="0.88">0.93</text>
<text transform="translate(443.67 455.34) scale(0.1)" font-size="44" text-anchor="middle" fill="#262626" fill-opacity="0.88">0.93</text>
<text transform="translate(462.23 455.34) scale(0.1)" font-size="44" text-anchor="middle" fill="#262626" fill-opacity="0.88">0.75</text>
<text transform="translate(276.72 473.37) scale(0.1)" font-size="44" text-anchor="middle" fill="#262626" fill-opacity="0.88">0.74</text>
<text transform="translate(295.27 473.37) scale(0.1)" font-size="44" text-anchor="middle" fill="#262626" fill-opacity="0.88">0.82</text>
<text transform="translate(313.82 473.37) scale(0.1)" font-size="44" text-anchor="middle" fill="#ffffff" fill-opacity="0.88">0.52</text>
<text transform="translate(332.38 473.37) scale(0.1)" font-size="44" text-anchor="middle" fill="#ffffff" fill-opacity="0.88">0.13</text>
<text transform="translate(350.93 473.37) scale(0.1)" font-size="44" text-anchor="middle" fill="#ffffff" fill-opacity="0.88">0.65</text>
<text transform="translate(369.48 473.37) scale(0.1)" font-size="44" text-anchor="middle" fill="#ffffff" fill-opacity="0.88">0.15</text>
<text transform="translate(388.02 473.37) scale(0.1)" font-size="44" text-anchor="middle" fill="#ffffff" fill-opacity="0.88">0.64</text>
<text transform="translate(406.57 473.37) scale(0.1)" font-size="44" text-anchor="middle" fill="#262626" fill-opacity="0.88">1</text>
<text transform="translate(425.12 473.37) scale(0.1)" font-size="44" text-anchor="middle" fill="#262626" fill-opacity="0.88">0.83</text>
<text transform="translate(443.67 473.37) scale(0.1)" font-size="44" text-anchor="middle" fill="#262626" fill-opacity="0.88">0.83</text>
<text transform="translate(462.23 473.37) scale(0.1)" font-size="44" text-anchor="middle" fill="#262626" fill-opacity="0.88">0.75</text>
<text transform="translate(276.72 491.41) scale(0.1)" font-size="44" text-anchor="middle" fill="#262626" fill-opacity="0.88">0.96</text>
<text transform="translate(295.27 491.41) scale(0.1)" font-size="44" text-anchor="middle" fill="#262626" fill-opacity="0.88">0.86</text>
<text transform="translate(313.82 491.41) scale(0.1)" font-size="44" text-anchor="middle" fill="#262626" fill-opacity="0.88">0.7</text>
<text transform="translate(332.38 491.41) scale(0.1)" font-size="44" text-anchor="middle" fill="#ffffff" fill-opacity="0.88">0.22</text>
<text transform="translate(350.93 491.41) scale(0.1)" font-size="44" text-anchor="middle" fill="#ffffff" fill-opacity="0.88">0.59</text>
<text transform="translate(369.48 491.41) scale(0.1)" font-size="44" text-anchor="middle" fill="#ffffff" fill-opacity="0.88">0.085</text>
<text transform="translate(388.02 491.41) scale(0.1)" font-size="44" text-anchor="middle" fill="#262626" fill-opacity="0.88">0.93</text>
<text transform="translate(406.57 491.41) scale(0.1)" font-size="44" text-anchor="middle" fill="#262626" fill-opacity="0.88">0.83</text>
<text transform="translate(425.12 491.41) scale(0.1)" font-size="44" text-anchor="middle" fill="#262626" fill-opacity="0.88">1</text>
<text transform="translate(443.67 491.41) scale(0.1)" font-size="44" text-anchor="middle" fill="#262626" fill-opacity="0.88">1</text>
<text transform="translate(462.23 491.41) scale(0.1)" font-size="44" text-anchor="middle" fill="#262626" fill-opacity="0.88">0.86</text>
<text transform="translate(276.72 509.45) scale(0.1)" font-size="44" text-anchor="middle" fill="#262626" fill-opacity="0.88">0.96</text>
<text transform="translate(295.27 509.45) scale(0.1)" font-size="44" text-anchor="middle" fill="#262626" fill-opacity="0.88">0.86</text>
<text transform="translate(313.82 509.45) scale(0.1)" font-size="44" text-anchor="middle" fill="#262626" fill-opacity="0.88">0.7</text>
<text transform="translate(332.38 509.45) scale(0.1)" font-size="44" text-anchor="middle" fill="#ffffff" fill-opacity="0.88">0.22</text>
<text transform="translate(350.93 509.45) scale(0.1)" font-size="44" text-anchor="middle" fill="#ffffff" fill-opacity="0.88">0.59</text>
<text transform="translate(369.48 509.45) scale(0.1)" font-size="44" text-anchor="middle" fill="#ffffff" fill-opacity="0.88">0.086</text>
<text transform="translate(388.02 509.45) scale(0.1)" font-size="44" text-anchor="middle" fill="#262626" fill-opacity="0.88">0.93</text>
<text transform="translate(406.57 509.45) scale(0.1)" font-size="44" text-anchor="middle" fill="#262626" fill-opacity="0.88">0.83</text>
<text transform="translate(425.12 509.45) scale(0.1)" font-size="44" text-anchor="middle" fill="#262626" fill-opacity="0.88">1</text>
<text transform="translate(443.67 509.45) scale(0.1)" font-size="44" text-anchor="middle" fill="#262626" fill-opacity="0.88">1</text>
<text transform="translate(462.23 509.45) scale(0.1)" font-size="44" text-anchor="middle" fill="#262626" fill-opacity="0.88">0.86</text>
<text transform="translate(276.72 527.48) scale(0.1)" font-size="44" text-anchor="middle" fill="#262626" fill-opacity="0.88">0.73</text>
<text transform="translate(295.27 527.48) scale(0.1)" font-size="44" text-anchor="middle" fill="#262626" fill-opacity="0.88">0.92</text>
<text transform="translate(313.82 527.48) scale(0.1)" font-size="44" text-anchor="middle" fill="#262626" fill-opacity="0.88">0.88</text>
<text transform="translate(332.38 527.48) scale(0.1)" font-size="44" text-anchor="middle" fill="#ffffff" fill-opacity="0.88">0.24</text>
<text transform="translate(350.93 527.48) scale(0.1)" font-size="44" text-anchor="middle" fill="#ffffff" fill-opacity="0.88">0.57</text>
<text transform="translate(369.48 527.48) scale(0.1)" font-size="44" text-anchor="middle" fill="#ffffff" fill-opacity="0.88">0.24</text>
<text transform="translate(388.02 527.48) scale(0.1)" font-size="44" text-anchor="middle" fill="#262626" fill-opacity="0.88">0.75</text>
<text transform="translate(406.57 527.48) scale(0.1)" font-size="44" text-anchor="middle" fill="#262626" fill-opacity="0.88">0.75</text>
<text transform="translate(425.12 527.48) scale(0.1)" font-size="44" text-anchor="middle" fill="#262626" fill-opacity="0.88">0.86</text>
<text transform="translate(443.67 527.48) scale(0.1)" font-size="44" text-anchor="middle" fill="#262626" fill-opacity="0.88">0.86</text>
<text transform="translate(462.23 527.48) scale(0.1)" font-size="44" text-anchor="middle" fill="#262626" fill-opacity="0.88">1</text>
<text x="276.72" y="542.20" font-size="4.8" text-anchor="middle" fill="#111">Na</text>
<text transform="translate(262.85 345.52) rotate(-90)" font-size="4.8" text-anchor="middle" fill="#111">Na</text>
<text x="295.27" y="542.20" font-size="4.8" text-anchor="middle" fill="#111">Ca</text>
<text transform="translate(262.85 363.55) rotate(-90)" font-size="4.8" text-anchor="middle" fill="#111">Ca</text>
<text x="313.82" y="542.20" font-size="4.8" text-anchor="middle" fill="#111">Mg</text>
<text transform="translate(262.85 381.59) rotate(-90)" font-size="4.8" text-anchor="middle" fill="#111">Mg</text>
<text x="332.38" y="542.20" font-size="4.8" text-anchor="middle" fill="#111">K</text>
<text transform="translate(262.85 399.63) rotate(-90)" font-size="4.8" text-anchor="middle" fill="#111">K</text>
<text x="350.93" y="542.20" font-size="4.8" text-anchor="middle" fill="#111">Co3</text>
<text transform="translate(262.85 417.66) rotate(-90)" font-size="4.8" text-anchor="middle" fill="#111">Co3</text>
<text x="369.48" y="542.20" font-size="4.8" text-anchor="middle" fill="#111">HCO3</text>
<text transform="translate(262.85 435.70) rotate(-90)" font-size="4.8" text-anchor="middle" fill="#111">HCO3</text>
<text x="388.02" y="542.20" font-size="4.8" text-anchor="middle" fill="#111">Cl</text>
<text transform="translate(262.85 453.74) rotate(-90)" font-size="4.8" text-anchor="middle" fill="#111">Cl</text>
<text x="406.57" y="542.20" font-size="4.8" text-anchor="middle" fill="#111">SO4</text>
<text transform="translate(262.85 471.77) rotate(-90)" font-size="4.8" text-anchor="middle" fill="#111">SO4</text>
<text x="425.12" y="542.20" font-size="4.8" text-anchor="middle" fill="#111">EC</text>
<text transform="translate(262.85 489.81) rotate(-90)" font-size="4.8" text-anchor="middle" fill="#111">EC</text>
<text x="443.67" y="542.20" font-size="4.8" text-anchor="middle" fill="#111">TDS</text>
<text transform="translate(262.85 507.85) rotate(-90)" font-size="4.8" text-anchor="middle" fill="#111">TDS</text>
<text x="462.23" y="542.20" font-size="4.8" text-anchor="middle" fill="#111">TH</text>
<text transform="translate(262.85 525.88) rotate(-90)" font-size="4.8" text-anchor="middle" fill="#111">TH</text>
<defs><linearGradient id="hcg" x1="0" y1="0" x2="0" y2="1"><stop offset="0.000" stop-color="#ffe800"/><stop offset="0.031" stop-color="#efe600"/><stop offset="0.062" stop-color="#d4e300"/><stop offset="0.094" stop-color="#b7e000"/><stop offset="0.125" stop-color="#97dd00"/><stop offset="0.156" stop-color="#73d923"/><stop offset="0.188" stop-color="#46d53a"/><stop offset="0.219" stop-color="#00d04b"/><stop offset="0.250" stop-color="#00ca59"/><stop offset="0.281" stop-color="#00c465"/><stop offset="0.312" stop-color="#00be6f"/><stop offset="0.344" stop-color="#00b778"/><stop offset="0.375" stop-color="#00b07e"/><stop offset="0.406" stop-color="#00a984"/><stop offset="0.438" stop-color="#00a188"/><stop offset="0.469" stop-color="#009a8b"/><stop offset="0.500" stop-color="#00928d"/><stop offset="0.531" stop-color="#008a8f"/><stop offset="0.562" stop-color="#008390"/><stop offset="0.594" stop-color="#007b90"/><stop offset="0.625" stop-color="#007391"/><stop offset="0.656" stop-color="#006b91"/><stop offset="0.688" stop-color="#006390"/><stop offset="0.719" stop-color="#125a90"/><stop offset="0.750" stop-color="#29518e"/><stop offset="0.781" stop-color="#37488c"/><stop offset="0.812" stop-color="#413e89"/><stop offset="0.844" stop-color="#483385"/><stop offset="0.875" stop-color="#4e297e"/><stop offset="0.906" stop-color="#511d76"/><stop offset="0.938" stop-color="#52116d"/><stop offset="0.969" stop-color="#510562"/><stop offset="1.000" stop-color="#4e0055"/></linearGradient></defs>
<rect x="484.70" y="336.50" width="9.30" height="198.40" fill="url(#hcg)"/>
<text x="497.20" y="338.20" font-size="4.8" fill="#222">1.0</text>
<text x="497.20" y="372.70" font-size="4.8" fill="#222">0.8</text>
<text x="497.20" y="407.21" font-size="4.8" fill="#222">0.6</text>
<text x="497.20" y="441.71" font-size="4.8" fill="#222">0.4</text>
<text x="497.20" y="476.22" font-size="4.8" fill="#222">0.2</text>
<text x="497.20" y="510.72" font-size="4.8" fill="#222">0.0</text>
<path d="M276.72 534.90v1.7M267.45 345.52h-1.7M295.27 534.90v1.7M267.45 363.55h-1.7M313.82 534.90v1.7M267.45 381.59h-1.7M332.38 534.90v1.7M267.45 399.63h-1.7M350.93 534.90v1.7M267.45 417.66h-1.7M369.48 534.90v1.7M267.45 435.70h-1.7M388.02 534.90v1.7M267.45 453.74h-1.7M406.57 534.90v1.7M267.45 471.77h-1.7M425.12 534.90v1.7M267.45 489.81h-1.7M443.67 534.90v1.7M267.45 507.85h-1.7M462.23 534.90v1.7M267.45 525.88h-1.7M494.00 336.50h1.7M494.00 371.00h1.7M494.00 405.51h1.7M494.00 440.01h1.7M494.00 474.52h1.7M494.00 509.02h1.7" stroke="#333" stroke-width="0.4" fill="none"/>
</g>
</svg>
</body></html>
